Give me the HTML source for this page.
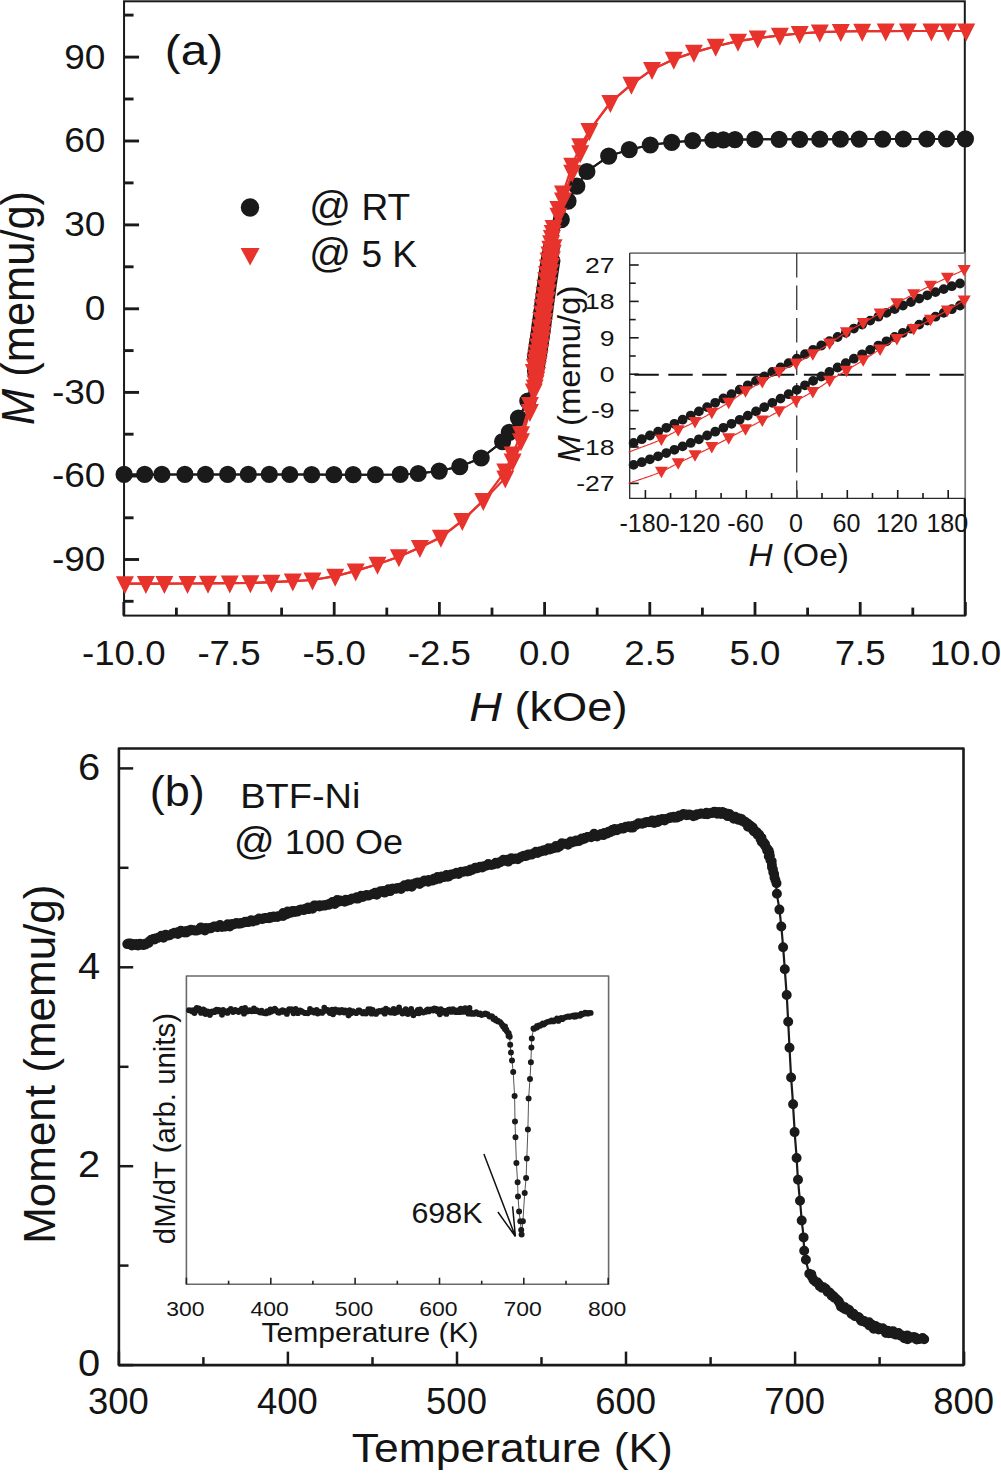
<!DOCTYPE html>
<html><head><meta charset="utf-8"><style>
html,body{margin:0;padding:0;background:#fff;}
svg{display:block;}
text{font-family:'Liberation Sans', sans-serif;fill:#141414;}
</style></head><body>
<svg width="1001" height="1473" viewBox="0 0 1001 1473">
<rect width="1001" height="1473" fill="#fff"/>
<rect x="124.05" y="1.3" width="840.75" height="614.30" fill="none" stroke="#1a1a1a" stroke-width="2"/>
<line x1="124.05" y1="601.3" x2="133.55" y2="601.3" stroke="#1a1a1a" stroke-width="2.9"/>
<line x1="124.05" y1="559.5" x2="139.05" y2="559.5" stroke="#1a1a1a" stroke-width="2.9"/>
<line x1="124.05" y1="517.8" x2="133.55" y2="517.8" stroke="#1a1a1a" stroke-width="2.9"/>
<line x1="124.05" y1="476.0" x2="139.05" y2="476.0" stroke="#1a1a1a" stroke-width="2.9"/>
<line x1="124.05" y1="434.2" x2="133.55" y2="434.2" stroke="#1a1a1a" stroke-width="2.9"/>
<line x1="124.05" y1="392.4" x2="139.05" y2="392.4" stroke="#1a1a1a" stroke-width="2.9"/>
<line x1="124.05" y1="350.6" x2="133.55" y2="350.6" stroke="#1a1a1a" stroke-width="2.9"/>
<line x1="124.05" y1="308.8" x2="139.05" y2="308.8" stroke="#1a1a1a" stroke-width="2.9"/>
<line x1="124.05" y1="266.8" x2="133.55" y2="266.8" stroke="#1a1a1a" stroke-width="2.9"/>
<line x1="124.05" y1="224.9" x2="139.05" y2="224.9" stroke="#1a1a1a" stroke-width="2.9"/>
<line x1="124.05" y1="182.9" x2="133.55" y2="182.9" stroke="#1a1a1a" stroke-width="2.9"/>
<line x1="124.05" y1="141.0" x2="139.05" y2="141.0" stroke="#1a1a1a" stroke-width="2.9"/>
<line x1="124.05" y1="99.0" x2="133.55" y2="99.0" stroke="#1a1a1a" stroke-width="2.9"/>
<line x1="124.05" y1="57.1" x2="139.05" y2="57.1" stroke="#1a1a1a" stroke-width="2.9"/>
<line x1="124.05" y1="15.1" x2="133.55" y2="15.1" stroke="#1a1a1a" stroke-width="2.9"/>
<text x="0" y="0" font-size="35.52" text-anchor="end" transform="translate(105.47 571.05) scale(1.0440 1)">-90</text>
<text x="0" y="0" font-size="35.52" text-anchor="end" transform="translate(105.47 487.47) scale(1.0440 1)">-60</text>
<text x="0" y="0" font-size="35.52" text-anchor="end" transform="translate(105.47 403.89) scale(1.0440 1)">-30</text>
<text x="0" y="0" font-size="35.52" text-anchor="end" transform="translate(105.47 320.31) scale(1.0440 1)">0</text>
<text x="0" y="0" font-size="35.52" text-anchor="end" transform="translate(105.47 236.40) scale(1.0440 1)">30</text>
<text x="0" y="0" font-size="35.52" text-anchor="end" transform="translate(105.47 152.49) scale(1.0440 1)">60</text>
<text x="0" y="0" font-size="35.52" text-anchor="end" transform="translate(105.47 68.58) scale(1.0440 1)">90</text>
<line x1="123.8" y1="615.6" x2="123.8" y2="602.0" stroke="#1a1a1a" stroke-width="2.8"/>
<line x1="176.4" y1="615.6" x2="176.4" y2="607.6" stroke="#1a1a1a" stroke-width="2.8"/>
<line x1="229.0" y1="615.6" x2="229.0" y2="602.0" stroke="#1a1a1a" stroke-width="2.8"/>
<line x1="281.6" y1="615.6" x2="281.6" y2="607.6" stroke="#1a1a1a" stroke-width="2.8"/>
<line x1="334.2" y1="615.6" x2="334.2" y2="602.0" stroke="#1a1a1a" stroke-width="2.8"/>
<line x1="386.8" y1="615.6" x2="386.8" y2="607.6" stroke="#1a1a1a" stroke-width="2.8"/>
<line x1="439.4" y1="615.6" x2="439.4" y2="602.0" stroke="#1a1a1a" stroke-width="2.8"/>
<line x1="492.0" y1="615.6" x2="492.0" y2="607.6" stroke="#1a1a1a" stroke-width="2.8"/>
<line x1="544.6" y1="615.6" x2="544.6" y2="602.0" stroke="#1a1a1a" stroke-width="2.8"/>
<line x1="597.2" y1="615.6" x2="597.2" y2="607.6" stroke="#1a1a1a" stroke-width="2.8"/>
<line x1="649.8" y1="615.6" x2="649.8" y2="602.0" stroke="#1a1a1a" stroke-width="2.8"/>
<line x1="702.4" y1="615.6" x2="702.4" y2="607.6" stroke="#1a1a1a" stroke-width="2.8"/>
<line x1="755.0" y1="615.6" x2="755.0" y2="602.0" stroke="#1a1a1a" stroke-width="2.8"/>
<line x1="807.6" y1="615.6" x2="807.6" y2="607.6" stroke="#1a1a1a" stroke-width="2.8"/>
<line x1="860.2" y1="615.6" x2="860.2" y2="602.0" stroke="#1a1a1a" stroke-width="2.8"/>
<line x1="912.8" y1="615.6" x2="912.8" y2="607.6" stroke="#1a1a1a" stroke-width="2.8"/>
<line x1="965.4" y1="615.6" x2="965.4" y2="602.0" stroke="#1a1a1a" stroke-width="2.8"/>
<text x="0" y="0" font-size="34.97" text-anchor="middle" transform="translate(123.81 665.00) scale(1.0496 1)">-10.0</text>
<text x="0" y="0" font-size="34.97" text-anchor="middle" transform="translate(229.01 665.00) scale(1.0496 1)">-7.5</text>
<text x="0" y="0" font-size="34.97" text-anchor="middle" transform="translate(334.21 665.00) scale(1.0496 1)">-5.0</text>
<text x="0" y="0" font-size="34.97" text-anchor="middle" transform="translate(439.41 665.00) scale(1.0496 1)">-2.5</text>
<text x="0" y="0" font-size="34.97" text-anchor="middle" transform="translate(544.61 665.00) scale(1.0496 1)">0.0</text>
<text x="0" y="0" font-size="34.97" text-anchor="middle" transform="translate(649.81 665.00) scale(1.0496 1)">2.5</text>
<text x="0" y="0" font-size="34.97" text-anchor="middle" transform="translate(755.01 665.00) scale(1.0496 1)">5.0</text>
<text x="0" y="0" font-size="34.97" text-anchor="middle" transform="translate(860.21 665.00) scale(1.0496 1)">7.5</text>
<text x="0" y="0" font-size="34.97" text-anchor="middle" transform="translate(965.41 665.00) scale(1.0496 1)">10.0</text>
<text x="0" y="0" font-size="41.31" text-anchor="start" transform="translate(469.20 720.96) scale(1.0945 1)"><tspan font-style="italic">H</tspan> (kOe)</text>
<text x="0" y="0" font-size="43.42" text-anchor="middle" transform="translate(34.28 307.90) rotate(-90) scale(1 1.0468)"><tspan font-style="italic">M</tspan> (memu/g)</text>
<text x="0" y="0" font-size="42.42" text-anchor="start" transform="translate(164.75 65.11) scale(1.1262 1)">(a)</text>
<circle cx="250" cy="207.5" r="9.2" fill="#1a1a1a"/>
<path d="M240.6 248 L259.6 248 L250.1 265.6 Z" fill="#e8322c"/>
<text x="0" y="0" font-size="36.00" text-anchor="start" transform="translate(308.99 220.11) scale(1.0300 1)"><tspan font-size="1.12em">@</tspan> RT</text>
<text x="0" y="0" font-size="36.00" text-anchor="start" transform="translate(309.01 266.61) scale(1.0300 1)"><tspan font-size="1.12em">@</tspan> 5 K</text>
<g>
<path d="M965.4 138.9 L946.5 138.9 L926.8 139.0 L903.3 139.0 L882.7 139.1 L859.2 139.1 L840.4 139.2 L819.8 139.2 L799.7 139.3 L779.1 139.3 L754.8 139.4 L735.0 139.6 L723.3 139.8 L712.8 140.0 L692.7 140.7 L671.7 142.3 L650.3 145.0 L629.3 149.6 L608.7 156.1 L586.9 171.5 L576.8 186.2 L568.0 201.2 L561.3 219.6 L551.9 246.0 L551.4 248.1 L551.0 250.2 L550.6 252.5 L550.1 254.9 L549.7 257.4 L549.2 259.9 L548.8 262.6 L548.3 265.3 L547.9 268.2 L547.5 271.1 L547.0 274.0 L546.6 277.1 L546.1 280.2 L545.7 283.3 L545.2 286.5 L544.8 289.7 L544.4 293.0 L543.9 296.2 L543.5 299.5 L543.0 302.9 L542.6 306.2 L542.2 309.5 L541.7 312.8 L541.3 316.2 L540.8 319.5 L540.4 322.8 L539.9 326.0 L539.5 329.3 L539.1 332.5 L538.6 335.6 L538.2 338.7 L537.7 341.8 L537.3 344.8 L536.8 347.7 L536.4 350.6 L536.0 353.4 L535.5 356.1 L527.8 401.0 L518.5 418.1 L509.3 432.3 L502.6 441.6 L481.2 458.0 L459.8 466.6 L439.2 471.1 L418.2 473.5 L400.2 474.4 L375.4 474.7 L353.2 474.7 L333.9 474.7 L311.7 474.6 L289.8 474.5 L269.3 474.4 L248.3 474.4 L227.7 474.4 L205.5 474.4 L184.9 474.4 L161.9 474.4 L144.7 474.4 L124.1 474.4" fill="none" stroke="#1a1a1a" stroke-width="2"/>
<path d="M124.1 474.4 L144.7 474.4 L161.9 474.4 L184.9 474.4 L205.5 474.4 L227.7 474.4 L248.3 474.4 L269.3 474.4 L289.8 474.5 L311.7 474.6 L333.9 474.7 L353.2 474.7 L375.4 474.7 L400.2 474.4 L418.2 473.5 L439.2 471.1 L459.8 466.6 L481.2 458.0 L502.6 441.6 L509.3 432.3 L518.5 418.1 L527.8 401.0 L535.5 371.2 L536.0 369.1 L536.4 367.0 L536.8 364.7 L537.3 362.3 L537.7 359.8 L538.2 357.3 L538.6 354.6 L539.1 351.9 L539.5 349.0 L539.9 346.1 L540.4 343.2 L540.8 340.1 L541.3 337.0 L541.7 333.9 L542.2 330.7 L542.6 327.5 L543.0 324.2 L543.5 321.0 L543.9 317.7 L544.4 314.3 L544.8 311.0 L545.2 307.7 L545.7 304.4 L546.1 301.0 L546.6 297.7 L547.0 294.4 L547.5 291.2 L547.9 287.9 L548.3 284.7 L548.8 281.6 L549.2 278.5 L549.7 275.4 L550.1 272.4 L550.6 269.5 L551.0 266.6 L551.4 263.8 L551.9 261.1 L561.3 219.6 L568.0 201.2 L576.8 186.2 L586.9 171.5 L608.7 156.1 L629.3 149.6 L650.3 145.0 L671.7 142.3 L692.7 140.7 L712.8 140.0 L723.3 139.8 L735.0 139.6 L754.8 139.4 L779.1 139.3 L799.7 139.3 L819.8 139.2 L840.4 139.2 L859.2 139.1 L882.7 139.1 L903.3 139.0 L926.8 139.0 L946.5 138.9 L965.4 138.9" fill="none" stroke="#1a1a1a" stroke-width="2"/>
<path d="M956.8 138.9a8.6 8.6 0 1 0 17.2 0a8.6 8.6 0 1 0 -17.2 0zM937.9 138.9a8.6 8.6 0 1 0 17.2 0a8.6 8.6 0 1 0 -17.2 0zM918.2 139.0a8.6 8.6 0 1 0 17.2 0a8.6 8.6 0 1 0 -17.2 0zM894.7 139.0a8.6 8.6 0 1 0 17.2 0a8.6 8.6 0 1 0 -17.2 0zM874.1 139.1a8.6 8.6 0 1 0 17.2 0a8.6 8.6 0 1 0 -17.2 0zM850.6 139.1a8.6 8.6 0 1 0 17.2 0a8.6 8.6 0 1 0 -17.2 0zM831.8 139.2a8.6 8.6 0 1 0 17.2 0a8.6 8.6 0 1 0 -17.2 0zM811.2 139.2a8.6 8.6 0 1 0 17.2 0a8.6 8.6 0 1 0 -17.2 0zM791.1 139.3a8.6 8.6 0 1 0 17.2 0a8.6 8.6 0 1 0 -17.2 0zM770.5 139.3a8.6 8.6 0 1 0 17.2 0a8.6 8.6 0 1 0 -17.2 0zM746.2 139.4a8.6 8.6 0 1 0 17.2 0a8.6 8.6 0 1 0 -17.2 0zM726.4 139.6a8.6 8.6 0 1 0 17.2 0a8.6 8.6 0 1 0 -17.2 0zM714.7 139.8a8.6 8.6 0 1 0 17.2 0a8.6 8.6 0 1 0 -17.2 0zM704.2 140.0a8.6 8.6 0 1 0 17.2 0a8.6 8.6 0 1 0 -17.2 0zM684.1 140.7a8.6 8.6 0 1 0 17.2 0a8.6 8.6 0 1 0 -17.2 0zM663.1 142.3a8.6 8.6 0 1 0 17.2 0a8.6 8.6 0 1 0 -17.2 0zM641.7 145.0a8.6 8.6 0 1 0 17.2 0a8.6 8.6 0 1 0 -17.2 0zM620.7 149.6a8.6 8.6 0 1 0 17.2 0a8.6 8.6 0 1 0 -17.2 0zM600.1 156.1a8.6 8.6 0 1 0 17.2 0a8.6 8.6 0 1 0 -17.2 0zM578.3 171.5a8.6 8.6 0 1 0 17.2 0a8.6 8.6 0 1 0 -17.2 0zM568.2 186.2a8.6 8.6 0 1 0 17.2 0a8.6 8.6 0 1 0 -17.2 0zM559.4 201.2a8.6 8.6 0 1 0 17.2 0a8.6 8.6 0 1 0 -17.2 0zM552.7 219.6a8.6 8.6 0 1 0 17.2 0a8.6 8.6 0 1 0 -17.2 0zM543.3 246.0a8.6 8.6 0 1 0 17.2 0a8.6 8.6 0 1 0 -17.2 0zM542.8 248.1a8.6 8.6 0 1 0 17.2 0a8.6 8.6 0 1 0 -17.2 0zM542.4 250.2a8.6 8.6 0 1 0 17.2 0a8.6 8.6 0 1 0 -17.2 0zM542.0 252.5a8.6 8.6 0 1 0 17.2 0a8.6 8.6 0 1 0 -17.2 0zM541.5 254.9a8.6 8.6 0 1 0 17.2 0a8.6 8.6 0 1 0 -17.2 0zM541.1 257.4a8.6 8.6 0 1 0 17.2 0a8.6 8.6 0 1 0 -17.2 0zM540.6 259.9a8.6 8.6 0 1 0 17.2 0a8.6 8.6 0 1 0 -17.2 0zM540.2 262.6a8.6 8.6 0 1 0 17.2 0a8.6 8.6 0 1 0 -17.2 0zM539.7 265.3a8.6 8.6 0 1 0 17.2 0a8.6 8.6 0 1 0 -17.2 0zM539.3 268.2a8.6 8.6 0 1 0 17.2 0a8.6 8.6 0 1 0 -17.2 0zM538.9 271.1a8.6 8.6 0 1 0 17.2 0a8.6 8.6 0 1 0 -17.2 0zM538.4 274.0a8.6 8.6 0 1 0 17.2 0a8.6 8.6 0 1 0 -17.2 0zM538.0 277.1a8.6 8.6 0 1 0 17.2 0a8.6 8.6 0 1 0 -17.2 0zM537.5 280.2a8.6 8.6 0 1 0 17.2 0a8.6 8.6 0 1 0 -17.2 0zM537.1 283.3a8.6 8.6 0 1 0 17.2 0a8.6 8.6 0 1 0 -17.2 0zM536.6 286.5a8.6 8.6 0 1 0 17.2 0a8.6 8.6 0 1 0 -17.2 0zM536.2 289.7a8.6 8.6 0 1 0 17.2 0a8.6 8.6 0 1 0 -17.2 0zM535.8 293.0a8.6 8.6 0 1 0 17.2 0a8.6 8.6 0 1 0 -17.2 0zM535.3 296.2a8.6 8.6 0 1 0 17.2 0a8.6 8.6 0 1 0 -17.2 0zM534.9 299.5a8.6 8.6 0 1 0 17.2 0a8.6 8.6 0 1 0 -17.2 0zM534.4 302.9a8.6 8.6 0 1 0 17.2 0a8.6 8.6 0 1 0 -17.2 0zM534.0 306.2a8.6 8.6 0 1 0 17.2 0a8.6 8.6 0 1 0 -17.2 0zM533.6 309.5a8.6 8.6 0 1 0 17.2 0a8.6 8.6 0 1 0 -17.2 0zM533.1 312.8a8.6 8.6 0 1 0 17.2 0a8.6 8.6 0 1 0 -17.2 0zM532.7 316.2a8.6 8.6 0 1 0 17.2 0a8.6 8.6 0 1 0 -17.2 0zM532.2 319.5a8.6 8.6 0 1 0 17.2 0a8.6 8.6 0 1 0 -17.2 0zM531.8 322.8a8.6 8.6 0 1 0 17.2 0a8.6 8.6 0 1 0 -17.2 0zM531.3 326.0a8.6 8.6 0 1 0 17.2 0a8.6 8.6 0 1 0 -17.2 0zM530.9 329.3a8.6 8.6 0 1 0 17.2 0a8.6 8.6 0 1 0 -17.2 0zM530.5 332.5a8.6 8.6 0 1 0 17.2 0a8.6 8.6 0 1 0 -17.2 0zM530.0 335.6a8.6 8.6 0 1 0 17.2 0a8.6 8.6 0 1 0 -17.2 0zM529.6 338.7a8.6 8.6 0 1 0 17.2 0a8.6 8.6 0 1 0 -17.2 0zM529.1 341.8a8.6 8.6 0 1 0 17.2 0a8.6 8.6 0 1 0 -17.2 0zM528.7 344.8a8.6 8.6 0 1 0 17.2 0a8.6 8.6 0 1 0 -17.2 0zM528.2 347.7a8.6 8.6 0 1 0 17.2 0a8.6 8.6 0 1 0 -17.2 0zM527.8 350.6a8.6 8.6 0 1 0 17.2 0a8.6 8.6 0 1 0 -17.2 0zM527.4 353.4a8.6 8.6 0 1 0 17.2 0a8.6 8.6 0 1 0 -17.2 0zM526.9 356.1a8.6 8.6 0 1 0 17.2 0a8.6 8.6 0 1 0 -17.2 0zM519.2 401.0a8.6 8.6 0 1 0 17.2 0a8.6 8.6 0 1 0 -17.2 0zM509.9 418.1a8.6 8.6 0 1 0 17.2 0a8.6 8.6 0 1 0 -17.2 0zM500.7 432.3a8.6 8.6 0 1 0 17.2 0a8.6 8.6 0 1 0 -17.2 0zM494.0 441.6a8.6 8.6 0 1 0 17.2 0a8.6 8.6 0 1 0 -17.2 0zM472.6 458.0a8.6 8.6 0 1 0 17.2 0a8.6 8.6 0 1 0 -17.2 0zM451.2 466.6a8.6 8.6 0 1 0 17.2 0a8.6 8.6 0 1 0 -17.2 0zM430.6 471.1a8.6 8.6 0 1 0 17.2 0a8.6 8.6 0 1 0 -17.2 0zM409.6 473.5a8.6 8.6 0 1 0 17.2 0a8.6 8.6 0 1 0 -17.2 0zM391.6 474.4a8.6 8.6 0 1 0 17.2 0a8.6 8.6 0 1 0 -17.2 0zM366.8 474.7a8.6 8.6 0 1 0 17.2 0a8.6 8.6 0 1 0 -17.2 0zM344.6 474.7a8.6 8.6 0 1 0 17.2 0a8.6 8.6 0 1 0 -17.2 0zM325.3 474.7a8.6 8.6 0 1 0 17.2 0a8.6 8.6 0 1 0 -17.2 0zM303.1 474.6a8.6 8.6 0 1 0 17.2 0a8.6 8.6 0 1 0 -17.2 0zM281.2 474.5a8.6 8.6 0 1 0 17.2 0a8.6 8.6 0 1 0 -17.2 0zM260.7 474.4a8.6 8.6 0 1 0 17.2 0a8.6 8.6 0 1 0 -17.2 0zM239.7 474.4a8.6 8.6 0 1 0 17.2 0a8.6 8.6 0 1 0 -17.2 0zM219.1 474.4a8.6 8.6 0 1 0 17.2 0a8.6 8.6 0 1 0 -17.2 0zM196.9 474.4a8.6 8.6 0 1 0 17.2 0a8.6 8.6 0 1 0 -17.2 0zM176.3 474.4a8.6 8.6 0 1 0 17.2 0a8.6 8.6 0 1 0 -17.2 0zM153.3 474.4a8.6 8.6 0 1 0 17.2 0a8.6 8.6 0 1 0 -17.2 0zM136.1 474.4a8.6 8.6 0 1 0 17.2 0a8.6 8.6 0 1 0 -17.2 0zM115.5 474.4a8.6 8.6 0 1 0 17.2 0a8.6 8.6 0 1 0 -17.2 0zM115.5 474.4a8.6 8.6 0 1 0 17.2 0a8.6 8.6 0 1 0 -17.2 0zM136.1 474.4a8.6 8.6 0 1 0 17.2 0a8.6 8.6 0 1 0 -17.2 0zM153.3 474.4a8.6 8.6 0 1 0 17.2 0a8.6 8.6 0 1 0 -17.2 0zM176.3 474.4a8.6 8.6 0 1 0 17.2 0a8.6 8.6 0 1 0 -17.2 0zM196.9 474.4a8.6 8.6 0 1 0 17.2 0a8.6 8.6 0 1 0 -17.2 0zM219.1 474.4a8.6 8.6 0 1 0 17.2 0a8.6 8.6 0 1 0 -17.2 0zM239.7 474.4a8.6 8.6 0 1 0 17.2 0a8.6 8.6 0 1 0 -17.2 0zM260.7 474.4a8.6 8.6 0 1 0 17.2 0a8.6 8.6 0 1 0 -17.2 0zM281.2 474.5a8.6 8.6 0 1 0 17.2 0a8.6 8.6 0 1 0 -17.2 0zM303.1 474.6a8.6 8.6 0 1 0 17.2 0a8.6 8.6 0 1 0 -17.2 0zM325.3 474.7a8.6 8.6 0 1 0 17.2 0a8.6 8.6 0 1 0 -17.2 0zM344.6 474.7a8.6 8.6 0 1 0 17.2 0a8.6 8.6 0 1 0 -17.2 0zM366.8 474.7a8.6 8.6 0 1 0 17.2 0a8.6 8.6 0 1 0 -17.2 0zM391.6 474.4a8.6 8.6 0 1 0 17.2 0a8.6 8.6 0 1 0 -17.2 0zM409.6 473.5a8.6 8.6 0 1 0 17.2 0a8.6 8.6 0 1 0 -17.2 0zM430.6 471.1a8.6 8.6 0 1 0 17.2 0a8.6 8.6 0 1 0 -17.2 0zM451.2 466.6a8.6 8.6 0 1 0 17.2 0a8.6 8.6 0 1 0 -17.2 0zM472.6 458.0a8.6 8.6 0 1 0 17.2 0a8.6 8.6 0 1 0 -17.2 0zM494.0 441.6a8.6 8.6 0 1 0 17.2 0a8.6 8.6 0 1 0 -17.2 0zM500.7 432.3a8.6 8.6 0 1 0 17.2 0a8.6 8.6 0 1 0 -17.2 0zM509.9 418.1a8.6 8.6 0 1 0 17.2 0a8.6 8.6 0 1 0 -17.2 0zM519.2 401.0a8.6 8.6 0 1 0 17.2 0a8.6 8.6 0 1 0 -17.2 0zM526.9 371.2a8.6 8.6 0 1 0 17.2 0a8.6 8.6 0 1 0 -17.2 0zM527.4 369.1a8.6 8.6 0 1 0 17.2 0a8.6 8.6 0 1 0 -17.2 0zM527.8 367.0a8.6 8.6 0 1 0 17.2 0a8.6 8.6 0 1 0 -17.2 0zM528.2 364.7a8.6 8.6 0 1 0 17.2 0a8.6 8.6 0 1 0 -17.2 0zM528.7 362.3a8.6 8.6 0 1 0 17.2 0a8.6 8.6 0 1 0 -17.2 0zM529.1 359.8a8.6 8.6 0 1 0 17.2 0a8.6 8.6 0 1 0 -17.2 0zM529.6 357.3a8.6 8.6 0 1 0 17.2 0a8.6 8.6 0 1 0 -17.2 0zM530.0 354.6a8.6 8.6 0 1 0 17.2 0a8.6 8.6 0 1 0 -17.2 0zM530.5 351.9a8.6 8.6 0 1 0 17.2 0a8.6 8.6 0 1 0 -17.2 0zM530.9 349.0a8.6 8.6 0 1 0 17.2 0a8.6 8.6 0 1 0 -17.2 0zM531.3 346.1a8.6 8.6 0 1 0 17.2 0a8.6 8.6 0 1 0 -17.2 0zM531.8 343.2a8.6 8.6 0 1 0 17.2 0a8.6 8.6 0 1 0 -17.2 0zM532.2 340.1a8.6 8.6 0 1 0 17.2 0a8.6 8.6 0 1 0 -17.2 0zM532.7 337.0a8.6 8.6 0 1 0 17.2 0a8.6 8.6 0 1 0 -17.2 0zM533.1 333.9a8.6 8.6 0 1 0 17.2 0a8.6 8.6 0 1 0 -17.2 0zM533.6 330.7a8.6 8.6 0 1 0 17.2 0a8.6 8.6 0 1 0 -17.2 0zM534.0 327.5a8.6 8.6 0 1 0 17.2 0a8.6 8.6 0 1 0 -17.2 0zM534.4 324.2a8.6 8.6 0 1 0 17.2 0a8.6 8.6 0 1 0 -17.2 0zM534.9 321.0a8.6 8.6 0 1 0 17.2 0a8.6 8.6 0 1 0 -17.2 0zM535.3 317.7a8.6 8.6 0 1 0 17.2 0a8.6 8.6 0 1 0 -17.2 0zM535.8 314.3a8.6 8.6 0 1 0 17.2 0a8.6 8.6 0 1 0 -17.2 0zM536.2 311.0a8.6 8.6 0 1 0 17.2 0a8.6 8.6 0 1 0 -17.2 0zM536.6 307.7a8.6 8.6 0 1 0 17.2 0a8.6 8.6 0 1 0 -17.2 0zM537.1 304.4a8.6 8.6 0 1 0 17.2 0a8.6 8.6 0 1 0 -17.2 0zM537.5 301.0a8.6 8.6 0 1 0 17.2 0a8.6 8.6 0 1 0 -17.2 0zM538.0 297.7a8.6 8.6 0 1 0 17.2 0a8.6 8.6 0 1 0 -17.2 0zM538.4 294.4a8.6 8.6 0 1 0 17.2 0a8.6 8.6 0 1 0 -17.2 0zM538.9 291.2a8.6 8.6 0 1 0 17.2 0a8.6 8.6 0 1 0 -17.2 0zM539.3 287.9a8.6 8.6 0 1 0 17.2 0a8.6 8.6 0 1 0 -17.2 0zM539.7 284.7a8.6 8.6 0 1 0 17.2 0a8.6 8.6 0 1 0 -17.2 0zM540.2 281.6a8.6 8.6 0 1 0 17.2 0a8.6 8.6 0 1 0 -17.2 0zM540.6 278.5a8.6 8.6 0 1 0 17.2 0a8.6 8.6 0 1 0 -17.2 0zM541.1 275.4a8.6 8.6 0 1 0 17.2 0a8.6 8.6 0 1 0 -17.2 0zM541.5 272.4a8.6 8.6 0 1 0 17.2 0a8.6 8.6 0 1 0 -17.2 0zM542.0 269.5a8.6 8.6 0 1 0 17.2 0a8.6 8.6 0 1 0 -17.2 0zM542.4 266.6a8.6 8.6 0 1 0 17.2 0a8.6 8.6 0 1 0 -17.2 0zM542.8 263.8a8.6 8.6 0 1 0 17.2 0a8.6 8.6 0 1 0 -17.2 0zM543.3 261.1a8.6 8.6 0 1 0 17.2 0a8.6 8.6 0 1 0 -17.2 0zM552.7 219.6a8.6 8.6 0 1 0 17.2 0a8.6 8.6 0 1 0 -17.2 0zM559.4 201.2a8.6 8.6 0 1 0 17.2 0a8.6 8.6 0 1 0 -17.2 0zM568.2 186.2a8.6 8.6 0 1 0 17.2 0a8.6 8.6 0 1 0 -17.2 0zM578.3 171.5a8.6 8.6 0 1 0 17.2 0a8.6 8.6 0 1 0 -17.2 0zM600.1 156.1a8.6 8.6 0 1 0 17.2 0a8.6 8.6 0 1 0 -17.2 0zM620.7 149.6a8.6 8.6 0 1 0 17.2 0a8.6 8.6 0 1 0 -17.2 0zM641.7 145.0a8.6 8.6 0 1 0 17.2 0a8.6 8.6 0 1 0 -17.2 0zM663.1 142.3a8.6 8.6 0 1 0 17.2 0a8.6 8.6 0 1 0 -17.2 0zM684.1 140.7a8.6 8.6 0 1 0 17.2 0a8.6 8.6 0 1 0 -17.2 0zM704.2 140.0a8.6 8.6 0 1 0 17.2 0a8.6 8.6 0 1 0 -17.2 0zM714.7 139.8a8.6 8.6 0 1 0 17.2 0a8.6 8.6 0 1 0 -17.2 0zM726.4 139.6a8.6 8.6 0 1 0 17.2 0a8.6 8.6 0 1 0 -17.2 0zM746.2 139.4a8.6 8.6 0 1 0 17.2 0a8.6 8.6 0 1 0 -17.2 0zM770.5 139.3a8.6 8.6 0 1 0 17.2 0a8.6 8.6 0 1 0 -17.2 0zM791.1 139.3a8.6 8.6 0 1 0 17.2 0a8.6 8.6 0 1 0 -17.2 0zM811.2 139.2a8.6 8.6 0 1 0 17.2 0a8.6 8.6 0 1 0 -17.2 0zM831.8 139.2a8.6 8.6 0 1 0 17.2 0a8.6 8.6 0 1 0 -17.2 0zM850.6 139.1a8.6 8.6 0 1 0 17.2 0a8.6 8.6 0 1 0 -17.2 0zM874.1 139.1a8.6 8.6 0 1 0 17.2 0a8.6 8.6 0 1 0 -17.2 0zM894.7 139.0a8.6 8.6 0 1 0 17.2 0a8.6 8.6 0 1 0 -17.2 0zM918.2 139.0a8.6 8.6 0 1 0 17.2 0a8.6 8.6 0 1 0 -17.2 0zM937.9 138.9a8.6 8.6 0 1 0 17.2 0a8.6 8.6 0 1 0 -17.2 0zM956.8 138.9a8.6 8.6 0 1 0 17.2 0a8.6 8.6 0 1 0 -17.2 0z" fill="#1a1a1a"/>
<path d="M966.2 31.0 L948.2 31.0 L931.4 31.0 L907.9 31.0 L885.7 31.1 L862.2 31.2 L840.8 31.5 L819.8 32.1 L799.7 33.5 L779.9 35.4 L757.7 38.2 L738.0 41.2 L715.7 46.3 L693.9 52.4 L673.8 59.3 L652.0 69.6 L631.4 84.4 L610.4 102.5 L589.4 130.6 L580.2 145.9 L572.2 165.3 L563.0 193.1 L558.4 208.4 L553.6 227.4 L552.7 232.4 L551.9 237.7 L551.1 242.9 L550.3 248.4 L549.5 254.1 L548.6 260.2 L547.8 267.0 L547.0 273.5 L546.2 279.8 L545.3 287.4 L544.5 294.6 L543.7 300.8 L542.9 306.5 L542.1 313.2 L541.2 319.5 L540.4 327.1 L539.6 334.0 L538.8 340.3 L537.9 345.9 L537.1 352.1 L536.3 357.1 L535.5 361.3 L534.7 366.3 L533.8 371.7 L529.9 411.5 L521.0 440.7 L512.6 461.1 L505.3 478.0 L483.3 500.6 L462.3 520.6 L440.9 537.3 L419.9 547.6 L398.9 556.8 L377.5 564.3 L355.7 570.9 L335.2 576.2 L312.5 580.0 L292.8 581.2 L271.4 582.2 L250.4 582.9 L229.8 583.1 L208.0 583.3 L187.5 583.5 L164.4 583.6 L145.9 583.7 L124.9 583.7" fill="none" stroke="#e8322c" stroke-width="2.2"/>
<path d="M124.9 583.7 L145.9 583.7 L164.4 583.6 L187.5 583.5 L208.0 583.3 L229.8 583.1 L250.4 582.9 L271.4 582.2 L292.8 581.2 L312.5 580.0 L335.2 576.2 L355.7 570.9 L377.5 564.3 L398.9 556.8 L419.9 547.6 L440.9 537.3 L462.3 520.6 L483.3 500.6 L505.3 471.1 L512.6 454.1 L521.0 433.8 L529.9 404.6 L533.8 391.0 L534.7 386.9 L535.5 382.9 L536.3 379.0 L537.1 374.5 L537.9 368.7 L538.8 363.3 L539.6 357.7 L540.4 351.7 L541.2 345.7 L542.1 339.7 L542.9 333.4 L543.7 326.6 L544.5 320.4 L545.3 313.0 L546.2 306.2 L547.0 299.2 L547.8 291.8 L548.6 284.7 L549.5 278.1 L550.3 271.8 L551.1 265.6 L551.9 258.8 L552.7 252.2 L553.6 246.8 L558.4 215.4 L563.0 200.1 L572.2 172.3 L580.2 152.8 L589.4 130.6 L610.4 102.5 L631.4 84.4 L652.0 69.6 L673.8 59.3 L693.9 52.4 L715.7 46.3 L738.0 41.2 L757.7 38.2 L779.9 35.4 L799.7 33.5 L819.8 32.1 L840.8 31.5 L862.2 31.2 L885.7 31.1 L907.9 31.0 L931.4 31.0 L948.2 31.0 L966.2 31.0" fill="none" stroke="#e8322c" stroke-width="2.2"/>
<path d="M957.2 23.4h18.0l-9.0 18.0zM939.2 23.4h18.0l-9.0 18.0zM922.4 23.4h18.0l-9.0 18.0zM898.9 23.5h18.0l-9.0 18.0zM876.7 23.6h18.0l-9.0 18.0zM853.2 23.7h18.0l-9.0 18.0zM831.8 23.9h18.0l-9.0 18.0zM810.8 24.5h18.0l-9.0 18.0zM790.7 25.9h18.0l-9.0 18.0zM770.9 27.8h18.0l-9.0 18.0zM748.7 30.6h18.0l-9.0 18.0zM729.0 33.7h18.0l-9.0 18.0zM706.7 38.7h18.0l-9.0 18.0zM684.9 44.8h18.0l-9.0 18.0zM664.8 51.8h18.0l-9.0 18.0zM643.0 62.1h18.0l-9.0 18.0zM622.4 76.8h18.0l-9.0 18.0zM601.4 94.9h18.0l-9.0 18.0zM580.4 123.0h18.0l-9.0 18.0zM571.2 138.3h18.0l-9.0 18.0zM563.2 157.8h18.0l-9.0 18.0zM554.0 185.6h18.0l-9.0 18.0zM549.4 200.9h18.0l-9.0 18.0zM544.6 219.9h18.0l-9.0 18.0zM543.7 224.9h18.0l-9.0 18.0zM542.9 230.1h18.0l-9.0 18.0zM542.1 235.3h18.0l-9.0 18.0zM541.3 240.8h18.0l-9.0 18.0zM540.5 246.5h18.0l-9.0 18.0zM539.6 252.6h18.0l-9.0 18.0zM538.8 259.5h18.0l-9.0 18.0zM538.0 266.0h18.0l-9.0 18.0zM537.2 272.2h18.0l-9.0 18.0zM536.3 279.8h18.0l-9.0 18.0zM535.5 287.0h18.0l-9.0 18.0zM534.7 293.2h18.0l-9.0 18.0zM533.9 298.9h18.0l-9.0 18.0zM533.1 305.6h18.0l-9.0 18.0zM532.2 311.9h18.0l-9.0 18.0zM531.4 319.5h18.0l-9.0 18.0zM530.6 326.5h18.0l-9.0 18.0zM529.8 332.8h18.0l-9.0 18.0zM528.9 338.3h18.0l-9.0 18.0zM528.1 344.5h18.0l-9.0 18.0zM527.3 349.5h18.0l-9.0 18.0zM526.5 353.7h18.0l-9.0 18.0zM525.7 358.7h18.0l-9.0 18.0zM524.8 364.1h18.0l-9.0 18.0zM520.9 404.0h18.0l-9.0 18.0zM512.0 433.2h18.0l-9.0 18.0zM503.6 453.5h18.0l-9.0 18.0zM496.3 470.5h18.0l-9.0 18.0zM474.3 493.0h18.0l-9.0 18.0zM453.3 513.0h18.0l-9.0 18.0zM431.9 529.7h18.0l-9.0 18.0zM410.9 540.0h18.0l-9.0 18.0zM389.9 549.2h18.0l-9.0 18.0zM368.5 556.7h18.0l-9.0 18.0zM346.7 563.4h18.0l-9.0 18.0zM326.2 568.7h18.0l-9.0 18.0zM303.5 572.5h18.0l-9.0 18.0zM283.8 573.6h18.0l-9.0 18.0zM262.4 574.7h18.0l-9.0 18.0zM241.4 575.3h18.0l-9.0 18.0zM220.8 575.6h18.0l-9.0 18.0zM199.0 575.8h18.0l-9.0 18.0zM178.5 575.9h18.0l-9.0 18.0zM155.4 576.1h18.0l-9.0 18.0zM136.9 576.1h18.0l-9.0 18.0zM115.9 576.2h18.0l-9.0 18.0zM115.9 576.2h18.0l-9.0 18.0zM136.9 576.1h18.0l-9.0 18.0zM155.4 576.1h18.0l-9.0 18.0zM178.5 575.9h18.0l-9.0 18.0zM199.0 575.8h18.0l-9.0 18.0zM220.8 575.6h18.0l-9.0 18.0zM241.4 575.3h18.0l-9.0 18.0zM262.4 574.7h18.0l-9.0 18.0zM283.8 573.6h18.0l-9.0 18.0zM303.5 572.5h18.0l-9.0 18.0zM326.2 568.7h18.0l-9.0 18.0zM346.7 563.4h18.0l-9.0 18.0zM368.5 556.7h18.0l-9.0 18.0zM389.9 549.2h18.0l-9.0 18.0zM410.9 540.0h18.0l-9.0 18.0zM431.9 529.7h18.0l-9.0 18.0zM453.3 513.0h18.0l-9.0 18.0zM474.3 493.0h18.0l-9.0 18.0zM496.3 463.5h18.0l-9.0 18.0zM503.6 446.5h18.0l-9.0 18.0zM512.0 426.2h18.0l-9.0 18.0zM520.9 397.0h18.0l-9.0 18.0zM524.8 383.5h18.0l-9.0 18.0zM525.7 379.4h18.0l-9.0 18.0zM526.5 375.3h18.0l-9.0 18.0zM527.3 371.5h18.0l-9.0 18.0zM528.1 366.9h18.0l-9.0 18.0zM528.9 361.1h18.0l-9.0 18.0zM529.8 355.7h18.0l-9.0 18.0zM530.6 350.2h18.0l-9.0 18.0zM531.4 344.2h18.0l-9.0 18.0zM532.2 338.2h18.0l-9.0 18.0zM533.1 332.1h18.0l-9.0 18.0zM533.9 325.9h18.0l-9.0 18.0zM534.7 319.1h18.0l-9.0 18.0zM535.5 312.9h18.0l-9.0 18.0zM536.3 305.4h18.0l-9.0 18.0zM537.2 298.6h18.0l-9.0 18.0zM538.0 291.6h18.0l-9.0 18.0zM538.8 284.3h18.0l-9.0 18.0zM539.6 277.2h18.0l-9.0 18.0zM540.5 270.6h18.0l-9.0 18.0zM541.3 264.3h18.0l-9.0 18.0zM542.1 258.0h18.0l-9.0 18.0zM542.9 251.3h18.0l-9.0 18.0zM543.7 244.7h18.0l-9.0 18.0zM544.6 239.3h18.0l-9.0 18.0zM549.4 207.8h18.0l-9.0 18.0zM554.0 192.5h18.0l-9.0 18.0zM563.2 164.7h18.0l-9.0 18.0zM571.2 145.2h18.0l-9.0 18.0zM580.4 123.0h18.0l-9.0 18.0zM601.4 94.9h18.0l-9.0 18.0zM622.4 76.8h18.0l-9.0 18.0zM643.0 62.1h18.0l-9.0 18.0zM664.8 51.8h18.0l-9.0 18.0zM684.9 44.8h18.0l-9.0 18.0zM706.7 38.7h18.0l-9.0 18.0zM729.0 33.7h18.0l-9.0 18.0zM748.7 30.6h18.0l-9.0 18.0zM770.9 27.8h18.0l-9.0 18.0zM790.7 25.9h18.0l-9.0 18.0zM810.8 24.5h18.0l-9.0 18.0zM831.8 23.9h18.0l-9.0 18.0zM853.2 23.7h18.0l-9.0 18.0zM876.7 23.6h18.0l-9.0 18.0zM898.9 23.5h18.0l-9.0 18.0zM922.4 23.4h18.0l-9.0 18.0zM939.2 23.4h18.0l-9.0 18.0zM957.2 23.4h18.0l-9.0 18.0z" fill="#e8322c"/>
</g>
<rect x="629.7" y="253.1" width="335.5" height="245.3" fill="#fff" stroke="none"/>
<path d="M629.7 253.1 H965.2 V498.4" fill="none" stroke="#7a7a7a" stroke-width="1.8" stroke-linejoin="round"/>
<path d="M629.7 253.1 V498.4 H965.2" fill="none" stroke="#2a2a2a" stroke-width="1.3"/>
<line x1="964.8" y1="498.4" x2="964.8" y2="615.6" stroke="#1a1a1a" stroke-width="1.8"/>
<line x1="629.7" y1="483.4" x2="638.7" y2="483.4" stroke="#1a1a1a" stroke-width="1.6"/>
<line x1="629.7" y1="465.2" x2="635.7" y2="465.2" stroke="#1a1a1a" stroke-width="1.6"/>
<line x1="629.7" y1="447.0" x2="638.7" y2="447.0" stroke="#1a1a1a" stroke-width="1.6"/>
<line x1="629.7" y1="428.8" x2="635.7" y2="428.8" stroke="#1a1a1a" stroke-width="1.6"/>
<line x1="629.7" y1="410.6" x2="638.7" y2="410.6" stroke="#1a1a1a" stroke-width="1.6"/>
<line x1="629.7" y1="392.4" x2="635.7" y2="392.4" stroke="#1a1a1a" stroke-width="1.6"/>
<line x1="629.7" y1="374.2" x2="638.7" y2="374.2" stroke="#1a1a1a" stroke-width="1.6"/>
<line x1="629.7" y1="356.0" x2="635.7" y2="356.0" stroke="#1a1a1a" stroke-width="1.6"/>
<line x1="629.7" y1="337.8" x2="638.7" y2="337.8" stroke="#1a1a1a" stroke-width="1.6"/>
<line x1="629.7" y1="319.6" x2="635.7" y2="319.6" stroke="#1a1a1a" stroke-width="1.6"/>
<line x1="629.7" y1="301.4" x2="638.7" y2="301.4" stroke="#1a1a1a" stroke-width="1.6"/>
<line x1="629.7" y1="283.2" x2="635.7" y2="283.2" stroke="#1a1a1a" stroke-width="1.6"/>
<line x1="629.7" y1="265.0" x2="638.7" y2="265.0" stroke="#1a1a1a" stroke-width="1.6"/>
<line x1="645.4" y1="498.4" x2="645.4" y2="490.0" stroke="#1a1a1a" stroke-width="1.6"/>
<line x1="670.6" y1="498.4" x2="670.6" y2="493.0" stroke="#1a1a1a" stroke-width="1.6"/>
<line x1="695.9" y1="498.4" x2="695.9" y2="490.0" stroke="#1a1a1a" stroke-width="1.6"/>
<line x1="721.1" y1="498.4" x2="721.1" y2="493.0" stroke="#1a1a1a" stroke-width="1.6"/>
<line x1="746.3" y1="498.4" x2="746.3" y2="490.0" stroke="#1a1a1a" stroke-width="1.6"/>
<line x1="771.6" y1="498.4" x2="771.6" y2="493.0" stroke="#1a1a1a" stroke-width="1.6"/>
<line x1="796.8" y1="498.4" x2="796.8" y2="490.0" stroke="#1a1a1a" stroke-width="1.6"/>
<line x1="822.0" y1="498.4" x2="822.0" y2="493.0" stroke="#1a1a1a" stroke-width="1.6"/>
<line x1="847.3" y1="498.4" x2="847.3" y2="490.0" stroke="#1a1a1a" stroke-width="1.6"/>
<line x1="872.5" y1="498.4" x2="872.5" y2="493.0" stroke="#1a1a1a" stroke-width="1.6"/>
<line x1="897.7" y1="498.4" x2="897.7" y2="490.0" stroke="#1a1a1a" stroke-width="1.6"/>
<line x1="923.0" y1="498.4" x2="923.0" y2="493.0" stroke="#1a1a1a" stroke-width="1.6"/>
<line x1="948.2" y1="498.4" x2="948.2" y2="490.0" stroke="#1a1a1a" stroke-width="1.6"/>
<text x="0" y="0" font-size="22.82" text-anchor="end" transform="translate(614.63 272.82) scale(1.1644 1)">27</text>
<text x="0" y="0" font-size="22.82" text-anchor="end" transform="translate(614.63 309.22) scale(1.1644 1)">18</text>
<text x="0" y="0" font-size="22.82" text-anchor="end" transform="translate(614.63 345.62) scale(1.1644 1)">9</text>
<text x="0" y="0" font-size="22.82" text-anchor="end" transform="translate(614.63 382.01) scale(1.1644 1)">0</text>
<text x="0" y="0" font-size="22.82" text-anchor="end" transform="translate(614.63 418.41) scale(1.1644 1)">-9</text>
<text x="0" y="0" font-size="22.82" text-anchor="end" transform="translate(614.63 454.80) scale(1.1644 1)">-18</text>
<text x="0" y="0" font-size="22.82" text-anchor="end" transform="translate(614.63 491.20) scale(1.1644 1)">-27</text>
<text x="0" y="0" font-size="25.39" text-anchor="middle" transform="translate(644.52 532.01) scale(0.9883 1)">-180</text>
<text x="0" y="0" font-size="25.39" text-anchor="middle" transform="translate(694.99 532.01) scale(0.9883 1)">-120</text>
<text x="0" y="0" font-size="25.39" text-anchor="middle" transform="translate(745.45 532.01) scale(0.9883 1)">-60</text>
<text x="0" y="0" font-size="25.39" text-anchor="middle" transform="translate(795.92 532.01) scale(0.9883 1)">0</text>
<text x="0" y="0" font-size="25.39" text-anchor="middle" transform="translate(846.38 532.01) scale(0.9883 1)">60</text>
<text x="0" y="0" font-size="25.39" text-anchor="middle" transform="translate(896.85 532.01) scale(0.9883 1)">120</text>
<text x="0" y="0" font-size="25.39" text-anchor="middle" transform="translate(947.32 532.01) scale(0.9883 1)">180</text>
<text x="0" y="0" font-size="31.20" text-anchor="start" transform="translate(748.40 565.62) scale(1.0747 1)"><tspan font-style="italic">H</tspan> (Oe)</text>
<text x="0" y="0" font-size="32.81" text-anchor="middle" transform="translate(579.65 373.99) rotate(-90) scale(1 0.9346)"><tspan font-style="italic">M</tspan> (memu/g)</text>
<line x1="629.7" y1="374.8" x2="965.2" y2="374.8" stroke="#111" stroke-width="2" stroke-dasharray="24.4 9.5" stroke-dashoffset="29.2"/>
<line x1="796.7" y1="253.1" x2="796.7" y2="498.4" stroke="#444" stroke-width="1.4" stroke-dasharray="24.5 8"/>
<path d="M633.6 442.9 L641.8 439.2 L649.9 435.5 L658.1 431.7 L666.3 427.8 L674.4 423.8 L682.6 419.7 L690.7 415.6 L698.9 411.4 L707.1 407.1 L715.2 402.8 L723.4 398.5 L731.5 394.1 L739.7 389.7 L747.8 385.3 L756.0 380.9 L764.2 376.4 L772.3 371.9 L780.5 367.5 L788.6 363.1 L796.8 358.6 L805.0 354.2 L813.1 349.8 L821.3 345.5 L829.4 341.2 L837.6 337.0 L845.8 332.8 L853.9 328.6 L862.1 324.6 L870.2 320.6 L878.4 316.7 L886.5 312.9 L894.7 309.1 L902.9 305.5 L911.0 302.0 L919.2 298.6 L927.3 295.3 L935.5 292.1 L943.7 289.1 L951.8 286.2 L960.0 283.5" fill="none" stroke="#1a1a1a" stroke-width="1.2"/>
<path d="M633.6 464.9 L641.8 462.2 L649.9 459.3 L658.1 456.3 L666.3 453.1 L674.4 449.8 L682.6 446.4 L690.7 442.9 L698.9 439.3 L707.1 435.5 L715.2 431.7 L723.4 427.8 L731.5 423.8 L739.7 419.8 L747.8 415.6 L756.0 411.4 L764.2 407.2 L772.3 402.9 L780.5 398.6 L788.6 394.2 L796.8 389.8 L805.0 385.3 L813.1 380.9 L821.3 376.5 L829.4 372.0 L837.6 367.5 L845.8 363.1 L853.9 358.7 L862.1 354.3 L870.2 349.9 L878.4 345.6 L886.5 341.3 L894.7 337.0 L902.9 332.8 L911.0 328.7 L919.2 324.6 L927.3 320.6 L935.5 316.7 L943.7 312.9 L951.8 309.2 L960.0 305.5" fill="none" stroke="#1a1a1a" stroke-width="1.2"/>
<path d="M628.7 442.9a4.9 4.9 0 1 0 9.8 0a4.9 4.9 0 1 0 -9.8 0zM636.9 439.2a4.9 4.9 0 1 0 9.8 0a4.9 4.9 0 1 0 -9.8 0zM645.0 435.5a4.9 4.9 0 1 0 9.8 0a4.9 4.9 0 1 0 -9.8 0zM653.2 431.7a4.9 4.9 0 1 0 9.8 0a4.9 4.9 0 1 0 -9.8 0zM661.4 427.8a4.9 4.9 0 1 0 9.8 0a4.9 4.9 0 1 0 -9.8 0zM669.5 423.8a4.9 4.9 0 1 0 9.8 0a4.9 4.9 0 1 0 -9.8 0zM677.7 419.7a4.9 4.9 0 1 0 9.8 0a4.9 4.9 0 1 0 -9.8 0zM685.8 415.6a4.9 4.9 0 1 0 9.8 0a4.9 4.9 0 1 0 -9.8 0zM694.0 411.4a4.9 4.9 0 1 0 9.8 0a4.9 4.9 0 1 0 -9.8 0zM702.2 407.1a4.9 4.9 0 1 0 9.8 0a4.9 4.9 0 1 0 -9.8 0zM710.3 402.8a4.9 4.9 0 1 0 9.8 0a4.9 4.9 0 1 0 -9.8 0zM718.5 398.5a4.9 4.9 0 1 0 9.8 0a4.9 4.9 0 1 0 -9.8 0zM726.6 394.1a4.9 4.9 0 1 0 9.8 0a4.9 4.9 0 1 0 -9.8 0zM734.8 389.7a4.9 4.9 0 1 0 9.8 0a4.9 4.9 0 1 0 -9.8 0zM742.9 385.3a4.9 4.9 0 1 0 9.8 0a4.9 4.9 0 1 0 -9.8 0zM751.1 380.9a4.9 4.9 0 1 0 9.8 0a4.9 4.9 0 1 0 -9.8 0zM759.3 376.4a4.9 4.9 0 1 0 9.8 0a4.9 4.9 0 1 0 -9.8 0zM767.4 371.9a4.9 4.9 0 1 0 9.8 0a4.9 4.9 0 1 0 -9.8 0zM775.6 367.5a4.9 4.9 0 1 0 9.8 0a4.9 4.9 0 1 0 -9.8 0zM783.7 363.1a4.9 4.9 0 1 0 9.8 0a4.9 4.9 0 1 0 -9.8 0zM791.9 358.6a4.9 4.9 0 1 0 9.8 0a4.9 4.9 0 1 0 -9.8 0zM800.1 354.2a4.9 4.9 0 1 0 9.8 0a4.9 4.9 0 1 0 -9.8 0zM808.2 349.8a4.9 4.9 0 1 0 9.8 0a4.9 4.9 0 1 0 -9.8 0zM816.4 345.5a4.9 4.9 0 1 0 9.8 0a4.9 4.9 0 1 0 -9.8 0zM824.5 341.2a4.9 4.9 0 1 0 9.8 0a4.9 4.9 0 1 0 -9.8 0zM832.7 337.0a4.9 4.9 0 1 0 9.8 0a4.9 4.9 0 1 0 -9.8 0zM840.9 332.8a4.9 4.9 0 1 0 9.8 0a4.9 4.9 0 1 0 -9.8 0zM849.0 328.6a4.9 4.9 0 1 0 9.8 0a4.9 4.9 0 1 0 -9.8 0zM857.2 324.6a4.9 4.9 0 1 0 9.8 0a4.9 4.9 0 1 0 -9.8 0zM865.3 320.6a4.9 4.9 0 1 0 9.8 0a4.9 4.9 0 1 0 -9.8 0zM873.5 316.7a4.9 4.9 0 1 0 9.8 0a4.9 4.9 0 1 0 -9.8 0zM881.6 312.9a4.9 4.9 0 1 0 9.8 0a4.9 4.9 0 1 0 -9.8 0zM889.8 309.1a4.9 4.9 0 1 0 9.8 0a4.9 4.9 0 1 0 -9.8 0zM898.0 305.5a4.9 4.9 0 1 0 9.8 0a4.9 4.9 0 1 0 -9.8 0zM906.1 302.0a4.9 4.9 0 1 0 9.8 0a4.9 4.9 0 1 0 -9.8 0zM914.3 298.6a4.9 4.9 0 1 0 9.8 0a4.9 4.9 0 1 0 -9.8 0zM922.4 295.3a4.9 4.9 0 1 0 9.8 0a4.9 4.9 0 1 0 -9.8 0zM930.6 292.1a4.9 4.9 0 1 0 9.8 0a4.9 4.9 0 1 0 -9.8 0zM938.8 289.1a4.9 4.9 0 1 0 9.8 0a4.9 4.9 0 1 0 -9.8 0zM946.9 286.2a4.9 4.9 0 1 0 9.8 0a4.9 4.9 0 1 0 -9.8 0zM955.1 283.5a4.9 4.9 0 1 0 9.8 0a4.9 4.9 0 1 0 -9.8 0zM628.7 464.9a4.9 4.9 0 1 0 9.8 0a4.9 4.9 0 1 0 -9.8 0zM636.9 462.2a4.9 4.9 0 1 0 9.8 0a4.9 4.9 0 1 0 -9.8 0zM645.0 459.3a4.9 4.9 0 1 0 9.8 0a4.9 4.9 0 1 0 -9.8 0zM653.2 456.3a4.9 4.9 0 1 0 9.8 0a4.9 4.9 0 1 0 -9.8 0zM661.4 453.1a4.9 4.9 0 1 0 9.8 0a4.9 4.9 0 1 0 -9.8 0zM669.5 449.8a4.9 4.9 0 1 0 9.8 0a4.9 4.9 0 1 0 -9.8 0zM677.7 446.4a4.9 4.9 0 1 0 9.8 0a4.9 4.9 0 1 0 -9.8 0zM685.8 442.9a4.9 4.9 0 1 0 9.8 0a4.9 4.9 0 1 0 -9.8 0zM694.0 439.3a4.9 4.9 0 1 0 9.8 0a4.9 4.9 0 1 0 -9.8 0zM702.2 435.5a4.9 4.9 0 1 0 9.8 0a4.9 4.9 0 1 0 -9.8 0zM710.3 431.7a4.9 4.9 0 1 0 9.8 0a4.9 4.9 0 1 0 -9.8 0zM718.5 427.8a4.9 4.9 0 1 0 9.8 0a4.9 4.9 0 1 0 -9.8 0zM726.6 423.8a4.9 4.9 0 1 0 9.8 0a4.9 4.9 0 1 0 -9.8 0zM734.8 419.8a4.9 4.9 0 1 0 9.8 0a4.9 4.9 0 1 0 -9.8 0zM742.9 415.6a4.9 4.9 0 1 0 9.8 0a4.9 4.9 0 1 0 -9.8 0zM751.1 411.4a4.9 4.9 0 1 0 9.8 0a4.9 4.9 0 1 0 -9.8 0zM759.3 407.2a4.9 4.9 0 1 0 9.8 0a4.9 4.9 0 1 0 -9.8 0zM767.4 402.9a4.9 4.9 0 1 0 9.8 0a4.9 4.9 0 1 0 -9.8 0zM775.6 398.6a4.9 4.9 0 1 0 9.8 0a4.9 4.9 0 1 0 -9.8 0zM783.7 394.2a4.9 4.9 0 1 0 9.8 0a4.9 4.9 0 1 0 -9.8 0zM791.9 389.8a4.9 4.9 0 1 0 9.8 0a4.9 4.9 0 1 0 -9.8 0zM800.1 385.3a4.9 4.9 0 1 0 9.8 0a4.9 4.9 0 1 0 -9.8 0zM808.2 380.9a4.9 4.9 0 1 0 9.8 0a4.9 4.9 0 1 0 -9.8 0zM816.4 376.5a4.9 4.9 0 1 0 9.8 0a4.9 4.9 0 1 0 -9.8 0zM824.5 372.0a4.9 4.9 0 1 0 9.8 0a4.9 4.9 0 1 0 -9.8 0zM832.7 367.5a4.9 4.9 0 1 0 9.8 0a4.9 4.9 0 1 0 -9.8 0zM840.9 363.1a4.9 4.9 0 1 0 9.8 0a4.9 4.9 0 1 0 -9.8 0zM849.0 358.7a4.9 4.9 0 1 0 9.8 0a4.9 4.9 0 1 0 -9.8 0zM857.2 354.3a4.9 4.9 0 1 0 9.8 0a4.9 4.9 0 1 0 -9.8 0zM865.3 349.9a4.9 4.9 0 1 0 9.8 0a4.9 4.9 0 1 0 -9.8 0zM873.5 345.6a4.9 4.9 0 1 0 9.8 0a4.9 4.9 0 1 0 -9.8 0zM881.6 341.3a4.9 4.9 0 1 0 9.8 0a4.9 4.9 0 1 0 -9.8 0zM889.8 337.0a4.9 4.9 0 1 0 9.8 0a4.9 4.9 0 1 0 -9.8 0zM898.0 332.8a4.9 4.9 0 1 0 9.8 0a4.9 4.9 0 1 0 -9.8 0zM906.1 328.7a4.9 4.9 0 1 0 9.8 0a4.9 4.9 0 1 0 -9.8 0zM914.3 324.6a4.9 4.9 0 1 0 9.8 0a4.9 4.9 0 1 0 -9.8 0zM922.4 320.6a4.9 4.9 0 1 0 9.8 0a4.9 4.9 0 1 0 -9.8 0zM930.6 316.7a4.9 4.9 0 1 0 9.8 0a4.9 4.9 0 1 0 -9.8 0zM938.8 312.9a4.9 4.9 0 1 0 9.8 0a4.9 4.9 0 1 0 -9.8 0zM946.9 309.2a4.9 4.9 0 1 0 9.8 0a4.9 4.9 0 1 0 -9.8 0zM955.1 305.5a4.9 4.9 0 1 0 9.8 0a4.9 4.9 0 1 0 -9.8 0z" fill="#1a1a1a"/>
<path d="M628.6 452.2 L629.4 451.9 L630.3 451.5 L631.1 451.2 L632.0 450.9 L632.8 450.5 L633.6 450.2 L634.5 449.9 L635.3 449.5 L636.2 449.2 L637.0 448.9 L637.9 448.6 L638.7 448.3 L639.5 447.9 L640.4 447.6 L641.2 447.3 L642.1 447.0 L642.9 446.7 L643.8 446.4 L644.6 446.1 L645.4 445.8 L646.3 445.5 L647.1 445.2 L648.0 444.8 L648.8 444.5 L649.7 444.2 L650.5 443.9 L651.3 443.6 L652.2 443.2 L653.0 442.9 L653.9 442.6 L654.7 442.2 L655.6 441.9 L656.4 441.5 L657.2 441.2 L658.1 440.8 L658.9 440.4 L659.8 440.0 L660.6 439.7 L661.5 439.3 L662.3 438.9 L663.2 438.4 L664.0 438.0 L664.8 437.5 L665.7 437.1 L666.5 436.6 L667.4 436.1 L668.2 435.6 L669.1 435.1 L669.9 434.6 L670.7 434.1 L671.6 433.6 L672.4 433.2 L673.3 432.7 L674.1 432.2 L675.0 431.7 L675.8 431.2 L676.6 430.8 L677.5 430.3 L678.3 429.9 L679.2 429.5 L680.0 429.1 L680.9 428.7 L681.7 428.3 L682.5 427.9 L683.4 427.5 L684.2 427.1 L685.1 426.7 L685.9 426.3 L686.8 425.9 L687.6 425.5 L688.4 425.1 L689.3 424.7 L690.1 424.3 L691.0 423.9 L691.8 423.5 L692.7 423.1 L693.5 422.7 L694.4 422.2 L695.2 421.8 L696.0 421.4 L696.9 420.9 L697.7 420.5 L698.6 420.0 L699.4 419.6 L700.3 419.1 L701.1 418.7 L701.9 418.2 L702.8 417.7 L703.6 417.3 L704.5 416.8 L705.3 416.4 L706.2 415.9 L707.0 415.4 L707.8 414.9 L708.7 414.5 L709.5 414.0 L710.4 413.5 L711.2 413.0 L712.1 412.5 L712.9 412.1 L713.7 411.6 L714.6 411.1 L715.4 410.6 L716.3 410.1 L717.1 409.6 L718.0 409.1 L718.8 408.6 L719.6 408.1 L720.5 407.6 L721.3 407.0 L722.2 406.5 L723.0 406.0 L723.9 405.5 L724.7 405.0 L725.5 404.5 L726.4 403.9 L727.2 403.4 L728.1 402.9 L728.9 402.3 L729.8 401.8 L730.6 401.2 L731.5 400.7 L732.3 400.1 L733.1 399.5 L734.0 398.9 L734.8 398.3 L735.7 397.7 L736.5 397.1 L737.4 396.5 L738.2 395.9 L739.0 395.3 L739.9 394.7 L740.7 394.1 L741.6 393.6 L742.4 393.0 L743.3 392.5 L744.1 391.9 L744.9 391.4 L745.8 390.9 L746.6 390.4 L747.5 389.9 L748.3 389.4 L749.2 389.0 L750.0 388.5 L750.8 388.0 L751.7 387.6 L752.5 387.1 L753.4 386.7 L754.2 386.2 L755.1 385.8 L755.9 385.3 L756.7 384.9 L757.6 384.4 L758.4 384.0 L759.3 383.5 L760.1 383.1 L761.0 382.6 L761.8 382.1 L762.7 381.6 L763.5 381.1 L764.3 380.6 L765.2 380.1 L766.0 379.6 L766.9 379.1 L767.7 378.6 L768.6 378.0 L769.4 377.5 L770.2 377.0 L771.1 376.5 L771.9 376.0 L772.8 375.5 L773.6 375.0 L774.5 374.5 L775.3 374.0 L776.1 373.5 L777.0 373.0 L777.8 372.5 L778.7 372.0 L779.5 371.6 L780.4 371.1 L781.2 370.7 L782.0 370.2 L782.9 369.8 L783.7 369.4 L784.6 369.0 L785.4 368.5 L786.3 368.1 L787.1 367.7 L787.9 367.3 L788.8 366.9 L789.6 366.5 L790.5 366.1 L791.3 365.6 L792.2 365.2 L793.0 364.8 L793.8 364.4 L794.7 363.9 L795.5 363.5 L796.4 363.1 L797.2 362.6 L798.1 362.2 L798.9 361.7 L799.8 361.3 L800.6 360.8 L801.4 360.4 L802.3 359.9 L803.1 359.5 L804.0 359.0 L804.8 358.6 L805.7 358.1 L806.5 357.6 L807.3 357.2 L808.2 356.7 L809.0 356.2 L809.9 355.7 L810.7 355.3 L811.6 354.8 L812.4 354.3 L813.2 353.8 L814.1 353.3 L814.9 352.8 L815.8 352.3 L816.6 351.8 L817.5 351.3 L818.3 350.7 L819.1 350.2 L820.0 349.7 L820.8 349.1 L821.7 348.6 L822.5 348.1 L823.4 347.5 L824.2 347.0 L825.0 346.4 L825.9 345.9 L826.7 345.3 L827.6 344.8 L828.4 344.2 L829.3 343.7 L830.1 343.1 L830.9 342.6 L831.8 342.0 L832.6 341.4 L833.5 340.9 L834.3 340.3 L835.2 339.7 L836.0 339.1 L836.9 338.5 L837.7 337.9 L838.5 337.3 L839.4 336.8 L840.2 336.2 L841.1 335.6 L841.9 335.0 L842.8 334.5 L843.6 333.9 L844.4 333.4 L845.3 332.8 L846.1 332.3 L847.0 331.8 L847.8 331.3 L848.7 330.8 L849.5 330.3 L850.3 329.9 L851.2 329.4 L852.0 328.9 L852.9 328.5 L853.7 328.0 L854.6 327.6 L855.4 327.1 L856.2 326.7 L857.1 326.2 L857.9 325.8 L858.8 325.3 L859.6 324.9 L860.5 324.4 L861.3 324.0 L862.1 323.5 L863.0 323.0 L863.8 322.6 L864.7 322.1 L865.5 321.6 L866.4 321.2 L867.2 320.7 L868.1 320.2 L868.9 319.7 L869.7 319.2 L870.6 318.7 L871.4 318.3 L872.3 317.8 L873.1 317.3 L874.0 316.8 L874.8 316.3 L875.6 315.8 L876.5 315.3 L877.3 314.8 L878.2 314.3 L879.0 313.8 L879.9 313.4 L880.7 312.9 L881.5 312.4 L882.4 311.9 L883.2 311.3 L884.1 310.8 L884.9 310.3 L885.8 309.8 L886.6 309.3 L887.4 308.8 L888.3 308.3 L889.1 307.7 L890.0 307.2 L890.8 306.7 L891.7 306.2 L892.5 305.7 L893.3 305.2 L894.2 304.7 L895.0 304.2 L895.9 303.7 L896.7 303.2 L897.6 302.7 L898.4 302.2 L899.2 301.8 L900.1 301.3 L900.9 300.8 L901.8 300.4 L902.6 299.9 L903.5 299.5 L904.3 299.0 L905.2 298.6 L906.0 298.2 L906.8 297.7 L907.7 297.3 L908.5 296.8 L909.4 296.4 L910.2 296.0 L911.1 295.5 L911.9 295.1 L912.7 294.7 L913.6 294.2 L914.4 293.8 L915.3 293.4 L916.1 292.9 L917.0 292.5 L917.8 292.1 L918.6 291.6 L919.5 291.2 L920.3 290.8 L921.2 290.3 L922.0 289.9 L922.9 289.5 L923.7 289.1 L924.5 288.6 L925.4 288.2 L926.2 287.8 L927.1 287.4 L927.9 286.9 L928.8 286.5 L929.6 286.1 L930.4 285.7 L931.3 285.3 L932.1 284.9 L933.0 284.4 L933.8 284.0 L934.7 283.6 L935.5 283.2 L936.4 282.8 L937.2 282.4 L938.0 282.0 L938.9 281.6 L939.7 281.2 L940.6 280.8 L941.4 280.4 L942.3 280.0 L943.1 279.6 L943.9 279.2 L944.8 278.8 L945.6 278.4 L946.5 278.0 L947.3 277.6 L948.2 277.2 L949.0 276.8 L949.8 276.4 L950.7 276.0 L951.5 275.6 L952.4 275.2 L953.2 274.8 L954.1 274.5 L954.9 274.1 L955.7 273.7 L956.6 273.3 L957.4 273.0 L958.3 272.6 L959.1 272.2 L960.0 271.8 L960.8 271.4 L961.6 271.0 L962.5 270.7 L963.3 270.3 L964.2 269.9 L965.0 269.5" fill="none" stroke="#e8322c" stroke-width="1.2"/>
<path d="M628.6 483.4 L629.4 483.1 L630.3 482.8 L631.1 482.5 L632.0 482.2 L632.8 481.9 L633.6 481.6 L634.5 481.3 L635.3 481.0 L636.2 480.8 L637.0 480.5 L637.9 480.2 L638.7 479.9 L639.5 479.6 L640.4 479.4 L641.2 479.1 L642.1 478.8 L642.9 478.5 L643.8 478.2 L644.6 477.9 L645.4 477.6 L646.3 477.4 L647.1 477.1 L648.0 476.8 L648.8 476.5 L649.7 476.2 L650.5 475.9 L651.3 475.6 L652.2 475.3 L653.0 475.0 L653.9 474.7 L654.7 474.3 L655.6 474.0 L656.4 473.7 L657.2 473.4 L658.1 473.0 L658.9 472.7 L659.8 472.3 L660.6 472.0 L661.5 471.6 L662.3 471.3 L663.2 470.9 L664.0 470.5 L664.8 470.1 L665.7 469.7 L666.5 469.2 L667.4 468.8 L668.2 468.4 L669.1 467.9 L669.9 467.5 L670.7 467.0 L671.6 466.6 L672.4 466.1 L673.3 465.7 L674.1 465.2 L675.0 464.8 L675.8 464.4 L676.6 463.9 L677.5 463.5 L678.3 463.1 L679.2 462.7 L680.0 462.3 L680.9 461.9 L681.7 461.5 L682.5 461.1 L683.4 460.6 L684.2 460.2 L685.1 459.8 L685.9 459.4 L686.8 459.0 L687.6 458.6 L688.4 458.2 L689.3 457.8 L690.1 457.4 L691.0 457.0 L691.8 456.6 L692.7 456.2 L693.5 455.8 L694.4 455.4 L695.2 455.0 L696.0 454.6 L696.9 454.2 L697.7 453.8 L698.6 453.4 L699.4 453.0 L700.3 452.6 L701.1 452.2 L701.9 451.8 L702.8 451.4 L703.6 451.0 L704.5 450.6 L705.3 450.2 L706.2 449.8 L707.0 449.4 L707.8 449.0 L708.7 448.6 L709.5 448.1 L710.4 447.7 L711.2 447.3 L712.1 446.9 L712.9 446.4 L713.7 446.0 L714.6 445.6 L715.4 445.1 L716.3 444.7 L717.1 444.2 L718.0 443.8 L718.8 443.3 L719.6 442.9 L720.5 442.4 L721.3 442.0 L722.2 441.5 L723.0 441.1 L723.9 440.6 L724.7 440.2 L725.5 439.7 L726.4 439.3 L727.2 438.8 L728.1 438.4 L728.9 437.9 L729.8 437.5 L730.6 437.0 L731.5 436.6 L732.3 436.1 L733.1 435.7 L734.0 435.2 L734.8 434.8 L735.7 434.4 L736.5 433.9 L737.4 433.5 L738.2 433.0 L739.0 432.6 L739.9 432.1 L740.7 431.7 L741.6 431.2 L742.4 430.8 L743.3 430.3 L744.1 429.9 L744.9 429.4 L745.8 429.0 L746.6 428.6 L747.5 428.1 L748.3 427.7 L749.2 427.2 L750.0 426.8 L750.8 426.3 L751.7 425.9 L752.5 425.5 L753.4 425.0 L754.2 424.6 L755.1 424.1 L755.9 423.7 L756.7 423.2 L757.6 422.8 L758.4 422.3 L759.3 421.9 L760.1 421.4 L761.0 421.0 L761.8 420.5 L762.7 420.1 L763.5 419.6 L764.3 419.2 L765.2 418.7 L766.0 418.3 L766.9 417.8 L767.7 417.3 L768.6 416.9 L769.4 416.4 L770.2 416.0 L771.1 415.5 L771.9 415.0 L772.8 414.6 L773.6 414.1 L774.5 413.6 L775.3 413.2 L776.1 412.7 L777.0 412.2 L777.8 411.7 L778.7 411.3 L779.5 410.8 L780.4 410.3 L781.2 409.8 L782.0 409.3 L782.9 408.8 L783.7 408.3 L784.6 407.8 L785.4 407.3 L786.3 406.7 L787.1 406.2 L787.9 405.7 L788.8 405.2 L789.6 404.7 L790.5 404.2 L791.3 403.6 L792.2 403.1 L793.0 402.6 L793.8 402.1 L794.7 401.6 L795.5 401.1 L796.4 400.7 L797.2 400.2 L798.1 399.7 L798.9 399.2 L799.8 398.8 L800.6 398.3 L801.4 397.9 L802.3 397.4 L803.1 397.0 L804.0 396.5 L804.8 396.1 L805.7 395.6 L806.5 395.2 L807.3 394.7 L808.2 394.3 L809.0 393.8 L809.9 393.3 L810.7 392.9 L811.6 392.4 L812.4 391.9 L813.2 391.4 L814.1 390.9 L814.9 390.4 L815.8 389.9 L816.6 389.3 L817.5 388.8 L818.3 388.2 L819.1 387.7 L820.0 387.1 L820.8 386.5 L821.7 385.9 L822.5 385.4 L823.4 384.8 L824.2 384.2 L825.0 383.7 L825.9 383.1 L826.7 382.5 L827.6 382.0 L828.4 381.4 L829.3 380.9 L830.1 380.4 L830.9 379.8 L831.8 379.3 L832.6 378.8 L833.5 378.3 L834.3 377.8 L835.2 377.3 L836.0 376.8 L836.9 376.3 L837.7 375.8 L838.5 375.3 L839.4 374.8 L840.2 374.3 L841.1 373.8 L841.9 373.3 L842.8 372.8 L843.6 372.3 L844.4 371.8 L845.3 371.3 L846.1 370.7 L847.0 370.2 L847.8 369.7 L848.7 369.2 L849.5 368.7 L850.3 368.2 L851.2 367.7 L852.0 367.1 L852.9 366.6 L853.7 366.1 L854.6 365.6 L855.4 365.1 L856.2 364.5 L857.1 364.0 L857.9 363.5 L858.8 363.0 L859.6 362.4 L860.5 361.9 L861.3 361.4 L862.1 360.9 L863.0 360.3 L863.8 359.8 L864.7 359.3 L865.5 358.7 L866.4 358.2 L867.2 357.6 L868.1 357.1 L868.9 356.5 L869.7 356.0 L870.6 355.4 L871.4 354.9 L872.3 354.3 L873.1 353.8 L874.0 353.2 L874.8 352.7 L875.6 352.1 L876.5 351.6 L877.3 351.0 L878.2 350.5 L879.0 349.9 L879.9 349.4 L880.7 348.9 L881.5 348.3 L882.4 347.8 L883.2 347.2 L884.1 346.7 L884.9 346.2 L885.8 345.6 L886.6 345.1 L887.4 344.6 L888.3 344.0 L889.1 343.5 L890.0 343.0 L890.8 342.5 L891.7 341.9 L892.5 341.4 L893.3 340.9 L894.2 340.4 L895.0 339.8 L895.9 339.3 L896.7 338.8 L897.6 338.3 L898.4 337.8 L899.2 337.3 L900.1 336.8 L900.9 336.3 L901.8 335.8 L902.6 335.3 L903.5 334.8 L904.3 334.3 L905.2 333.9 L906.0 333.4 L906.8 332.9 L907.7 332.4 L908.5 331.9 L909.4 331.4 L910.2 331.0 L911.1 330.5 L911.9 330.0 L912.7 329.5 L913.6 329.1 L914.4 328.6 L915.3 328.1 L916.1 327.6 L917.0 327.2 L917.8 326.7 L918.6 326.2 L919.5 325.7 L920.3 325.3 L921.2 324.8 L922.0 324.3 L922.9 323.9 L923.7 323.4 L924.5 323.0 L925.4 322.5 L926.2 322.0 L927.1 321.6 L927.9 321.1 L928.8 320.6 L929.6 320.2 L930.4 319.7 L931.3 319.2 L932.1 318.8 L933.0 318.3 L933.8 317.9 L934.7 317.4 L935.5 316.9 L936.4 316.5 L937.2 316.0 L938.0 315.6 L938.9 315.1 L939.7 314.6 L940.6 314.2 L941.4 313.7 L942.3 313.3 L943.1 312.8 L943.9 312.3 L944.8 311.8 L945.6 311.4 L946.5 310.9 L947.3 310.4 L948.2 309.9 L949.0 309.4 L949.8 308.9 L950.7 308.4 L951.5 307.9 L952.4 307.4 L953.2 306.9 L954.1 306.4 L954.9 305.9 L955.7 305.4 L956.6 304.9 L957.4 304.4 L958.3 303.9 L959.1 303.3 L960.0 302.8 L960.8 302.3 L961.6 301.8 L962.5 301.3 L963.3 300.7 L964.2 300.2 L965.0 299.6" fill="none" stroke="#e8322c" stroke-width="1.2"/>
<path d="M654.9 434.5h13.0l-6.5 11.5zM654.9 466.8h13.0l-6.5 11.5zM671.7 425.2h13.0l-6.5 11.5zM671.7 458.3h13.0l-6.5 11.5zM688.5 417.1h13.0l-6.5 11.5zM688.5 450.3h13.0l-6.5 11.5zM705.3 407.8h13.0l-6.5 11.5zM705.3 442.1h13.0l-6.5 11.5zM722.2 397.7h13.0l-6.5 11.5zM722.2 433.2h13.0l-6.5 11.5zM739.0 386.3h13.0l-6.5 11.5zM739.0 424.3h13.0l-6.5 11.5zM755.8 377.0h13.0l-6.5 11.5zM755.8 415.4h13.0l-6.5 11.5zM772.6 366.9h13.0l-6.5 11.5zM772.6 406.2h13.0l-6.5 11.5zM789.5 358.5h13.0l-6.5 11.5zM789.5 396.1h13.0l-6.5 11.5zM806.3 349.2h13.0l-6.5 11.5zM806.3 386.9h13.0l-6.5 11.5zM823.1 338.6h13.0l-6.5 11.5zM823.1 375.8h13.0l-6.5 11.5zM839.9 327.3h13.0l-6.5 11.5zM839.9 365.7h13.0l-6.5 11.5zM856.7 318.1h13.0l-6.5 11.5zM856.7 355.3h13.0l-6.5 11.5zM873.6 308.4h13.0l-6.5 11.5zM873.6 344.4h13.0l-6.5 11.5zM890.4 298.3h13.0l-6.5 11.5zM890.4 333.9h13.0l-6.5 11.5zM907.2 289.3h13.0l-6.5 11.5zM907.2 324.1h13.0l-6.5 11.5zM924.0 280.8h13.0l-6.5 11.5zM924.0 314.8h13.0l-6.5 11.5zM940.9 272.7h13.0l-6.5 11.5zM940.9 305.6h13.0l-6.5 11.5zM957.7 265.0h13.0l-6.5 11.5zM957.7 295.4h13.0l-6.5 11.5z" fill="#e8322c"/>
<rect x="118.9" y="748.5" width="844.60" height="616.60" fill="none" stroke="#1a1a1a" stroke-width="2.6" stroke-linejoin="round"/>
<line x1="118.9" y1="1365.1" x2="133.20000000000002" y2="1365.1" stroke="#1a1a1a" stroke-width="2.5"/>
<line x1="118.9" y1="1265.6" x2="128.5" y2="1265.6" stroke="#1a1a1a" stroke-width="2.5"/>
<line x1="118.9" y1="1166.2" x2="133.20000000000002" y2="1166.2" stroke="#1a1a1a" stroke-width="2.5"/>
<line x1="118.9" y1="1066.8" x2="128.5" y2="1066.8" stroke="#1a1a1a" stroke-width="2.5"/>
<line x1="118.9" y1="967.3" x2="133.20000000000002" y2="967.3" stroke="#1a1a1a" stroke-width="2.5"/>
<line x1="118.9" y1="867.8" x2="128.5" y2="867.8" stroke="#1a1a1a" stroke-width="2.5"/>
<line x1="118.9" y1="768.4" x2="133.20000000000002" y2="768.4" stroke="#1a1a1a" stroke-width="2.5"/>
<text x="0" y="0" font-size="37.87" text-anchor="end" transform="translate(100.17 1376.32) scale(1.0526 1)">0</text>
<text x="0" y="0" font-size="37.87" text-anchor="end" transform="translate(100.17 1177.42) scale(1.0526 1)">2</text>
<text x="0" y="0" font-size="37.87" text-anchor="end" transform="translate(100.17 978.52) scale(1.0526 1)">4</text>
<text x="0" y="0" font-size="37.87" text-anchor="end" transform="translate(100.17 779.62) scale(1.0526 1)">6</text>
<line x1="118.9" y1="1365.1" x2="118.9" y2="1351.6" stroke="#1a1a1a" stroke-width="2.5"/>
<line x1="203.4" y1="1365.1" x2="203.4" y2="1357.1" stroke="#1a1a1a" stroke-width="2.5"/>
<line x1="287.9" y1="1365.1" x2="287.9" y2="1351.6" stroke="#1a1a1a" stroke-width="2.5"/>
<line x1="372.5" y1="1365.1" x2="372.5" y2="1357.1" stroke="#1a1a1a" stroke-width="2.5"/>
<line x1="457.0" y1="1365.1" x2="457.0" y2="1351.6" stroke="#1a1a1a" stroke-width="2.5"/>
<line x1="541.5" y1="1365.1" x2="541.5" y2="1357.1" stroke="#1a1a1a" stroke-width="2.5"/>
<line x1="626.0" y1="1365.1" x2="626.0" y2="1351.6" stroke="#1a1a1a" stroke-width="2.5"/>
<line x1="710.6" y1="1365.1" x2="710.6" y2="1357.1" stroke="#1a1a1a" stroke-width="2.5"/>
<line x1="795.1" y1="1365.1" x2="795.1" y2="1351.6" stroke="#1a1a1a" stroke-width="2.5"/>
<line x1="879.6" y1="1365.1" x2="879.6" y2="1357.1" stroke="#1a1a1a" stroke-width="2.5"/>
<line x1="964.1" y1="1365.1" x2="964.1" y2="1351.6" stroke="#1a1a1a" stroke-width="2.5"/>
<text x="0" y="0" font-size="37.69" text-anchor="middle" transform="translate(118.40 1413.70) scale(0.9668 1)">300</text>
<text x="0" y="0" font-size="37.69" text-anchor="middle" transform="translate(287.45 1413.70) scale(0.9668 1)">400</text>
<text x="0" y="0" font-size="37.69" text-anchor="middle" transform="translate(456.50 1413.70) scale(0.9668 1)">500</text>
<text x="0" y="0" font-size="37.69" text-anchor="middle" transform="translate(625.55 1413.70) scale(0.9668 1)">600</text>
<text x="0" y="0" font-size="37.69" text-anchor="middle" transform="translate(794.60 1413.70) scale(0.9668 1)">700</text>
<text x="0" y="0" font-size="37.69" text-anchor="middle" transform="translate(963.65 1413.70) scale(0.9668 1)">800</text>
<text x="0" y="0" font-size="41.29" text-anchor="start" transform="translate(351.80 1462.45) scale(1.0768 1)">Temperature (K)</text>
<text x="0" y="0" font-size="44.00" text-anchor="middle" transform="translate(55.01 1064.21) rotate(-90) scale(1 1.0231)">Moment (memu/g)</text>
<text x="0" y="0" font-size="43.38" text-anchor="start" transform="translate(149.65 805.73) scale(1.0389 1)">(b)</text>
<text x="0" y="0" font-size="35.58" text-anchor="start" transform="translate(240.14 808.02) scale(1.0680 1)">BTF-Ni</text>
<text x="0" y="0" font-size="34.90" text-anchor="start" transform="translate(233.86 854.07) scale(1.0329 1)"><tspan font-size="1.12em">@</tspan> 100 Oe</text>
<path d="M127.3 943.9 L128.7 944.1 L130.0 944.3 L131.3 944.4 L132.7 944.5 L134.0 944.6 L135.3 944.7 L136.7 944.8 L138.0 944.8 L139.3 944.8 L140.6 944.8 L142.0 944.8 L143.3 944.8 L144.6 944.8 L146.0 944.5 L147.3 943.7 L148.6 942.8 L150.0 941.7 L151.3 940.7 L152.6 939.7 L153.9 939.0 L155.3 938.6 L156.6 938.2 L157.9 937.8 L159.3 937.4 L160.6 937.0 L161.9 936.6 L163.3 936.3 L164.6 935.9 L165.9 935.6 L167.2 935.3 L168.6 934.9 L169.9 934.6 L171.2 934.3 L172.6 934.0 L173.9 933.7 L175.2 933.4 L176.6 933.2 L177.9 932.9 L179.2 932.7 L180.5 932.4 L181.9 932.2 L183.2 931.9 L184.5 931.7 L185.9 931.4 L187.2 931.2 L188.5 931.0 L189.9 930.8 L191.2 930.6 L192.5 930.4 L193.8 930.2 L195.2 930.0 L196.5 929.8 L197.8 929.6 L199.2 929.4 L200.5 929.2 L201.8 929.0 L203.2 928.9 L204.5 928.7 L205.8 928.5 L207.1 928.3 L208.5 928.1 L209.8 928.0 L211.1 927.8 L212.5 927.6 L213.8 927.4 L215.1 927.3 L216.5 927.1 L217.8 926.9 L219.1 926.7 L220.4 926.5 L221.8 926.4 L223.1 926.2 L224.4 926.0 L225.8 925.8 L227.1 925.6 L228.4 925.4 L229.8 925.2 L231.1 925.0 L232.4 924.8 L233.7 924.6 L235.1 924.4 L236.4 924.2 L237.7 923.9 L239.1 923.7 L240.4 923.5 L241.7 923.2 L243.1 923.0 L244.4 922.7 L245.7 922.4 L247.0 922.2 L248.4 921.9 L249.7 921.6 L251.0 921.4 L252.4 921.1 L253.7 920.8 L255.0 920.6 L256.4 920.3 L257.7 920.0 L259.0 919.7 L260.4 919.4 L261.7 919.2 L263.0 918.9 L264.3 918.6 L265.7 918.3 L267.0 918.0 L268.3 917.7 L269.7 917.5 L271.0 917.2 L272.3 916.9 L273.7 916.6 L275.0 916.3 L276.3 916.0 L277.6 915.7 L279.0 915.4 L280.3 915.1 L281.6 914.8 L283.0 914.5 L284.3 914.2 L285.6 913.9 L287.0 913.6 L288.3 913.3 L289.6 913.0 L290.9 912.7 L292.3 912.4 L293.6 912.1 L294.9 911.8 L296.3 911.5 L297.6 911.2 L298.9 910.9 L300.3 910.6 L301.6 910.3 L302.9 910.0 L304.2 909.7 L305.6 909.4 L306.9 909.1 L308.2 908.8 L309.6 908.5 L310.9 908.1 L312.2 907.8 L313.6 907.5 L314.9 907.2 L316.2 906.9 L317.5 906.6 L318.9 906.3 L320.2 906.0 L321.5 905.7 L322.9 905.4 L324.2 905.1 L325.5 904.8 L326.9 904.5 L328.2 904.2 L329.5 903.9 L330.8 903.6 L332.2 903.3 L333.5 903.0 L334.8 902.7 L336.2 902.3 L337.5 902.0 L338.8 901.7 L340.2 901.4 L341.5 901.1 L342.8 900.8 L344.1 900.5 L345.5 900.2 L346.8 899.9 L348.1 899.6 L349.5 899.3 L350.8 899.0 L352.1 898.7 L353.5 898.4 L354.8 898.1 L356.1 897.8 L357.4 897.5 L358.8 897.2 L360.1 896.9 L361.4 896.6 L362.8 896.3 L364.1 896.0 L365.4 895.7 L366.8 895.4 L368.1 895.0 L369.4 894.7 L370.8 894.4 L372.1 894.1 L373.4 893.8 L374.7 893.5 L376.1 893.2 L377.4 892.9 L378.7 892.6 L380.1 892.3 L381.4 892.0 L382.7 891.7 L384.1 891.3 L385.4 891.0 L386.7 890.7 L388.0 890.4 L389.4 890.1 L390.7 889.8 L392.0 889.5 L393.4 889.2 L394.7 888.9 L396.0 888.5 L397.4 888.2 L398.7 887.9 L400.0 887.6 L401.3 887.3 L402.7 887.0 L404.0 886.7 L405.3 886.3 L406.7 886.0 L408.0 885.7 L409.3 885.4 L410.7 885.1 L412.0 884.8 L413.3 884.4 L414.6 884.1 L416.0 883.8 L417.3 883.5 L418.6 883.2 L420.0 882.8 L421.3 882.5 L422.6 882.2 L424.0 881.9 L425.3 881.6 L426.6 881.2 L427.9 880.9 L429.3 880.6 L430.6 880.3 L431.9 879.9 L433.3 879.6 L434.6 879.3 L435.9 878.9 L437.3 878.6 L438.6 878.3 L439.9 878.0 L441.2 877.6 L442.6 877.3 L443.9 877.0 L445.2 876.6 L446.6 876.3 L447.9 876.0 L449.2 875.7 L450.6 875.3 L451.9 875.0 L453.2 874.7 L454.5 874.3 L455.9 874.0 L457.2 873.7 L458.5 873.3 L459.9 873.0 L461.2 872.7 L462.5 872.3 L463.9 872.0 L465.2 871.6 L466.5 871.3 L467.8 871.0 L469.2 870.6 L470.5 870.3 L471.8 870.0 L473.2 869.6 L474.5 869.3 L475.8 868.9 L477.2 868.6 L478.5 868.3 L479.8 867.9 L481.1 867.6 L482.5 867.2 L483.8 866.9 L485.1 866.6 L486.5 866.2 L487.8 865.9 L489.1 865.5 L490.5 865.2 L491.8 864.9 L493.1 864.5 L494.5 864.2 L495.8 863.8 L497.1 863.5 L498.4 863.1 L499.8 862.8 L501.1 862.4 L502.4 862.1 L503.8 861.8 L505.1 861.4 L506.4 861.1 L507.8 860.7 L509.1 860.4 L510.4 860.0 L511.7 859.7 L513.1 859.3 L514.4 859.0 L515.7 858.6 L517.1 858.3 L518.4 858.0 L519.7 857.6 L521.1 857.3 L522.4 856.9 L523.7 856.6 L525.0 856.3 L526.4 855.9 L527.7 855.6 L529.0 855.2 L530.4 854.9 L531.7 854.5 L533.0 854.2 L534.4 853.8 L535.7 853.4 L537.0 853.1 L538.3 852.7 L539.7 852.3 L541.0 851.9 L542.3 851.5 L543.7 851.1 L545.0 850.7 L546.3 850.3 L547.7 849.8 L549.0 849.4 L550.3 849.0 L551.6 848.5 L553.0 848.1 L554.3 847.6 L555.6 847.2 L557.0 846.8 L558.3 846.4 L559.6 845.9 L561.0 845.5 L562.3 845.1 L563.6 844.7 L564.9 844.3 L566.3 843.9 L567.6 843.5 L568.9 843.1 L570.3 842.7 L571.6 842.3 L572.9 841.9 L574.3 841.5 L575.6 841.1 L576.9 840.8 L578.2 840.4 L579.6 840.0 L580.9 839.6 L582.2 839.2 L583.6 838.9 L584.9 838.5 L586.2 838.1 L587.6 837.7 L588.9 837.4 L590.2 837.0 L591.5 836.6 L592.9 836.3 L594.2 835.9 L595.5 835.5 L596.9 835.2 L598.2 834.8 L599.5 834.4 L600.9 834.0 L602.2 833.7 L603.5 833.3 L604.8 832.9 L606.2 832.6 L607.5 832.2 L608.8 831.9 L610.2 831.5 L611.5 831.1 L612.8 830.8 L614.2 830.4 L615.5 830.1 L616.8 829.7 L618.2 829.4 L619.5 829.0 L620.8 828.7 L622.1 828.4 L623.5 828.0 L624.8 827.7 L626.1 827.4 L627.5 827.0 L628.8 826.7 L630.1 826.4 L631.5 826.1 L632.8 825.8 L634.1 825.5 L635.4 825.2 L636.8 824.9 L638.1 824.6 L639.4 824.3 L640.8 824.0 L642.1 823.7 L643.4 823.4 L644.8 823.1 L646.1 822.9 L647.4 822.6 L648.7 822.3 L650.1 822.0 L651.4 821.7 L652.7 821.4 L654.1 821.1 L655.4 820.8 L656.7 820.5 L658.1 820.3 L659.4 820.0 L660.7 819.7 L662.0 819.4 L663.4 819.2 L664.7 818.9 L666.0 818.6 L667.4 818.4 L668.7 818.1 L670.0 817.9 L671.4 817.6 L672.7 817.4 L674.0 817.1 L675.3 816.9 L676.7 816.7 L678.0 816.5 L679.3 816.3 L680.7 816.1 L682.0 815.9 L683.3 815.7 L684.7 815.5 L686.0 815.3 L687.3 815.2 L688.6 815.0 L690.0 814.9 L691.3 814.8 L692.6 814.7 L694.0 814.6 L695.3 814.4 L696.6 814.3 L698.0 814.2 L699.3 814.1 L700.6 814.0 L701.9 813.9 L703.3 813.8 L704.6 813.7 L705.9 813.6 L707.3 813.5 L708.6 813.5 L709.9 813.4 L711.3 813.3 L712.6 813.3 L713.9 813.3 L715.2 813.2 L716.6 813.2 L717.9 813.2 L719.2 813.3 L720.6 813.4 L721.9 813.6 L723.2 813.8 L724.6 814.1 L725.9 814.4 L727.2 814.8 L728.5 815.2 L729.9 815.7 L731.2 816.1 L732.5 816.6 L733.9 817.2 L735.2 817.7 L736.5 818.3 L737.9 818.9 L739.2 819.5 L740.5 820.1 L741.9 820.7 L743.2 821.4 L744.5 822.2 L745.8 823.1 L747.2 824.0 L748.5 825.1 L749.8 826.2 L751.2 827.3 L752.5 828.5 L753.8 829.8 L755.2 831.1 L756.5 832.6 L757.8 834.2 L759.1 836.0 L760.5 837.9 L761.8 839.9 L763.1 842.1 L764.5 844.4 L765.8 846.9 L767.1 849.6 L768.5 852.7 L769.8 856.4 L771.1 861.5 L772.4 867.6 L773.8 873.2 L775.1 878.5 L776.4 888.7 L777.8 899.7 L779.1 907.3 L780.4 918.2 L781.8 931.5 L783.1 946.8 L784.4 963.8 L785.7 981.6 L787.1 1001.6 L788.4 1025.8 L789.7 1051.5 L791.1 1077.5 L792.4 1094.9 L793.7 1115.9 L795.1 1138.4 L796.4 1154.6 L797.7 1176.0 L799.0 1191.2 L800.4 1204.9 L801.7 1220.6 L803.0 1231.7 L804.4 1252.0 L805.7 1258.7 L807.0 1265.1 L808.4 1271.0 L809.7 1274.4 L811.0 1276.5 L812.3 1278.2 L813.7 1279.6 L815.0 1280.8 L816.3 1281.8 L817.7 1282.8 L819.0 1283.9 L820.3 1285.0 L821.7 1286.3 L823.0 1287.5 L824.3 1288.6 L825.6 1289.8 L827.0 1291.0 L828.3 1292.1 L829.6 1293.3 L831.0 1294.5 L832.3 1295.7 L833.6 1297.1 L835.0 1298.4 L836.3 1299.8 L837.6 1301.2 L838.9 1302.6 L840.3 1304.0 L841.6 1305.3 L842.9 1306.6 L844.3 1307.8 L845.6 1309.0 L846.9 1310.1 L848.3 1311.2 L849.6 1312.2 L850.9 1313.2 L852.3 1314.3 L853.6 1315.2 L854.9 1316.2 L856.2 1317.1 L857.6 1318.0 L858.9 1318.9 L860.2 1319.7 L861.6 1320.5 L862.9 1321.2 L864.2 1321.9 L865.6 1322.6 L866.9 1323.3 L868.2 1324.0 L869.5 1324.6 L870.9 1325.3 L872.2 1325.9 L873.5 1326.5 L874.9 1327.1 L876.2 1327.6 L877.5 1328.2 L878.9 1328.7 L880.2 1329.2 L881.5 1329.7 L882.8 1330.2 L884.2 1330.7 L885.5 1331.1 L886.8 1331.6 L888.2 1332.1 L889.5 1332.5 L890.8 1332.9 L892.2 1333.3 L893.5 1333.8 L894.8 1334.1 L896.1 1334.5 L897.5 1334.9 L898.8 1335.2 L900.1 1335.5 L901.5 1335.8 L902.8 1336.1 L904.1 1336.3 L905.5 1336.6 L906.8 1336.9 L908.1 1337.1 L909.4 1337.3 L910.8 1337.6 L912.1 1337.8 L913.4 1338.0 L914.8 1338.2 L916.1 1338.4 L917.4 1338.6 L918.8 1338.8 L920.1 1338.9 L921.4 1339.0 L922.7 1339.2 L924.1 1339.3" fill="none" stroke="#1a1a1a" stroke-width="2.2"/>
<path d="M122.3 944.1a5.0 5.0 0 1 0 10.0 0a5.0 5.0 0 1 0 -10.0 0zM123.7 943.4a5.0 5.0 0 1 0 10.0 0a5.0 5.0 0 1 0 -10.0 0zM125.2 943.5a5.0 5.0 0 1 0 10.0 0a5.0 5.0 0 1 0 -10.0 0zM126.9 945.5a5.0 5.0 0 1 0 10.0 0a5.0 5.0 0 1 0 -10.0 0zM128.2 944.1a5.0 5.0 0 1 0 10.0 0a5.0 5.0 0 1 0 -10.0 0zM130.2 945.0a5.0 5.0 0 1 0 10.0 0a5.0 5.0 0 1 0 -10.0 0zM131.5 944.0a5.0 5.0 0 1 0 10.0 0a5.0 5.0 0 1 0 -10.0 0zM133.0 945.4a5.0 5.0 0 1 0 10.0 0a5.0 5.0 0 1 0 -10.0 0zM133.8 944.5a5.0 5.0 0 1 0 10.0 0a5.0 5.0 0 1 0 -10.0 0zM135.1 943.8a5.0 5.0 0 1 0 10.0 0a5.0 5.0 0 1 0 -10.0 0zM136.6 944.7a5.0 5.0 0 1 0 10.0 0a5.0 5.0 0 1 0 -10.0 0zM138.4 945.1a5.0 5.0 0 1 0 10.0 0a5.0 5.0 0 1 0 -10.0 0zM140.6 944.5a5.0 5.0 0 1 0 10.0 0a5.0 5.0 0 1 0 -10.0 0zM140.8 943.4a5.0 5.0 0 1 0 10.0 0a5.0 5.0 0 1 0 -10.0 0zM143.6 942.9a5.0 5.0 0 1 0 10.0 0a5.0 5.0 0 1 0 -10.0 0zM144.4 941.2a5.0 5.0 0 1 0 10.0 0a5.0 5.0 0 1 0 -10.0 0zM146.2 939.8a5.0 5.0 0 1 0 10.0 0a5.0 5.0 0 1 0 -10.0 0zM148.7 938.8a5.0 5.0 0 1 0 10.0 0a5.0 5.0 0 1 0 -10.0 0zM149.7 939.5a5.0 5.0 0 1 0 10.0 0a5.0 5.0 0 1 0 -10.0 0zM150.9 938.2a5.0 5.0 0 1 0 10.0 0a5.0 5.0 0 1 0 -10.0 0zM152.8 937.9a5.0 5.0 0 1 0 10.0 0a5.0 5.0 0 1 0 -10.0 0zM153.6 937.5a5.0 5.0 0 1 0 10.0 0a5.0 5.0 0 1 0 -10.0 0zM156.4 935.7a5.0 5.0 0 1 0 10.0 0a5.0 5.0 0 1 0 -10.0 0zM157.7 936.6a5.0 5.0 0 1 0 10.0 0a5.0 5.0 0 1 0 -10.0 0zM158.5 937.7a5.0 5.0 0 1 0 10.0 0a5.0 5.0 0 1 0 -10.0 0zM160.7 934.8a5.0 5.0 0 1 0 10.0 0a5.0 5.0 0 1 0 -10.0 0zM161.9 935.8a5.0 5.0 0 1 0 10.0 0a5.0 5.0 0 1 0 -10.0 0zM163.3 935.5a5.0 5.0 0 1 0 10.0 0a5.0 5.0 0 1 0 -10.0 0zM164.8 935.2a5.0 5.0 0 1 0 10.0 0a5.0 5.0 0 1 0 -10.0 0zM167.1 933.7a5.0 5.0 0 1 0 10.0 0a5.0 5.0 0 1 0 -10.0 0zM168.0 933.6a5.0 5.0 0 1 0 10.0 0a5.0 5.0 0 1 0 -10.0 0zM169.5 932.7a5.0 5.0 0 1 0 10.0 0a5.0 5.0 0 1 0 -10.0 0zM170.7 933.1a5.0 5.0 0 1 0 10.0 0a5.0 5.0 0 1 0 -10.0 0zM172.9 933.9a5.0 5.0 0 1 0 10.0 0a5.0 5.0 0 1 0 -10.0 0zM173.3 932.1a5.0 5.0 0 1 0 10.0 0a5.0 5.0 0 1 0 -10.0 0zM175.8 930.8a5.0 5.0 0 1 0 10.0 0a5.0 5.0 0 1 0 -10.0 0zM176.8 932.0a5.0 5.0 0 1 0 10.0 0a5.0 5.0 0 1 0 -10.0 0zM179.2 932.4a5.0 5.0 0 1 0 10.0 0a5.0 5.0 0 1 0 -10.0 0zM179.9 931.3a5.0 5.0 0 1 0 10.0 0a5.0 5.0 0 1 0 -10.0 0zM181.5 932.5a5.0 5.0 0 1 0 10.0 0a5.0 5.0 0 1 0 -10.0 0zM182.9 930.8a5.0 5.0 0 1 0 10.0 0a5.0 5.0 0 1 0 -10.0 0zM184.8 930.7a5.0 5.0 0 1 0 10.0 0a5.0 5.0 0 1 0 -10.0 0zM186.0 929.7a5.0 5.0 0 1 0 10.0 0a5.0 5.0 0 1 0 -10.0 0zM187.7 930.0a5.0 5.0 0 1 0 10.0 0a5.0 5.0 0 1 0 -10.0 0zM189.8 930.6a5.0 5.0 0 1 0 10.0 0a5.0 5.0 0 1 0 -10.0 0zM190.7 930.4a5.0 5.0 0 1 0 10.0 0a5.0 5.0 0 1 0 -10.0 0zM192.1 930.5a5.0 5.0 0 1 0 10.0 0a5.0 5.0 0 1 0 -10.0 0zM193.7 929.9a5.0 5.0 0 1 0 10.0 0a5.0 5.0 0 1 0 -10.0 0zM194.6 929.5a5.0 5.0 0 1 0 10.0 0a5.0 5.0 0 1 0 -10.0 0zM195.9 927.4a5.0 5.0 0 1 0 10.0 0a5.0 5.0 0 1 0 -10.0 0zM198.1 928.1a5.0 5.0 0 1 0 10.0 0a5.0 5.0 0 1 0 -10.0 0zM199.9 930.4a5.0 5.0 0 1 0 10.0 0a5.0 5.0 0 1 0 -10.0 0zM200.9 927.9a5.0 5.0 0 1 0 10.0 0a5.0 5.0 0 1 0 -10.0 0zM203.0 928.6a5.0 5.0 0 1 0 10.0 0a5.0 5.0 0 1 0 -10.0 0zM204.3 927.9a5.0 5.0 0 1 0 10.0 0a5.0 5.0 0 1 0 -10.0 0zM206.2 928.2a5.0 5.0 0 1 0 10.0 0a5.0 5.0 0 1 0 -10.0 0zM206.9 927.6a5.0 5.0 0 1 0 10.0 0a5.0 5.0 0 1 0 -10.0 0zM209.0 926.6a5.0 5.0 0 1 0 10.0 0a5.0 5.0 0 1 0 -10.0 0zM210.6 926.5a5.0 5.0 0 1 0 10.0 0a5.0 5.0 0 1 0 -10.0 0zM212.5 927.2a5.0 5.0 0 1 0 10.0 0a5.0 5.0 0 1 0 -10.0 0zM213.5 926.3a5.0 5.0 0 1 0 10.0 0a5.0 5.0 0 1 0 -10.0 0zM215.0 925.0a5.0 5.0 0 1 0 10.0 0a5.0 5.0 0 1 0 -10.0 0zM216.0 926.7a5.0 5.0 0 1 0 10.0 0a5.0 5.0 0 1 0 -10.0 0zM217.0 926.9a5.0 5.0 0 1 0 10.0 0a5.0 5.0 0 1 0 -10.0 0zM218.7 926.6a5.0 5.0 0 1 0 10.0 0a5.0 5.0 0 1 0 -10.0 0zM220.7 926.4a5.0 5.0 0 1 0 10.0 0a5.0 5.0 0 1 0 -10.0 0zM222.7 924.3a5.0 5.0 0 1 0 10.0 0a5.0 5.0 0 1 0 -10.0 0zM224.8 926.5a5.0 5.0 0 1 0 10.0 0a5.0 5.0 0 1 0 -10.0 0zM225.6 924.9a5.0 5.0 0 1 0 10.0 0a5.0 5.0 0 1 0 -10.0 0zM227.1 924.1a5.0 5.0 0 1 0 10.0 0a5.0 5.0 0 1 0 -10.0 0zM229.2 924.2a5.0 5.0 0 1 0 10.0 0a5.0 5.0 0 1 0 -10.0 0zM230.2 923.7a5.0 5.0 0 1 0 10.0 0a5.0 5.0 0 1 0 -10.0 0zM231.4 923.1a5.0 5.0 0 1 0 10.0 0a5.0 5.0 0 1 0 -10.0 0zM233.9 923.7a5.0 5.0 0 1 0 10.0 0a5.0 5.0 0 1 0 -10.0 0zM235.2 923.6a5.0 5.0 0 1 0 10.0 0a5.0 5.0 0 1 0 -10.0 0zM235.9 923.0a5.0 5.0 0 1 0 10.0 0a5.0 5.0 0 1 0 -10.0 0zM237.5 923.0a5.0 5.0 0 1 0 10.0 0a5.0 5.0 0 1 0 -10.0 0zM239.1 922.5a5.0 5.0 0 1 0 10.0 0a5.0 5.0 0 1 0 -10.0 0zM240.1 921.8a5.0 5.0 0 1 0 10.0 0a5.0 5.0 0 1 0 -10.0 0zM243.2 921.6a5.0 5.0 0 1 0 10.0 0a5.0 5.0 0 1 0 -10.0 0zM243.3 922.1a5.0 5.0 0 1 0 10.0 0a5.0 5.0 0 1 0 -10.0 0zM246.1 920.3a5.0 5.0 0 1 0 10.0 0a5.0 5.0 0 1 0 -10.0 0zM246.8 920.7a5.0 5.0 0 1 0 10.0 0a5.0 5.0 0 1 0 -10.0 0zM247.6 921.5a5.0 5.0 0 1 0 10.0 0a5.0 5.0 0 1 0 -10.0 0zM249.9 920.6a5.0 5.0 0 1 0 10.0 0a5.0 5.0 0 1 0 -10.0 0zM251.1 920.6a5.0 5.0 0 1 0 10.0 0a5.0 5.0 0 1 0 -10.0 0zM252.7 919.8a5.0 5.0 0 1 0 10.0 0a5.0 5.0 0 1 0 -10.0 0zM254.0 918.6a5.0 5.0 0 1 0 10.0 0a5.0 5.0 0 1 0 -10.0 0zM256.7 918.9a5.0 5.0 0 1 0 10.0 0a5.0 5.0 0 1 0 -10.0 0zM257.7 919.0a5.0 5.0 0 1 0 10.0 0a5.0 5.0 0 1 0 -10.0 0zM258.8 918.3a5.0 5.0 0 1 0 10.0 0a5.0 5.0 0 1 0 -10.0 0zM260.9 918.1a5.0 5.0 0 1 0 10.0 0a5.0 5.0 0 1 0 -10.0 0zM262.0 918.0a5.0 5.0 0 1 0 10.0 0a5.0 5.0 0 1 0 -10.0 0zM264.2 918.2a5.0 5.0 0 1 0 10.0 0a5.0 5.0 0 1 0 -10.0 0zM265.3 916.9a5.0 5.0 0 1 0 10.0 0a5.0 5.0 0 1 0 -10.0 0zM266.0 917.8a5.0 5.0 0 1 0 10.0 0a5.0 5.0 0 1 0 -10.0 0zM268.7 916.6a5.0 5.0 0 1 0 10.0 0a5.0 5.0 0 1 0 -10.0 0zM270.0 917.0a5.0 5.0 0 1 0 10.0 0a5.0 5.0 0 1 0 -10.0 0zM271.6 916.8a5.0 5.0 0 1 0 10.0 0a5.0 5.0 0 1 0 -10.0 0zM272.5 916.9a5.0 5.0 0 1 0 10.0 0a5.0 5.0 0 1 0 -10.0 0zM273.6 916.0a5.0 5.0 0 1 0 10.0 0a5.0 5.0 0 1 0 -10.0 0zM276.0 915.7a5.0 5.0 0 1 0 10.0 0a5.0 5.0 0 1 0 -10.0 0zM278.2 915.9a5.0 5.0 0 1 0 10.0 0a5.0 5.0 0 1 0 -10.0 0zM278.2 913.0a5.0 5.0 0 1 0 10.0 0a5.0 5.0 0 1 0 -10.0 0zM280.7 913.2a5.0 5.0 0 1 0 10.0 0a5.0 5.0 0 1 0 -10.0 0zM281.8 914.3a5.0 5.0 0 1 0 10.0 0a5.0 5.0 0 1 0 -10.0 0zM282.6 911.6a5.0 5.0 0 1 0 10.0 0a5.0 5.0 0 1 0 -10.0 0zM285.0 913.0a5.0 5.0 0 1 0 10.0 0a5.0 5.0 0 1 0 -10.0 0zM286.3 912.6a5.0 5.0 0 1 0 10.0 0a5.0 5.0 0 1 0 -10.0 0zM287.5 911.1a5.0 5.0 0 1 0 10.0 0a5.0 5.0 0 1 0 -10.0 0zM289.4 911.1a5.0 5.0 0 1 0 10.0 0a5.0 5.0 0 1 0 -10.0 0zM290.1 912.0a5.0 5.0 0 1 0 10.0 0a5.0 5.0 0 1 0 -10.0 0zM292.5 911.6a5.0 5.0 0 1 0 10.0 0a5.0 5.0 0 1 0 -10.0 0zM293.5 910.4a5.0 5.0 0 1 0 10.0 0a5.0 5.0 0 1 0 -10.0 0zM295.0 909.8a5.0 5.0 0 1 0 10.0 0a5.0 5.0 0 1 0 -10.0 0zM297.1 909.6a5.0 5.0 0 1 0 10.0 0a5.0 5.0 0 1 0 -10.0 0zM298.7 910.1a5.0 5.0 0 1 0 10.0 0a5.0 5.0 0 1 0 -10.0 0zM301.1 908.4a5.0 5.0 0 1 0 10.0 0a5.0 5.0 0 1 0 -10.0 0zM302.0 909.1a5.0 5.0 0 1 0 10.0 0a5.0 5.0 0 1 0 -10.0 0zM303.1 907.6a5.0 5.0 0 1 0 10.0 0a5.0 5.0 0 1 0 -10.0 0zM304.4 909.0a5.0 5.0 0 1 0 10.0 0a5.0 5.0 0 1 0 -10.0 0zM306.1 908.2a5.0 5.0 0 1 0 10.0 0a5.0 5.0 0 1 0 -10.0 0zM307.5 908.7a5.0 5.0 0 1 0 10.0 0a5.0 5.0 0 1 0 -10.0 0zM309.2 905.6a5.0 5.0 0 1 0 10.0 0a5.0 5.0 0 1 0 -10.0 0zM310.4 905.5a5.0 5.0 0 1 0 10.0 0a5.0 5.0 0 1 0 -10.0 0zM310.6 906.3a5.0 5.0 0 1 0 10.0 0a5.0 5.0 0 1 0 -10.0 0zM314.4 906.4a5.0 5.0 0 1 0 10.0 0a5.0 5.0 0 1 0 -10.0 0zM314.7 905.2a5.0 5.0 0 1 0 10.0 0a5.0 5.0 0 1 0 -10.0 0zM317.4 905.8a5.0 5.0 0 1 0 10.0 0a5.0 5.0 0 1 0 -10.0 0zM318.3 905.2a5.0 5.0 0 1 0 10.0 0a5.0 5.0 0 1 0 -10.0 0zM319.9 905.6a5.0 5.0 0 1 0 10.0 0a5.0 5.0 0 1 0 -10.0 0zM321.6 904.8a5.0 5.0 0 1 0 10.0 0a5.0 5.0 0 1 0 -10.0 0zM322.4 904.7a5.0 5.0 0 1 0 10.0 0a5.0 5.0 0 1 0 -10.0 0zM324.1 904.8a5.0 5.0 0 1 0 10.0 0a5.0 5.0 0 1 0 -10.0 0zM325.3 903.4a5.0 5.0 0 1 0 10.0 0a5.0 5.0 0 1 0 -10.0 0zM327.4 902.1a5.0 5.0 0 1 0 10.0 0a5.0 5.0 0 1 0 -10.0 0zM329.8 904.0a5.0 5.0 0 1 0 10.0 0a5.0 5.0 0 1 0 -10.0 0zM330.2 903.1a5.0 5.0 0 1 0 10.0 0a5.0 5.0 0 1 0 -10.0 0zM332.2 900.1a5.0 5.0 0 1 0 10.0 0a5.0 5.0 0 1 0 -10.0 0zM333.6 901.8a5.0 5.0 0 1 0 10.0 0a5.0 5.0 0 1 0 -10.0 0zM335.1 900.6a5.0 5.0 0 1 0 10.0 0a5.0 5.0 0 1 0 -10.0 0zM336.4 901.0a5.0 5.0 0 1 0 10.0 0a5.0 5.0 0 1 0 -10.0 0zM338.7 901.0a5.0 5.0 0 1 0 10.0 0a5.0 5.0 0 1 0 -10.0 0zM339.6 901.7a5.0 5.0 0 1 0 10.0 0a5.0 5.0 0 1 0 -10.0 0zM340.8 899.8a5.0 5.0 0 1 0 10.0 0a5.0 5.0 0 1 0 -10.0 0zM341.7 901.0a5.0 5.0 0 1 0 10.0 0a5.0 5.0 0 1 0 -10.0 0zM344.6 900.1a5.0 5.0 0 1 0 10.0 0a5.0 5.0 0 1 0 -10.0 0zM346.0 899.1a5.0 5.0 0 1 0 10.0 0a5.0 5.0 0 1 0 -10.0 0zM347.3 898.5a5.0 5.0 0 1 0 10.0 0a5.0 5.0 0 1 0 -10.0 0zM348.6 898.4a5.0 5.0 0 1 0 10.0 0a5.0 5.0 0 1 0 -10.0 0zM351.0 898.4a5.0 5.0 0 1 0 10.0 0a5.0 5.0 0 1 0 -10.0 0zM351.7 897.2a5.0 5.0 0 1 0 10.0 0a5.0 5.0 0 1 0 -10.0 0zM352.9 898.6a5.0 5.0 0 1 0 10.0 0a5.0 5.0 0 1 0 -10.0 0zM355.0 897.0a5.0 5.0 0 1 0 10.0 0a5.0 5.0 0 1 0 -10.0 0zM356.1 895.7a5.0 5.0 0 1 0 10.0 0a5.0 5.0 0 1 0 -10.0 0zM357.8 897.0a5.0 5.0 0 1 0 10.0 0a5.0 5.0 0 1 0 -10.0 0zM359.1 895.7a5.0 5.0 0 1 0 10.0 0a5.0 5.0 0 1 0 -10.0 0zM360.7 895.6a5.0 5.0 0 1 0 10.0 0a5.0 5.0 0 1 0 -10.0 0zM361.6 895.0a5.0 5.0 0 1 0 10.0 0a5.0 5.0 0 1 0 -10.0 0zM363.5 895.6a5.0 5.0 0 1 0 10.0 0a5.0 5.0 0 1 0 -10.0 0zM365.0 895.0a5.0 5.0 0 1 0 10.0 0a5.0 5.0 0 1 0 -10.0 0zM367.7 893.9a5.0 5.0 0 1 0 10.0 0a5.0 5.0 0 1 0 -10.0 0zM368.1 894.0a5.0 5.0 0 1 0 10.0 0a5.0 5.0 0 1 0 -10.0 0zM370.0 892.7a5.0 5.0 0 1 0 10.0 0a5.0 5.0 0 1 0 -10.0 0zM371.7 894.7a5.0 5.0 0 1 0 10.0 0a5.0 5.0 0 1 0 -10.0 0zM372.9 892.6a5.0 5.0 0 1 0 10.0 0a5.0 5.0 0 1 0 -10.0 0zM374.0 892.7a5.0 5.0 0 1 0 10.0 0a5.0 5.0 0 1 0 -10.0 0zM375.4 891.2a5.0 5.0 0 1 0 10.0 0a5.0 5.0 0 1 0 -10.0 0zM378.2 891.0a5.0 5.0 0 1 0 10.0 0a5.0 5.0 0 1 0 -10.0 0zM379.6 892.6a5.0 5.0 0 1 0 10.0 0a5.0 5.0 0 1 0 -10.0 0zM380.7 891.4a5.0 5.0 0 1 0 10.0 0a5.0 5.0 0 1 0 -10.0 0zM383.1 890.5a5.0 5.0 0 1 0 10.0 0a5.0 5.0 0 1 0 -10.0 0zM383.3 889.2a5.0 5.0 0 1 0 10.0 0a5.0 5.0 0 1 0 -10.0 0zM385.2 891.1a5.0 5.0 0 1 0 10.0 0a5.0 5.0 0 1 0 -10.0 0zM387.2 888.8a5.0 5.0 0 1 0 10.0 0a5.0 5.0 0 1 0 -10.0 0zM387.8 888.8a5.0 5.0 0 1 0 10.0 0a5.0 5.0 0 1 0 -10.0 0zM389.9 888.7a5.0 5.0 0 1 0 10.0 0a5.0 5.0 0 1 0 -10.0 0zM391.3 888.7a5.0 5.0 0 1 0 10.0 0a5.0 5.0 0 1 0 -10.0 0zM392.6 888.1a5.0 5.0 0 1 0 10.0 0a5.0 5.0 0 1 0 -10.0 0zM394.4 887.7a5.0 5.0 0 1 0 10.0 0a5.0 5.0 0 1 0 -10.0 0zM396.0 888.9a5.0 5.0 0 1 0 10.0 0a5.0 5.0 0 1 0 -10.0 0zM397.6 887.1a5.0 5.0 0 1 0 10.0 0a5.0 5.0 0 1 0 -10.0 0zM398.0 887.0a5.0 5.0 0 1 0 10.0 0a5.0 5.0 0 1 0 -10.0 0zM399.4 885.2a5.0 5.0 0 1 0 10.0 0a5.0 5.0 0 1 0 -10.0 0zM402.3 886.5a5.0 5.0 0 1 0 10.0 0a5.0 5.0 0 1 0 -10.0 0zM403.3 884.2a5.0 5.0 0 1 0 10.0 0a5.0 5.0 0 1 0 -10.0 0zM404.7 884.7a5.0 5.0 0 1 0 10.0 0a5.0 5.0 0 1 0 -10.0 0zM406.7 886.7a5.0 5.0 0 1 0 10.0 0a5.0 5.0 0 1 0 -10.0 0zM408.1 883.9a5.0 5.0 0 1 0 10.0 0a5.0 5.0 0 1 0 -10.0 0zM408.9 884.1a5.0 5.0 0 1 0 10.0 0a5.0 5.0 0 1 0 -10.0 0zM410.9 882.9a5.0 5.0 0 1 0 10.0 0a5.0 5.0 0 1 0 -10.0 0zM412.6 882.5a5.0 5.0 0 1 0 10.0 0a5.0 5.0 0 1 0 -10.0 0zM414.6 883.9a5.0 5.0 0 1 0 10.0 0a5.0 5.0 0 1 0 -10.0 0zM416.1 882.3a5.0 5.0 0 1 0 10.0 0a5.0 5.0 0 1 0 -10.0 0zM417.3 882.2a5.0 5.0 0 1 0 10.0 0a5.0 5.0 0 1 0 -10.0 0zM418.4 881.7a5.0 5.0 0 1 0 10.0 0a5.0 5.0 0 1 0 -10.0 0zM419.5 880.4a5.0 5.0 0 1 0 10.0 0a5.0 5.0 0 1 0 -10.0 0zM422.0 881.1a5.0 5.0 0 1 0 10.0 0a5.0 5.0 0 1 0 -10.0 0zM423.2 881.7a5.0 5.0 0 1 0 10.0 0a5.0 5.0 0 1 0 -10.0 0zM423.8 879.9a5.0 5.0 0 1 0 10.0 0a5.0 5.0 0 1 0 -10.0 0zM426.3 880.4a5.0 5.0 0 1 0 10.0 0a5.0 5.0 0 1 0 -10.0 0zM427.5 880.6a5.0 5.0 0 1 0 10.0 0a5.0 5.0 0 1 0 -10.0 0zM429.3 878.4a5.0 5.0 0 1 0 10.0 0a5.0 5.0 0 1 0 -10.0 0zM430.3 879.6a5.0 5.0 0 1 0 10.0 0a5.0 5.0 0 1 0 -10.0 0zM432.5 877.1a5.0 5.0 0 1 0 10.0 0a5.0 5.0 0 1 0 -10.0 0zM434.4 878.7a5.0 5.0 0 1 0 10.0 0a5.0 5.0 0 1 0 -10.0 0zM436.0 877.6a5.0 5.0 0 1 0 10.0 0a5.0 5.0 0 1 0 -10.0 0zM436.7 876.6a5.0 5.0 0 1 0 10.0 0a5.0 5.0 0 1 0 -10.0 0zM439.6 877.0a5.0 5.0 0 1 0 10.0 0a5.0 5.0 0 1 0 -10.0 0zM440.6 876.2a5.0 5.0 0 1 0 10.0 0a5.0 5.0 0 1 0 -10.0 0zM441.5 875.0a5.0 5.0 0 1 0 10.0 0a5.0 5.0 0 1 0 -10.0 0zM442.7 876.8a5.0 5.0 0 1 0 10.0 0a5.0 5.0 0 1 0 -10.0 0zM443.8 876.5a5.0 5.0 0 1 0 10.0 0a5.0 5.0 0 1 0 -10.0 0zM446.1 874.4a5.0 5.0 0 1 0 10.0 0a5.0 5.0 0 1 0 -10.0 0zM447.2 874.5a5.0 5.0 0 1 0 10.0 0a5.0 5.0 0 1 0 -10.0 0zM448.9 874.0a5.0 5.0 0 1 0 10.0 0a5.0 5.0 0 1 0 -10.0 0zM450.1 873.8a5.0 5.0 0 1 0 10.0 0a5.0 5.0 0 1 0 -10.0 0zM451.5 872.7a5.0 5.0 0 1 0 10.0 0a5.0 5.0 0 1 0 -10.0 0zM453.5 874.0a5.0 5.0 0 1 0 10.0 0a5.0 5.0 0 1 0 -10.0 0zM454.3 872.9a5.0 5.0 0 1 0 10.0 0a5.0 5.0 0 1 0 -10.0 0zM456.2 871.8a5.0 5.0 0 1 0 10.0 0a5.0 5.0 0 1 0 -10.0 0zM458.5 871.8a5.0 5.0 0 1 0 10.0 0a5.0 5.0 0 1 0 -10.0 0zM460.4 871.2a5.0 5.0 0 1 0 10.0 0a5.0 5.0 0 1 0 -10.0 0zM461.3 871.2a5.0 5.0 0 1 0 10.0 0a5.0 5.0 0 1 0 -10.0 0zM462.3 871.5a5.0 5.0 0 1 0 10.0 0a5.0 5.0 0 1 0 -10.0 0zM464.1 871.1a5.0 5.0 0 1 0 10.0 0a5.0 5.0 0 1 0 -10.0 0zM465.7 869.4a5.0 5.0 0 1 0 10.0 0a5.0 5.0 0 1 0 -10.0 0zM467.1 869.9a5.0 5.0 0 1 0 10.0 0a5.0 5.0 0 1 0 -10.0 0zM469.2 868.8a5.0 5.0 0 1 0 10.0 0a5.0 5.0 0 1 0 -10.0 0zM470.2 867.7a5.0 5.0 0 1 0 10.0 0a5.0 5.0 0 1 0 -10.0 0zM472.1 867.8a5.0 5.0 0 1 0 10.0 0a5.0 5.0 0 1 0 -10.0 0zM472.4 868.3a5.0 5.0 0 1 0 10.0 0a5.0 5.0 0 1 0 -10.0 0zM475.3 866.7a5.0 5.0 0 1 0 10.0 0a5.0 5.0 0 1 0 -10.0 0zM475.8 866.9a5.0 5.0 0 1 0 10.0 0a5.0 5.0 0 1 0 -10.0 0zM477.3 867.5a5.0 5.0 0 1 0 10.0 0a5.0 5.0 0 1 0 -10.0 0zM478.9 866.2a5.0 5.0 0 1 0 10.0 0a5.0 5.0 0 1 0 -10.0 0zM481.2 865.8a5.0 5.0 0 1 0 10.0 0a5.0 5.0 0 1 0 -10.0 0zM482.6 865.2a5.0 5.0 0 1 0 10.0 0a5.0 5.0 0 1 0 -10.0 0zM483.3 864.1a5.0 5.0 0 1 0 10.0 0a5.0 5.0 0 1 0 -10.0 0zM486.4 864.9a5.0 5.0 0 1 0 10.0 0a5.0 5.0 0 1 0 -10.0 0zM487.1 864.8a5.0 5.0 0 1 0 10.0 0a5.0 5.0 0 1 0 -10.0 0zM488.5 864.5a5.0 5.0 0 1 0 10.0 0a5.0 5.0 0 1 0 -10.0 0zM490.9 863.2a5.0 5.0 0 1 0 10.0 0a5.0 5.0 0 1 0 -10.0 0zM490.7 862.8a5.0 5.0 0 1 0 10.0 0a5.0 5.0 0 1 0 -10.0 0zM492.4 863.8a5.0 5.0 0 1 0 10.0 0a5.0 5.0 0 1 0 -10.0 0zM495.0 862.1a5.0 5.0 0 1 0 10.0 0a5.0 5.0 0 1 0 -10.0 0zM495.4 862.2a5.0 5.0 0 1 0 10.0 0a5.0 5.0 0 1 0 -10.0 0zM498.3 859.8a5.0 5.0 0 1 0 10.0 0a5.0 5.0 0 1 0 -10.0 0zM499.4 860.8a5.0 5.0 0 1 0 10.0 0a5.0 5.0 0 1 0 -10.0 0zM501.1 860.4a5.0 5.0 0 1 0 10.0 0a5.0 5.0 0 1 0 -10.0 0zM502.0 859.7a5.0 5.0 0 1 0 10.0 0a5.0 5.0 0 1 0 -10.0 0zM503.2 861.6a5.0 5.0 0 1 0 10.0 0a5.0 5.0 0 1 0 -10.0 0zM505.6 859.8a5.0 5.0 0 1 0 10.0 0a5.0 5.0 0 1 0 -10.0 0zM506.3 858.2a5.0 5.0 0 1 0 10.0 0a5.0 5.0 0 1 0 -10.0 0zM508.0 859.3a5.0 5.0 0 1 0 10.0 0a5.0 5.0 0 1 0 -10.0 0zM509.7 858.8a5.0 5.0 0 1 0 10.0 0a5.0 5.0 0 1 0 -10.0 0zM510.7 858.5a5.0 5.0 0 1 0 10.0 0a5.0 5.0 0 1 0 -10.0 0zM512.8 859.2a5.0 5.0 0 1 0 10.0 0a5.0 5.0 0 1 0 -10.0 0zM515.2 857.6a5.0 5.0 0 1 0 10.0 0a5.0 5.0 0 1 0 -10.0 0zM515.4 857.3a5.0 5.0 0 1 0 10.0 0a5.0 5.0 0 1 0 -10.0 0zM517.0 856.4a5.0 5.0 0 1 0 10.0 0a5.0 5.0 0 1 0 -10.0 0zM518.8 855.7a5.0 5.0 0 1 0 10.0 0a5.0 5.0 0 1 0 -10.0 0zM520.7 856.1a5.0 5.0 0 1 0 10.0 0a5.0 5.0 0 1 0 -10.0 0zM522.0 855.6a5.0 5.0 0 1 0 10.0 0a5.0 5.0 0 1 0 -10.0 0zM523.0 854.6a5.0 5.0 0 1 0 10.0 0a5.0 5.0 0 1 0 -10.0 0zM524.8 854.5a5.0 5.0 0 1 0 10.0 0a5.0 5.0 0 1 0 -10.0 0zM526.6 854.6a5.0 5.0 0 1 0 10.0 0a5.0 5.0 0 1 0 -10.0 0zM527.3 854.2a5.0 5.0 0 1 0 10.0 0a5.0 5.0 0 1 0 -10.0 0zM528.8 853.3a5.0 5.0 0 1 0 10.0 0a5.0 5.0 0 1 0 -10.0 0zM530.9 851.7a5.0 5.0 0 1 0 10.0 0a5.0 5.0 0 1 0 -10.0 0zM532.6 853.0a5.0 5.0 0 1 0 10.0 0a5.0 5.0 0 1 0 -10.0 0zM534.0 852.2a5.0 5.0 0 1 0 10.0 0a5.0 5.0 0 1 0 -10.0 0zM535.4 851.3a5.0 5.0 0 1 0 10.0 0a5.0 5.0 0 1 0 -10.0 0zM536.9 851.2a5.0 5.0 0 1 0 10.0 0a5.0 5.0 0 1 0 -10.0 0zM538.6 850.2a5.0 5.0 0 1 0 10.0 0a5.0 5.0 0 1 0 -10.0 0zM540.2 850.8a5.0 5.0 0 1 0 10.0 0a5.0 5.0 0 1 0 -10.0 0zM541.6 849.8a5.0 5.0 0 1 0 10.0 0a5.0 5.0 0 1 0 -10.0 0zM543.4 848.3a5.0 5.0 0 1 0 10.0 0a5.0 5.0 0 1 0 -10.0 0zM544.9 849.4a5.0 5.0 0 1 0 10.0 0a5.0 5.0 0 1 0 -10.0 0zM546.3 849.0a5.0 5.0 0 1 0 10.0 0a5.0 5.0 0 1 0 -10.0 0zM547.4 848.0a5.0 5.0 0 1 0 10.0 0a5.0 5.0 0 1 0 -10.0 0zM549.6 848.0a5.0 5.0 0 1 0 10.0 0a5.0 5.0 0 1 0 -10.0 0zM550.9 846.0a5.0 5.0 0 1 0 10.0 0a5.0 5.0 0 1 0 -10.0 0zM552.5 847.6a5.0 5.0 0 1 0 10.0 0a5.0 5.0 0 1 0 -10.0 0zM554.3 846.4a5.0 5.0 0 1 0 10.0 0a5.0 5.0 0 1 0 -10.0 0zM554.5 846.5a5.0 5.0 0 1 0 10.0 0a5.0 5.0 0 1 0 -10.0 0zM556.8 843.2a5.0 5.0 0 1 0 10.0 0a5.0 5.0 0 1 0 -10.0 0zM558.5 843.6a5.0 5.0 0 1 0 10.0 0a5.0 5.0 0 1 0 -10.0 0zM559.2 843.8a5.0 5.0 0 1 0 10.0 0a5.0 5.0 0 1 0 -10.0 0zM562.0 843.6a5.0 5.0 0 1 0 10.0 0a5.0 5.0 0 1 0 -10.0 0zM563.0 844.8a5.0 5.0 0 1 0 10.0 0a5.0 5.0 0 1 0 -10.0 0zM565.2 842.9a5.0 5.0 0 1 0 10.0 0a5.0 5.0 0 1 0 -10.0 0zM565.8 841.5a5.0 5.0 0 1 0 10.0 0a5.0 5.0 0 1 0 -10.0 0zM567.1 842.4a5.0 5.0 0 1 0 10.0 0a5.0 5.0 0 1 0 -10.0 0zM569.2 841.7a5.0 5.0 0 1 0 10.0 0a5.0 5.0 0 1 0 -10.0 0zM571.0 840.6a5.0 5.0 0 1 0 10.0 0a5.0 5.0 0 1 0 -10.0 0zM572.0 841.3a5.0 5.0 0 1 0 10.0 0a5.0 5.0 0 1 0 -10.0 0zM573.8 841.1a5.0 5.0 0 1 0 10.0 0a5.0 5.0 0 1 0 -10.0 0zM575.3 839.6a5.0 5.0 0 1 0 10.0 0a5.0 5.0 0 1 0 -10.0 0zM576.8 838.6a5.0 5.0 0 1 0 10.0 0a5.0 5.0 0 1 0 -10.0 0zM577.3 839.5a5.0 5.0 0 1 0 10.0 0a5.0 5.0 0 1 0 -10.0 0zM579.6 838.8a5.0 5.0 0 1 0 10.0 0a5.0 5.0 0 1 0 -10.0 0zM580.3 837.8a5.0 5.0 0 1 0 10.0 0a5.0 5.0 0 1 0 -10.0 0zM582.4 837.0a5.0 5.0 0 1 0 10.0 0a5.0 5.0 0 1 0 -10.0 0zM583.0 837.0a5.0 5.0 0 1 0 10.0 0a5.0 5.0 0 1 0 -10.0 0zM586.1 837.2a5.0 5.0 0 1 0 10.0 0a5.0 5.0 0 1 0 -10.0 0zM586.9 836.4a5.0 5.0 0 1 0 10.0 0a5.0 5.0 0 1 0 -10.0 0zM589.1 833.8a5.0 5.0 0 1 0 10.0 0a5.0 5.0 0 1 0 -10.0 0zM590.2 836.0a5.0 5.0 0 1 0 10.0 0a5.0 5.0 0 1 0 -10.0 0zM592.1 836.5a5.0 5.0 0 1 0 10.0 0a5.0 5.0 0 1 0 -10.0 0zM593.9 835.0a5.0 5.0 0 1 0 10.0 0a5.0 5.0 0 1 0 -10.0 0zM595.0 835.0a5.0 5.0 0 1 0 10.0 0a5.0 5.0 0 1 0 -10.0 0zM596.1 833.9a5.0 5.0 0 1 0 10.0 0a5.0 5.0 0 1 0 -10.0 0zM598.3 835.1a5.0 5.0 0 1 0 10.0 0a5.0 5.0 0 1 0 -10.0 0zM599.3 833.0a5.0 5.0 0 1 0 10.0 0a5.0 5.0 0 1 0 -10.0 0zM601.0 833.7a5.0 5.0 0 1 0 10.0 0a5.0 5.0 0 1 0 -10.0 0zM602.4 833.4a5.0 5.0 0 1 0 10.0 0a5.0 5.0 0 1 0 -10.0 0zM603.4 831.7a5.0 5.0 0 1 0 10.0 0a5.0 5.0 0 1 0 -10.0 0zM605.3 832.1a5.0 5.0 0 1 0 10.0 0a5.0 5.0 0 1 0 -10.0 0zM607.5 829.8a5.0 5.0 0 1 0 10.0 0a5.0 5.0 0 1 0 -10.0 0zM608.0 830.9a5.0 5.0 0 1 0 10.0 0a5.0 5.0 0 1 0 -10.0 0zM609.7 829.0a5.0 5.0 0 1 0 10.0 0a5.0 5.0 0 1 0 -10.0 0zM612.0 830.2a5.0 5.0 0 1 0 10.0 0a5.0 5.0 0 1 0 -10.0 0zM613.3 829.0a5.0 5.0 0 1 0 10.0 0a5.0 5.0 0 1 0 -10.0 0zM615.1 828.8a5.0 5.0 0 1 0 10.0 0a5.0 5.0 0 1 0 -10.0 0zM616.6 827.9a5.0 5.0 0 1 0 10.0 0a5.0 5.0 0 1 0 -10.0 0zM617.2 828.4a5.0 5.0 0 1 0 10.0 0a5.0 5.0 0 1 0 -10.0 0zM618.8 828.4a5.0 5.0 0 1 0 10.0 0a5.0 5.0 0 1 0 -10.0 0zM620.8 826.7a5.0 5.0 0 1 0 10.0 0a5.0 5.0 0 1 0 -10.0 0zM622.2 826.8a5.0 5.0 0 1 0 10.0 0a5.0 5.0 0 1 0 -10.0 0zM624.1 826.2a5.0 5.0 0 1 0 10.0 0a5.0 5.0 0 1 0 -10.0 0zM625.0 827.4a5.0 5.0 0 1 0 10.0 0a5.0 5.0 0 1 0 -10.0 0zM627.8 827.6a5.0 5.0 0 1 0 10.0 0a5.0 5.0 0 1 0 -10.0 0zM628.3 825.8a5.0 5.0 0 1 0 10.0 0a5.0 5.0 0 1 0 -10.0 0zM630.5 825.2a5.0 5.0 0 1 0 10.0 0a5.0 5.0 0 1 0 -10.0 0zM630.8 825.1a5.0 5.0 0 1 0 10.0 0a5.0 5.0 0 1 0 -10.0 0zM633.0 824.0a5.0 5.0 0 1 0 10.0 0a5.0 5.0 0 1 0 -10.0 0zM633.5 823.2a5.0 5.0 0 1 0 10.0 0a5.0 5.0 0 1 0 -10.0 0zM636.2 823.4a5.0 5.0 0 1 0 10.0 0a5.0 5.0 0 1 0 -10.0 0zM637.3 823.8a5.0 5.0 0 1 0 10.0 0a5.0 5.0 0 1 0 -10.0 0zM639.2 823.1a5.0 5.0 0 1 0 10.0 0a5.0 5.0 0 1 0 -10.0 0zM640.6 822.3a5.0 5.0 0 1 0 10.0 0a5.0 5.0 0 1 0 -10.0 0zM641.7 821.9a5.0 5.0 0 1 0 10.0 0a5.0 5.0 0 1 0 -10.0 0zM644.0 822.3a5.0 5.0 0 1 0 10.0 0a5.0 5.0 0 1 0 -10.0 0zM644.6 821.7a5.0 5.0 0 1 0 10.0 0a5.0 5.0 0 1 0 -10.0 0zM646.4 822.2a5.0 5.0 0 1 0 10.0 0a5.0 5.0 0 1 0 -10.0 0zM647.2 820.5a5.0 5.0 0 1 0 10.0 0a5.0 5.0 0 1 0 -10.0 0zM649.3 823.0a5.0 5.0 0 1 0 10.0 0a5.0 5.0 0 1 0 -10.0 0zM651.5 820.6a5.0 5.0 0 1 0 10.0 0a5.0 5.0 0 1 0 -10.0 0zM652.9 822.0a5.0 5.0 0 1 0 10.0 0a5.0 5.0 0 1 0 -10.0 0zM653.9 819.8a5.0 5.0 0 1 0 10.0 0a5.0 5.0 0 1 0 -10.0 0zM656.2 820.1a5.0 5.0 0 1 0 10.0 0a5.0 5.0 0 1 0 -10.0 0zM657.4 819.0a5.0 5.0 0 1 0 10.0 0a5.0 5.0 0 1 0 -10.0 0zM659.6 820.5a5.0 5.0 0 1 0 10.0 0a5.0 5.0 0 1 0 -10.0 0zM660.4 819.3a5.0 5.0 0 1 0 10.0 0a5.0 5.0 0 1 0 -10.0 0zM660.6 819.0a5.0 5.0 0 1 0 10.0 0a5.0 5.0 0 1 0 -10.0 0zM663.1 818.5a5.0 5.0 0 1 0 10.0 0a5.0 5.0 0 1 0 -10.0 0zM665.0 817.6a5.0 5.0 0 1 0 10.0 0a5.0 5.0 0 1 0 -10.0 0zM665.4 817.9a5.0 5.0 0 1 0 10.0 0a5.0 5.0 0 1 0 -10.0 0zM667.4 817.1a5.0 5.0 0 1 0 10.0 0a5.0 5.0 0 1 0 -10.0 0zM668.9 816.8a5.0 5.0 0 1 0 10.0 0a5.0 5.0 0 1 0 -10.0 0zM669.6 817.8a5.0 5.0 0 1 0 10.0 0a5.0 5.0 0 1 0 -10.0 0zM672.4 817.5a5.0 5.0 0 1 0 10.0 0a5.0 5.0 0 1 0 -10.0 0zM674.8 816.4a5.0 5.0 0 1 0 10.0 0a5.0 5.0 0 1 0 -10.0 0zM674.4 815.4a5.0 5.0 0 1 0 10.0 0a5.0 5.0 0 1 0 -10.0 0zM676.2 815.5a5.0 5.0 0 1 0 10.0 0a5.0 5.0 0 1 0 -10.0 0zM678.4 814.1a5.0 5.0 0 1 0 10.0 0a5.0 5.0 0 1 0 -10.0 0zM680.1 814.3a5.0 5.0 0 1 0 10.0 0a5.0 5.0 0 1 0 -10.0 0zM681.6 815.2a5.0 5.0 0 1 0 10.0 0a5.0 5.0 0 1 0 -10.0 0zM682.8 815.1a5.0 5.0 0 1 0 10.0 0a5.0 5.0 0 1 0 -10.0 0zM684.2 814.5a5.0 5.0 0 1 0 10.0 0a5.0 5.0 0 1 0 -10.0 0zM685.1 814.8a5.0 5.0 0 1 0 10.0 0a5.0 5.0 0 1 0 -10.0 0zM688.4 816.3a5.0 5.0 0 1 0 10.0 0a5.0 5.0 0 1 0 -10.0 0zM689.7 815.1a5.0 5.0 0 1 0 10.0 0a5.0 5.0 0 1 0 -10.0 0zM690.2 815.6a5.0 5.0 0 1 0 10.0 0a5.0 5.0 0 1 0 -10.0 0zM692.0 814.2a5.0 5.0 0 1 0 10.0 0a5.0 5.0 0 1 0 -10.0 0zM693.4 814.2a5.0 5.0 0 1 0 10.0 0a5.0 5.0 0 1 0 -10.0 0zM694.9 814.0a5.0 5.0 0 1 0 10.0 0a5.0 5.0 0 1 0 -10.0 0zM696.1 813.6a5.0 5.0 0 1 0 10.0 0a5.0 5.0 0 1 0 -10.0 0zM699.3 813.8a5.0 5.0 0 1 0 10.0 0a5.0 5.0 0 1 0 -10.0 0zM699.5 814.1a5.0 5.0 0 1 0 10.0 0a5.0 5.0 0 1 0 -10.0 0zM701.5 812.7a5.0 5.0 0 1 0 10.0 0a5.0 5.0 0 1 0 -10.0 0zM702.6 814.2a5.0 5.0 0 1 0 10.0 0a5.0 5.0 0 1 0 -10.0 0zM704.3 813.5a5.0 5.0 0 1 0 10.0 0a5.0 5.0 0 1 0 -10.0 0zM706.5 812.8a5.0 5.0 0 1 0 10.0 0a5.0 5.0 0 1 0 -10.0 0zM707.3 812.9a5.0 5.0 0 1 0 10.0 0a5.0 5.0 0 1 0 -10.0 0zM709.5 811.7a5.0 5.0 0 1 0 10.0 0a5.0 5.0 0 1 0 -10.0 0zM709.9 812.8a5.0 5.0 0 1 0 10.0 0a5.0 5.0 0 1 0 -10.0 0zM712.1 813.7a5.0 5.0 0 1 0 10.0 0a5.0 5.0 0 1 0 -10.0 0zM714.0 812.0a5.0 5.0 0 1 0 10.0 0a5.0 5.0 0 1 0 -10.0 0zM715.2 813.1a5.0 5.0 0 1 0 10.0 0a5.0 5.0 0 1 0 -10.0 0zM716.0 813.9a5.0 5.0 0 1 0 10.0 0a5.0 5.0 0 1 0 -10.0 0zM717.4 812.1a5.0 5.0 0 1 0 10.0 0a5.0 5.0 0 1 0 -10.0 0zM719.2 812.8a5.0 5.0 0 1 0 10.0 0a5.0 5.0 0 1 0 -10.0 0zM720.6 814.7a5.0 5.0 0 1 0 10.0 0a5.0 5.0 0 1 0 -10.0 0zM722.6 816.1a5.0 5.0 0 1 0 10.0 0a5.0 5.0 0 1 0 -10.0 0zM722.9 813.8a5.0 5.0 0 1 0 10.0 0a5.0 5.0 0 1 0 -10.0 0zM723.2 814.5a5.0 5.0 0 1 0 10.0 0a5.0 5.0 0 1 0 -10.0 0zM723.6 815.8a5.0 5.0 0 1 0 10.0 0a5.0 5.0 0 1 0 -10.0 0zM724.5 814.0a5.0 5.0 0 1 0 10.0 0a5.0 5.0 0 1 0 -10.0 0zM725.7 815.7a5.0 5.0 0 1 0 10.0 0a5.0 5.0 0 1 0 -10.0 0zM726.1 816.1a5.0 5.0 0 1 0 10.0 0a5.0 5.0 0 1 0 -10.0 0zM726.9 816.3a5.0 5.0 0 1 0 10.0 0a5.0 5.0 0 1 0 -10.0 0zM727.8 816.8a5.0 5.0 0 1 0 10.0 0a5.0 5.0 0 1 0 -10.0 0zM727.9 817.1a5.0 5.0 0 1 0 10.0 0a5.0 5.0 0 1 0 -10.0 0zM727.6 816.8a5.0 5.0 0 1 0 10.0 0a5.0 5.0 0 1 0 -10.0 0zM728.8 817.4a5.0 5.0 0 1 0 10.0 0a5.0 5.0 0 1 0 -10.0 0zM728.8 818.8a5.0 5.0 0 1 0 10.0 0a5.0 5.0 0 1 0 -10.0 0zM730.2 816.7a5.0 5.0 0 1 0 10.0 0a5.0 5.0 0 1 0 -10.0 0zM729.8 817.7a5.0 5.0 0 1 0 10.0 0a5.0 5.0 0 1 0 -10.0 0zM731.2 817.6a5.0 5.0 0 1 0 10.0 0a5.0 5.0 0 1 0 -10.0 0zM731.9 817.9a5.0 5.0 0 1 0 10.0 0a5.0 5.0 0 1 0 -10.0 0zM732.7 818.1a5.0 5.0 0 1 0 10.0 0a5.0 5.0 0 1 0 -10.0 0zM733.0 819.7a5.0 5.0 0 1 0 10.0 0a5.0 5.0 0 1 0 -10.0 0zM734.9 818.4a5.0 5.0 0 1 0 10.0 0a5.0 5.0 0 1 0 -10.0 0zM734.0 818.8a5.0 5.0 0 1 0 10.0 0a5.0 5.0 0 1 0 -10.0 0zM735.2 818.8a5.0 5.0 0 1 0 10.0 0a5.0 5.0 0 1 0 -10.0 0zM735.2 820.0a5.0 5.0 0 1 0 10.0 0a5.0 5.0 0 1 0 -10.0 0zM735.5 819.5a5.0 5.0 0 1 0 10.0 0a5.0 5.0 0 1 0 -10.0 0zM736.4 818.9a5.0 5.0 0 1 0 10.0 0a5.0 5.0 0 1 0 -10.0 0zM736.5 820.5a5.0 5.0 0 1 0 10.0 0a5.0 5.0 0 1 0 -10.0 0zM737.9 821.0a5.0 5.0 0 1 0 10.0 0a5.0 5.0 0 1 0 -10.0 0zM737.5 821.1a5.0 5.0 0 1 0 10.0 0a5.0 5.0 0 1 0 -10.0 0zM739.4 822.3a5.0 5.0 0 1 0 10.0 0a5.0 5.0 0 1 0 -10.0 0zM739.5 821.5a5.0 5.0 0 1 0 10.0 0a5.0 5.0 0 1 0 -10.0 0zM740.5 822.1a5.0 5.0 0 1 0 10.0 0a5.0 5.0 0 1 0 -10.0 0zM740.2 822.4a5.0 5.0 0 1 0 10.0 0a5.0 5.0 0 1 0 -10.0 0zM742.1 823.6a5.0 5.0 0 1 0 10.0 0a5.0 5.0 0 1 0 -10.0 0zM742.5 823.5a5.0 5.0 0 1 0 10.0 0a5.0 5.0 0 1 0 -10.0 0zM743.0 823.8a5.0 5.0 0 1 0 10.0 0a5.0 5.0 0 1 0 -10.0 0zM743.0 826.7a5.0 5.0 0 1 0 10.0 0a5.0 5.0 0 1 0 -10.0 0zM744.1 824.8a5.0 5.0 0 1 0 10.0 0a5.0 5.0 0 1 0 -10.0 0zM744.2 826.0a5.0 5.0 0 1 0 10.0 0a5.0 5.0 0 1 0 -10.0 0zM745.5 825.8a5.0 5.0 0 1 0 10.0 0a5.0 5.0 0 1 0 -10.0 0zM744.6 826.5a5.0 5.0 0 1 0 10.0 0a5.0 5.0 0 1 0 -10.0 0zM746.1 827.3a5.0 5.0 0 1 0 10.0 0a5.0 5.0 0 1 0 -10.0 0zM747.3 828.0a5.0 5.0 0 1 0 10.0 0a5.0 5.0 0 1 0 -10.0 0zM747.6 827.4a5.0 5.0 0 1 0 10.0 0a5.0 5.0 0 1 0 -10.0 0zM748.3 830.5a5.0 5.0 0 1 0 10.0 0a5.0 5.0 0 1 0 -10.0 0zM748.8 829.6a5.0 5.0 0 1 0 10.0 0a5.0 5.0 0 1 0 -10.0 0zM749.1 831.4a5.0 5.0 0 1 0 10.0 0a5.0 5.0 0 1 0 -10.0 0zM749.1 830.5a5.0 5.0 0 1 0 10.0 0a5.0 5.0 0 1 0 -10.0 0zM750.4 831.8a5.0 5.0 0 1 0 10.0 0a5.0 5.0 0 1 0 -10.0 0zM750.6 832.0a5.0 5.0 0 1 0 10.0 0a5.0 5.0 0 1 0 -10.0 0zM751.2 832.6a5.0 5.0 0 1 0 10.0 0a5.0 5.0 0 1 0 -10.0 0zM751.9 832.2a5.0 5.0 0 1 0 10.0 0a5.0 5.0 0 1 0 -10.0 0zM752.5 834.6a5.0 5.0 0 1 0 10.0 0a5.0 5.0 0 1 0 -10.0 0zM752.7 834.4a5.0 5.0 0 1 0 10.0 0a5.0 5.0 0 1 0 -10.0 0zM754.1 834.5a5.0 5.0 0 1 0 10.0 0a5.0 5.0 0 1 0 -10.0 0zM754.4 835.4a5.0 5.0 0 1 0 10.0 0a5.0 5.0 0 1 0 -10.0 0zM755.5 838.9a5.0 5.0 0 1 0 10.0 0a5.0 5.0 0 1 0 -10.0 0zM756.5 837.8a5.0 5.0 0 1 0 10.0 0a5.0 5.0 0 1 0 -10.0 0zM756.5 838.9a5.0 5.0 0 1 0 10.0 0a5.0 5.0 0 1 0 -10.0 0zM756.7 841.0a5.0 5.0 0 1 0 10.0 0a5.0 5.0 0 1 0 -10.0 0zM756.6 841.6a5.0 5.0 0 1 0 10.0 0a5.0 5.0 0 1 0 -10.0 0zM757.8 842.8a5.0 5.0 0 1 0 10.0 0a5.0 5.0 0 1 0 -10.0 0zM758.6 842.2a5.0 5.0 0 1 0 10.0 0a5.0 5.0 0 1 0 -10.0 0zM759.2 844.3a5.0 5.0 0 1 0 10.0 0a5.0 5.0 0 1 0 -10.0 0zM759.7 845.1a5.0 5.0 0 1 0 10.0 0a5.0 5.0 0 1 0 -10.0 0zM760.0 844.1a5.0 5.0 0 1 0 10.0 0a5.0 5.0 0 1 0 -10.0 0zM761.3 847.5a5.0 5.0 0 1 0 10.0 0a5.0 5.0 0 1 0 -10.0 0zM761.5 848.2a5.0 5.0 0 1 0 10.0 0a5.0 5.0 0 1 0 -10.0 0zM762.5 849.0a5.0 5.0 0 1 0 10.0 0a5.0 5.0 0 1 0 -10.0 0zM762.2 850.5a5.0 5.0 0 1 0 10.0 0a5.0 5.0 0 1 0 -10.0 0zM763.8 850.9a5.0 5.0 0 1 0 10.0 0a5.0 5.0 0 1 0 -10.0 0zM764.4 853.1a5.0 5.0 0 1 0 10.0 0a5.0 5.0 0 1 0 -10.0 0zM763.8 856.2a5.0 5.0 0 1 0 10.0 0a5.0 5.0 0 1 0 -10.0 0zM764.9 856.0a5.0 5.0 0 1 0 10.0 0a5.0 5.0 0 1 0 -10.0 0zM765.4 859.9a5.0 5.0 0 1 0 10.0 0a5.0 5.0 0 1 0 -10.0 0zM766.7 861.3a5.0 5.0 0 1 0 10.0 0a5.0 5.0 0 1 0 -10.0 0zM766.9 864.9a5.0 5.0 0 1 0 10.0 0a5.0 5.0 0 1 0 -10.0 0zM767.0 867.3a5.0 5.0 0 1 0 10.0 0a5.0 5.0 0 1 0 -10.0 0zM767.9 869.3a5.0 5.0 0 1 0 10.0 0a5.0 5.0 0 1 0 -10.0 0zM768.3 872.3a5.0 5.0 0 1 0 10.0 0a5.0 5.0 0 1 0 -10.0 0zM769.1 874.0a5.0 5.0 0 1 0 10.0 0a5.0 5.0 0 1 0 -10.0 0zM769.5 877.5a5.0 5.0 0 1 0 10.0 0a5.0 5.0 0 1 0 -10.0 0zM770.4 880.0a5.0 5.0 0 1 0 10.0 0a5.0 5.0 0 1 0 -10.0 0zM771.5 883.2a5.0 5.0 0 1 0 10.0 0a5.0 5.0 0 1 0 -10.0 0zM771.9 893.7a5.0 5.0 0 1 0 10.0 0a5.0 5.0 0 1 0 -10.0 0zM774.4 909.6a5.0 5.0 0 1 0 10.0 0a5.0 5.0 0 1 0 -10.0 0zM776.3 926.5a5.0 5.0 0 1 0 10.0 0a5.0 5.0 0 1 0 -10.0 0zM778.1 947.3a5.0 5.0 0 1 0 10.0 0a5.0 5.0 0 1 0 -10.0 0zM779.8 969.2a5.0 5.0 0 1 0 10.0 0a5.0 5.0 0 1 0 -10.0 0zM781.7 995.0a5.0 5.0 0 1 0 10.0 0a5.0 5.0 0 1 0 -10.0 0zM783.2 1021.8a5.0 5.0 0 1 0 10.0 0a5.0 5.0 0 1 0 -10.0 0zM784.5 1047.7a5.0 5.0 0 1 0 10.0 0a5.0 5.0 0 1 0 -10.0 0zM786.1 1077.5a5.0 5.0 0 1 0 10.0 0a5.0 5.0 0 1 0 -10.0 0zM788.1 1104.3a5.0 5.0 0 1 0 10.0 0a5.0 5.0 0 1 0 -10.0 0zM789.6 1132.1a5.0 5.0 0 1 0 10.0 0a5.0 5.0 0 1 0 -10.0 0zM791.6 1158.0a5.0 5.0 0 1 0 10.0 0a5.0 5.0 0 1 0 -10.0 0zM793.0 1179.8a5.0 5.0 0 1 0 10.0 0a5.0 5.0 0 1 0 -10.0 0zM795.0 1200.7a5.0 5.0 0 1 0 10.0 0a5.0 5.0 0 1 0 -10.0 0zM796.7 1220.5a5.0 5.0 0 1 0 10.0 0a5.0 5.0 0 1 0 -10.0 0zM798.6 1237.4a5.0 5.0 0 1 0 10.0 0a5.0 5.0 0 1 0 -10.0 0zM799.2 1250.8a5.0 5.0 0 1 0 10.0 0a5.0 5.0 0 1 0 -10.0 0zM800.9 1259.7a5.0 5.0 0 1 0 10.0 0a5.0 5.0 0 1 0 -10.0 0zM804.3 1273.7a5.0 5.0 0 1 0 10.0 0a5.0 5.0 0 1 0 -10.0 0zM806.3 1274.4a5.0 5.0 0 1 0 10.0 0a5.0 5.0 0 1 0 -10.0 0zM806.9 1276.8a5.0 5.0 0 1 0 10.0 0a5.0 5.0 0 1 0 -10.0 0zM808.8 1280.3a5.0 5.0 0 1 0 10.0 0a5.0 5.0 0 1 0 -10.0 0zM808.2 1279.2a5.0 5.0 0 1 0 10.0 0a5.0 5.0 0 1 0 -10.0 0zM810.9 1281.9a5.0 5.0 0 1 0 10.0 0a5.0 5.0 0 1 0 -10.0 0zM812.3 1282.2a5.0 5.0 0 1 0 10.0 0a5.0 5.0 0 1 0 -10.0 0zM813.5 1283.8a5.0 5.0 0 1 0 10.0 0a5.0 5.0 0 1 0 -10.0 0zM814.5 1285.3a5.0 5.0 0 1 0 10.0 0a5.0 5.0 0 1 0 -10.0 0zM814.8 1286.2a5.0 5.0 0 1 0 10.0 0a5.0 5.0 0 1 0 -10.0 0zM816.8 1287.7a5.0 5.0 0 1 0 10.0 0a5.0 5.0 0 1 0 -10.0 0zM818.5 1287.3a5.0 5.0 0 1 0 10.0 0a5.0 5.0 0 1 0 -10.0 0zM820.2 1288.4a5.0 5.0 0 1 0 10.0 0a5.0 5.0 0 1 0 -10.0 0zM820.9 1289.0a5.0 5.0 0 1 0 10.0 0a5.0 5.0 0 1 0 -10.0 0zM822.7 1292.0a5.0 5.0 0 1 0 10.0 0a5.0 5.0 0 1 0 -10.0 0zM824.6 1292.6a5.0 5.0 0 1 0 10.0 0a5.0 5.0 0 1 0 -10.0 0zM825.9 1294.0a5.0 5.0 0 1 0 10.0 0a5.0 5.0 0 1 0 -10.0 0zM826.7 1295.7a5.0 5.0 0 1 0 10.0 0a5.0 5.0 0 1 0 -10.0 0zM828.6 1296.2a5.0 5.0 0 1 0 10.0 0a5.0 5.0 0 1 0 -10.0 0zM829.3 1297.7a5.0 5.0 0 1 0 10.0 0a5.0 5.0 0 1 0 -10.0 0zM830.8 1298.5a5.0 5.0 0 1 0 10.0 0a5.0 5.0 0 1 0 -10.0 0zM832.7 1300.3a5.0 5.0 0 1 0 10.0 0a5.0 5.0 0 1 0 -10.0 0zM833.7 1301.4a5.0 5.0 0 1 0 10.0 0a5.0 5.0 0 1 0 -10.0 0zM835.0 1303.9a5.0 5.0 0 1 0 10.0 0a5.0 5.0 0 1 0 -10.0 0zM836.0 1306.7a5.0 5.0 0 1 0 10.0 0a5.0 5.0 0 1 0 -10.0 0zM837.7 1307.8a5.0 5.0 0 1 0 10.0 0a5.0 5.0 0 1 0 -10.0 0zM839.4 1306.9a5.0 5.0 0 1 0 10.0 0a5.0 5.0 0 1 0 -10.0 0zM840.1 1309.1a5.0 5.0 0 1 0 10.0 0a5.0 5.0 0 1 0 -10.0 0zM841.6 1309.8a5.0 5.0 0 1 0 10.0 0a5.0 5.0 0 1 0 -10.0 0zM842.8 1309.3a5.0 5.0 0 1 0 10.0 0a5.0 5.0 0 1 0 -10.0 0zM844.2 1310.0a5.0 5.0 0 1 0 10.0 0a5.0 5.0 0 1 0 -10.0 0zM845.8 1312.4a5.0 5.0 0 1 0 10.0 0a5.0 5.0 0 1 0 -10.0 0zM846.6 1313.9a5.0 5.0 0 1 0 10.0 0a5.0 5.0 0 1 0 -10.0 0zM848.5 1313.8a5.0 5.0 0 1 0 10.0 0a5.0 5.0 0 1 0 -10.0 0zM848.8 1315.1a5.0 5.0 0 1 0 10.0 0a5.0 5.0 0 1 0 -10.0 0zM850.0 1316.1a5.0 5.0 0 1 0 10.0 0a5.0 5.0 0 1 0 -10.0 0zM853.2 1316.9a5.0 5.0 0 1 0 10.0 0a5.0 5.0 0 1 0 -10.0 0zM854.1 1317.5a5.0 5.0 0 1 0 10.0 0a5.0 5.0 0 1 0 -10.0 0zM855.3 1319.3a5.0 5.0 0 1 0 10.0 0a5.0 5.0 0 1 0 -10.0 0zM856.4 1320.9a5.0 5.0 0 1 0 10.0 0a5.0 5.0 0 1 0 -10.0 0zM858.7 1321.3a5.0 5.0 0 1 0 10.0 0a5.0 5.0 0 1 0 -10.0 0zM859.2 1321.0a5.0 5.0 0 1 0 10.0 0a5.0 5.0 0 1 0 -10.0 0zM860.8 1322.4a5.0 5.0 0 1 0 10.0 0a5.0 5.0 0 1 0 -10.0 0zM862.3 1323.3a5.0 5.0 0 1 0 10.0 0a5.0 5.0 0 1 0 -10.0 0zM864.1 1322.2a5.0 5.0 0 1 0 10.0 0a5.0 5.0 0 1 0 -10.0 0zM864.4 1325.4a5.0 5.0 0 1 0 10.0 0a5.0 5.0 0 1 0 -10.0 0zM865.7 1324.6a5.0 5.0 0 1 0 10.0 0a5.0 5.0 0 1 0 -10.0 0zM867.1 1324.7a5.0 5.0 0 1 0 10.0 0a5.0 5.0 0 1 0 -10.0 0zM868.7 1328.7a5.0 5.0 0 1 0 10.0 0a5.0 5.0 0 1 0 -10.0 0zM870.5 1326.1a5.0 5.0 0 1 0 10.0 0a5.0 5.0 0 1 0 -10.0 0zM870.9 1327.3a5.0 5.0 0 1 0 10.0 0a5.0 5.0 0 1 0 -10.0 0zM873.2 1327.5a5.0 5.0 0 1 0 10.0 0a5.0 5.0 0 1 0 -10.0 0zM873.7 1329.5a5.0 5.0 0 1 0 10.0 0a5.0 5.0 0 1 0 -10.0 0zM875.8 1328.9a5.0 5.0 0 1 0 10.0 0a5.0 5.0 0 1 0 -10.0 0zM876.1 1328.4a5.0 5.0 0 1 0 10.0 0a5.0 5.0 0 1 0 -10.0 0zM877.7 1328.2a5.0 5.0 0 1 0 10.0 0a5.0 5.0 0 1 0 -10.0 0zM879.8 1330.2a5.0 5.0 0 1 0 10.0 0a5.0 5.0 0 1 0 -10.0 0zM881.0 1332.9a5.0 5.0 0 1 0 10.0 0a5.0 5.0 0 1 0 -10.0 0zM882.7 1330.7a5.0 5.0 0 1 0 10.0 0a5.0 5.0 0 1 0 -10.0 0zM883.9 1333.2a5.0 5.0 0 1 0 10.0 0a5.0 5.0 0 1 0 -10.0 0zM884.4 1331.7a5.0 5.0 0 1 0 10.0 0a5.0 5.0 0 1 0 -10.0 0zM886.1 1331.6a5.0 5.0 0 1 0 10.0 0a5.0 5.0 0 1 0 -10.0 0zM888.2 1331.3a5.0 5.0 0 1 0 10.0 0a5.0 5.0 0 1 0 -10.0 0zM888.3 1333.6a5.0 5.0 0 1 0 10.0 0a5.0 5.0 0 1 0 -10.0 0zM890.1 1334.4a5.0 5.0 0 1 0 10.0 0a5.0 5.0 0 1 0 -10.0 0zM891.7 1334.4a5.0 5.0 0 1 0 10.0 0a5.0 5.0 0 1 0 -10.0 0zM893.5 1333.0a5.0 5.0 0 1 0 10.0 0a5.0 5.0 0 1 0 -10.0 0zM894.3 1334.7a5.0 5.0 0 1 0 10.0 0a5.0 5.0 0 1 0 -10.0 0zM895.7 1335.8a5.0 5.0 0 1 0 10.0 0a5.0 5.0 0 1 0 -10.0 0zM896.5 1335.3a5.0 5.0 0 1 0 10.0 0a5.0 5.0 0 1 0 -10.0 0zM898.7 1336.5a5.0 5.0 0 1 0 10.0 0a5.0 5.0 0 1 0 -10.0 0zM899.3 1338.3a5.0 5.0 0 1 0 10.0 0a5.0 5.0 0 1 0 -10.0 0zM902.2 1335.4a5.0 5.0 0 1 0 10.0 0a5.0 5.0 0 1 0 -10.0 0zM902.5 1339.2a5.0 5.0 0 1 0 10.0 0a5.0 5.0 0 1 0 -10.0 0zM904.1 1337.4a5.0 5.0 0 1 0 10.0 0a5.0 5.0 0 1 0 -10.0 0zM905.0 1337.0a5.0 5.0 0 1 0 10.0 0a5.0 5.0 0 1 0 -10.0 0zM906.3 1337.2a5.0 5.0 0 1 0 10.0 0a5.0 5.0 0 1 0 -10.0 0zM908.1 1337.6a5.0 5.0 0 1 0 10.0 0a5.0 5.0 0 1 0 -10.0 0zM908.9 1337.0a5.0 5.0 0 1 0 10.0 0a5.0 5.0 0 1 0 -10.0 0zM910.4 1337.5a5.0 5.0 0 1 0 10.0 0a5.0 5.0 0 1 0 -10.0 0zM911.7 1339.5a5.0 5.0 0 1 0 10.0 0a5.0 5.0 0 1 0 -10.0 0zM913.4 1339.1a5.0 5.0 0 1 0 10.0 0a5.0 5.0 0 1 0 -10.0 0zM914.7 1338.9a5.0 5.0 0 1 0 10.0 0a5.0 5.0 0 1 0 -10.0 0zM915.8 1338.7a5.0 5.0 0 1 0 10.0 0a5.0 5.0 0 1 0 -10.0 0zM917.6 1338.1a5.0 5.0 0 1 0 10.0 0a5.0 5.0 0 1 0 -10.0 0zM919.2 1339.3a5.0 5.0 0 1 0 10.0 0a5.0 5.0 0 1 0 -10.0 0z" fill="#1a1a1a"/>
<rect x="186.4" y="976.0" width="422.2" height="308.2" fill="#fff" stroke="#6a6a6a" stroke-width="1.6" stroke-linejoin="round"/>
<line x1="186.4" y1="1284.2" x2="186.4" y2="1277.7" stroke="#222" stroke-width="1.6"/>
<line x1="228.6" y1="1284.2" x2="228.6" y2="1280.7" stroke="#222" stroke-width="1.6"/>
<line x1="270.8" y1="1284.2" x2="270.8" y2="1277.7" stroke="#222" stroke-width="1.6"/>
<line x1="312.9" y1="1284.2" x2="312.9" y2="1280.7" stroke="#222" stroke-width="1.6"/>
<line x1="355.1" y1="1284.2" x2="355.1" y2="1277.7" stroke="#222" stroke-width="1.6"/>
<line x1="397.3" y1="1284.2" x2="397.3" y2="1280.7" stroke="#222" stroke-width="1.6"/>
<line x1="439.5" y1="1284.2" x2="439.5" y2="1277.7" stroke="#222" stroke-width="1.6"/>
<line x1="481.7" y1="1284.2" x2="481.7" y2="1280.7" stroke="#222" stroke-width="1.6"/>
<line x1="523.8" y1="1284.2" x2="523.8" y2="1277.7" stroke="#222" stroke-width="1.6"/>
<line x1="566.0" y1="1284.2" x2="566.0" y2="1280.7" stroke="#222" stroke-width="1.6"/>
<line x1="608.2" y1="1284.2" x2="608.2" y2="1277.7" stroke="#222" stroke-width="1.6"/>
<text x="0" y="0" font-size="21.01" text-anchor="middle" transform="translate(185.30 1316.33) scale(1.0937 1)">300</text>
<text x="0" y="0" font-size="21.01" text-anchor="middle" transform="translate(269.66 1316.33) scale(1.0937 1)">400</text>
<text x="0" y="0" font-size="21.01" text-anchor="middle" transform="translate(354.02 1316.33) scale(1.0937 1)">500</text>
<text x="0" y="0" font-size="21.01" text-anchor="middle" transform="translate(438.38 1316.33) scale(1.0937 1)">600</text>
<text x="0" y="0" font-size="21.01" text-anchor="middle" transform="translate(522.74 1316.33) scale(1.0937 1)">700</text>
<text x="0" y="0" font-size="21.01" text-anchor="middle" transform="translate(607.10 1316.33) scale(1.0937 1)">800</text>
<text x="0" y="0" font-size="27.88" text-anchor="start" transform="translate(261.51 1341.73) scale(1.0781 1)">Temperature (K)</text>
<text x="0" y="0" font-size="29.37" text-anchor="middle" transform="translate(174.56 1128.60) rotate(-90) scale(1 0.9770)">dM/dT (arb. units)</text>
<text x="0" y="0" font-size="30.18" text-anchor="start" transform="translate(411.43 1223.45) scale(1.0087 1)">698K</text>
<path d="M470.0 1013.0 L487.6 1014.7 L498.2 1020.9 L505.3 1028.0 L509.7 1036.8 L510.2 1044.7 L510.9 1052.6 L512.0 1060.6 L513.2 1072.0 L514.6 1095.9 L515.0 1121.5 L515.5 1137.3 L516.4 1162.9 L517.6 1182.3 L518.0 1196.5 L519.1 1211.5 L520.3 1221.2 L521.2 1230.0 L521.6 1234.4 L522.9 1221.2 L524.7 1193.0 L526.1 1178.0 L526.8 1158.5 L527.9 1129.4 L528.6 1098.5 L530.0 1079.1 L530.9 1062.3 L531.4 1047.4 L531.8 1038.5 L533.5 1028.8 L540.6 1024.4 L558.2 1019.1 L575.9 1015.6 L590.0 1012.5" fill="none" stroke="#555" stroke-width="1"/>
<path d="M186.1 1010.2a2.9 2.9 0 1 0 5.8 0a2.9 2.9 0 1 0 -5.8 0zM187.2 1010.6a2.9 2.9 0 1 0 5.8 0a2.9 2.9 0 1 0 -5.8 0zM188.3 1010.3a2.9 2.9 0 1 0 5.8 0a2.9 2.9 0 1 0 -5.8 0zM189.4 1011.5a2.9 2.9 0 1 0 5.8 0a2.9 2.9 0 1 0 -5.8 0zM190.5 1010.2a2.9 2.9 0 1 0 5.8 0a2.9 2.9 0 1 0 -5.8 0zM191.6 1013.0a2.9 2.9 0 1 0 5.8 0a2.9 2.9 0 1 0 -5.8 0zM192.7 1010.1a2.9 2.9 0 1 0 5.8 0a2.9 2.9 0 1 0 -5.8 0zM193.8 1007.9a2.9 2.9 0 1 0 5.8 0a2.9 2.9 0 1 0 -5.8 0zM194.9 1010.2a2.9 2.9 0 1 0 5.8 0a2.9 2.9 0 1 0 -5.8 0zM196.0 1008.3a2.9 2.9 0 1 0 5.8 0a2.9 2.9 0 1 0 -5.8 0zM197.1 1011.2a2.9 2.9 0 1 0 5.8 0a2.9 2.9 0 1 0 -5.8 0zM198.2 1012.9a2.9 2.9 0 1 0 5.8 0a2.9 2.9 0 1 0 -5.8 0zM199.3 1012.3a2.9 2.9 0 1 0 5.8 0a2.9 2.9 0 1 0 -5.8 0zM200.4 1009.3a2.9 2.9 0 1 0 5.8 0a2.9 2.9 0 1 0 -5.8 0zM201.5 1010.2a2.9 2.9 0 1 0 5.8 0a2.9 2.9 0 1 0 -5.8 0zM202.6 1014.0a2.9 2.9 0 1 0 5.8 0a2.9 2.9 0 1 0 -5.8 0zM203.7 1011.8a2.9 2.9 0 1 0 5.8 0a2.9 2.9 0 1 0 -5.8 0zM204.8 1011.3a2.9 2.9 0 1 0 5.8 0a2.9 2.9 0 1 0 -5.8 0zM205.9 1012.9a2.9 2.9 0 1 0 5.8 0a2.9 2.9 0 1 0 -5.8 0zM207.0 1015.0a2.9 2.9 0 1 0 5.8 0a2.9 2.9 0 1 0 -5.8 0zM208.1 1013.2a2.9 2.9 0 1 0 5.8 0a2.9 2.9 0 1 0 -5.8 0zM209.2 1011.5a2.9 2.9 0 1 0 5.8 0a2.9 2.9 0 1 0 -5.8 0zM210.3 1011.8a2.9 2.9 0 1 0 5.8 0a2.9 2.9 0 1 0 -5.8 0zM211.4 1012.2a2.9 2.9 0 1 0 5.8 0a2.9 2.9 0 1 0 -5.8 0zM212.5 1010.4a2.9 2.9 0 1 0 5.8 0a2.9 2.9 0 1 0 -5.8 0zM213.6 1009.7a2.9 2.9 0 1 0 5.8 0a2.9 2.9 0 1 0 -5.8 0zM214.7 1011.4a2.9 2.9 0 1 0 5.8 0a2.9 2.9 0 1 0 -5.8 0zM215.8 1009.9a2.9 2.9 0 1 0 5.8 0a2.9 2.9 0 1 0 -5.8 0zM216.9 1011.2a2.9 2.9 0 1 0 5.8 0a2.9 2.9 0 1 0 -5.8 0zM218.0 1011.4a2.9 2.9 0 1 0 5.8 0a2.9 2.9 0 1 0 -5.8 0zM219.1 1014.8a2.9 2.9 0 1 0 5.8 0a2.9 2.9 0 1 0 -5.8 0zM220.2 1010.0a2.9 2.9 0 1 0 5.8 0a2.9 2.9 0 1 0 -5.8 0zM221.3 1011.1a2.9 2.9 0 1 0 5.8 0a2.9 2.9 0 1 0 -5.8 0zM222.4 1011.1a2.9 2.9 0 1 0 5.8 0a2.9 2.9 0 1 0 -5.8 0zM223.5 1012.0a2.9 2.9 0 1 0 5.8 0a2.9 2.9 0 1 0 -5.8 0zM224.6 1012.9a2.9 2.9 0 1 0 5.8 0a2.9 2.9 0 1 0 -5.8 0zM225.7 1010.6a2.9 2.9 0 1 0 5.8 0a2.9 2.9 0 1 0 -5.8 0zM226.8 1010.1a2.9 2.9 0 1 0 5.8 0a2.9 2.9 0 1 0 -5.8 0zM227.9 1008.8a2.9 2.9 0 1 0 5.8 0a2.9 2.9 0 1 0 -5.8 0zM229.0 1009.9a2.9 2.9 0 1 0 5.8 0a2.9 2.9 0 1 0 -5.8 0zM230.1 1012.1a2.9 2.9 0 1 0 5.8 0a2.9 2.9 0 1 0 -5.8 0zM231.2 1011.4a2.9 2.9 0 1 0 5.8 0a2.9 2.9 0 1 0 -5.8 0zM232.3 1009.8a2.9 2.9 0 1 0 5.8 0a2.9 2.9 0 1 0 -5.8 0zM233.4 1010.7a2.9 2.9 0 1 0 5.8 0a2.9 2.9 0 1 0 -5.8 0zM234.5 1011.3a2.9 2.9 0 1 0 5.8 0a2.9 2.9 0 1 0 -5.8 0zM235.6 1012.1a2.9 2.9 0 1 0 5.8 0a2.9 2.9 0 1 0 -5.8 0zM236.7 1010.4a2.9 2.9 0 1 0 5.8 0a2.9 2.9 0 1 0 -5.8 0zM237.8 1010.9a2.9 2.9 0 1 0 5.8 0a2.9 2.9 0 1 0 -5.8 0zM238.9 1008.6a2.9 2.9 0 1 0 5.8 0a2.9 2.9 0 1 0 -5.8 0zM240.0 1009.6a2.9 2.9 0 1 0 5.8 0a2.9 2.9 0 1 0 -5.8 0zM241.1 1013.7a2.9 2.9 0 1 0 5.8 0a2.9 2.9 0 1 0 -5.8 0zM242.2 1008.0a2.9 2.9 0 1 0 5.8 0a2.9 2.9 0 1 0 -5.8 0zM243.3 1010.8a2.9 2.9 0 1 0 5.8 0a2.9 2.9 0 1 0 -5.8 0zM244.4 1011.6a2.9 2.9 0 1 0 5.8 0a2.9 2.9 0 1 0 -5.8 0zM245.5 1010.7a2.9 2.9 0 1 0 5.8 0a2.9 2.9 0 1 0 -5.8 0zM246.6 1010.1a2.9 2.9 0 1 0 5.8 0a2.9 2.9 0 1 0 -5.8 0zM247.7 1011.2a2.9 2.9 0 1 0 5.8 0a2.9 2.9 0 1 0 -5.8 0zM248.8 1011.3a2.9 2.9 0 1 0 5.8 0a2.9 2.9 0 1 0 -5.8 0zM249.9 1011.2a2.9 2.9 0 1 0 5.8 0a2.9 2.9 0 1 0 -5.8 0zM251.0 1008.5a2.9 2.9 0 1 0 5.8 0a2.9 2.9 0 1 0 -5.8 0zM252.1 1011.1a2.9 2.9 0 1 0 5.8 0a2.9 2.9 0 1 0 -5.8 0zM253.2 1010.0a2.9 2.9 0 1 0 5.8 0a2.9 2.9 0 1 0 -5.8 0zM254.3 1010.5a2.9 2.9 0 1 0 5.8 0a2.9 2.9 0 1 0 -5.8 0zM255.4 1011.6a2.9 2.9 0 1 0 5.8 0a2.9 2.9 0 1 0 -5.8 0zM256.5 1012.3a2.9 2.9 0 1 0 5.8 0a2.9 2.9 0 1 0 -5.8 0zM257.6 1012.6a2.9 2.9 0 1 0 5.8 0a2.9 2.9 0 1 0 -5.8 0zM258.7 1010.6a2.9 2.9 0 1 0 5.8 0a2.9 2.9 0 1 0 -5.8 0zM259.8 1012.7a2.9 2.9 0 1 0 5.8 0a2.9 2.9 0 1 0 -5.8 0zM260.9 1013.1a2.9 2.9 0 1 0 5.8 0a2.9 2.9 0 1 0 -5.8 0zM262.0 1013.0a2.9 2.9 0 1 0 5.8 0a2.9 2.9 0 1 0 -5.8 0zM263.1 1013.4a2.9 2.9 0 1 0 5.8 0a2.9 2.9 0 1 0 -5.8 0zM264.2 1011.1a2.9 2.9 0 1 0 5.8 0a2.9 2.9 0 1 0 -5.8 0zM265.3 1011.0a2.9 2.9 0 1 0 5.8 0a2.9 2.9 0 1 0 -5.8 0zM266.4 1012.5a2.9 2.9 0 1 0 5.8 0a2.9 2.9 0 1 0 -5.8 0zM267.5 1009.3a2.9 2.9 0 1 0 5.8 0a2.9 2.9 0 1 0 -5.8 0zM268.6 1011.6a2.9 2.9 0 1 0 5.8 0a2.9 2.9 0 1 0 -5.8 0zM269.7 1010.5a2.9 2.9 0 1 0 5.8 0a2.9 2.9 0 1 0 -5.8 0zM270.8 1010.7a2.9 2.9 0 1 0 5.8 0a2.9 2.9 0 1 0 -5.8 0zM271.9 1008.7a2.9 2.9 0 1 0 5.8 0a2.9 2.9 0 1 0 -5.8 0zM273.0 1010.0a2.9 2.9 0 1 0 5.8 0a2.9 2.9 0 1 0 -5.8 0zM274.1 1011.3a2.9 2.9 0 1 0 5.8 0a2.9 2.9 0 1 0 -5.8 0zM275.2 1012.6a2.9 2.9 0 1 0 5.8 0a2.9 2.9 0 1 0 -5.8 0zM276.3 1012.8a2.9 2.9 0 1 0 5.8 0a2.9 2.9 0 1 0 -5.8 0zM277.4 1011.2a2.9 2.9 0 1 0 5.8 0a2.9 2.9 0 1 0 -5.8 0zM278.5 1011.0a2.9 2.9 0 1 0 5.8 0a2.9 2.9 0 1 0 -5.8 0zM279.6 1010.1a2.9 2.9 0 1 0 5.8 0a2.9 2.9 0 1 0 -5.8 0zM280.7 1011.9a2.9 2.9 0 1 0 5.8 0a2.9 2.9 0 1 0 -5.8 0zM281.8 1010.9a2.9 2.9 0 1 0 5.8 0a2.9 2.9 0 1 0 -5.8 0zM282.9 1012.2a2.9 2.9 0 1 0 5.8 0a2.9 2.9 0 1 0 -5.8 0zM284.0 1013.9a2.9 2.9 0 1 0 5.8 0a2.9 2.9 0 1 0 -5.8 0zM285.1 1011.3a2.9 2.9 0 1 0 5.8 0a2.9 2.9 0 1 0 -5.8 0zM286.2 1009.1a2.9 2.9 0 1 0 5.8 0a2.9 2.9 0 1 0 -5.8 0zM287.3 1010.0a2.9 2.9 0 1 0 5.8 0a2.9 2.9 0 1 0 -5.8 0zM288.4 1009.1a2.9 2.9 0 1 0 5.8 0a2.9 2.9 0 1 0 -5.8 0zM289.5 1009.5a2.9 2.9 0 1 0 5.8 0a2.9 2.9 0 1 0 -5.8 0zM290.6 1013.3a2.9 2.9 0 1 0 5.8 0a2.9 2.9 0 1 0 -5.8 0zM291.7 1011.6a2.9 2.9 0 1 0 5.8 0a2.9 2.9 0 1 0 -5.8 0zM292.8 1009.0a2.9 2.9 0 1 0 5.8 0a2.9 2.9 0 1 0 -5.8 0zM293.9 1012.3a2.9 2.9 0 1 0 5.8 0a2.9 2.9 0 1 0 -5.8 0zM295.0 1013.2a2.9 2.9 0 1 0 5.8 0a2.9 2.9 0 1 0 -5.8 0zM296.1 1010.8a2.9 2.9 0 1 0 5.8 0a2.9 2.9 0 1 0 -5.8 0zM297.2 1010.3a2.9 2.9 0 1 0 5.8 0a2.9 2.9 0 1 0 -5.8 0zM298.3 1010.8a2.9 2.9 0 1 0 5.8 0a2.9 2.9 0 1 0 -5.8 0zM299.4 1011.7a2.9 2.9 0 1 0 5.8 0a2.9 2.9 0 1 0 -5.8 0zM300.5 1012.3a2.9 2.9 0 1 0 5.8 0a2.9 2.9 0 1 0 -5.8 0zM301.6 1013.1a2.9 2.9 0 1 0 5.8 0a2.9 2.9 0 1 0 -5.8 0zM302.7 1013.1a2.9 2.9 0 1 0 5.8 0a2.9 2.9 0 1 0 -5.8 0zM303.8 1013.1a2.9 2.9 0 1 0 5.8 0a2.9 2.9 0 1 0 -5.8 0zM304.9 1013.3a2.9 2.9 0 1 0 5.8 0a2.9 2.9 0 1 0 -5.8 0zM306.0 1012.3a2.9 2.9 0 1 0 5.8 0a2.9 2.9 0 1 0 -5.8 0zM307.1 1009.0a2.9 2.9 0 1 0 5.8 0a2.9 2.9 0 1 0 -5.8 0zM308.2 1011.1a2.9 2.9 0 1 0 5.8 0a2.9 2.9 0 1 0 -5.8 0zM309.3 1011.8a2.9 2.9 0 1 0 5.8 0a2.9 2.9 0 1 0 -5.8 0zM310.4 1010.7a2.9 2.9 0 1 0 5.8 0a2.9 2.9 0 1 0 -5.8 0zM311.5 1012.7a2.9 2.9 0 1 0 5.8 0a2.9 2.9 0 1 0 -5.8 0zM312.6 1010.8a2.9 2.9 0 1 0 5.8 0a2.9 2.9 0 1 0 -5.8 0zM313.7 1009.9a2.9 2.9 0 1 0 5.8 0a2.9 2.9 0 1 0 -5.8 0zM314.8 1013.5a2.9 2.9 0 1 0 5.8 0a2.9 2.9 0 1 0 -5.8 0zM315.9 1012.3a2.9 2.9 0 1 0 5.8 0a2.9 2.9 0 1 0 -5.8 0zM317.0 1011.6a2.9 2.9 0 1 0 5.8 0a2.9 2.9 0 1 0 -5.8 0zM318.1 1012.7a2.9 2.9 0 1 0 5.8 0a2.9 2.9 0 1 0 -5.8 0zM319.2 1012.9a2.9 2.9 0 1 0 5.8 0a2.9 2.9 0 1 0 -5.8 0zM320.3 1011.8a2.9 2.9 0 1 0 5.8 0a2.9 2.9 0 1 0 -5.8 0zM321.4 1007.6a2.9 2.9 0 1 0 5.8 0a2.9 2.9 0 1 0 -5.8 0zM322.5 1010.3a2.9 2.9 0 1 0 5.8 0a2.9 2.9 0 1 0 -5.8 0zM323.6 1010.6a2.9 2.9 0 1 0 5.8 0a2.9 2.9 0 1 0 -5.8 0zM324.7 1009.8a2.9 2.9 0 1 0 5.8 0a2.9 2.9 0 1 0 -5.8 0zM325.8 1011.6a2.9 2.9 0 1 0 5.8 0a2.9 2.9 0 1 0 -5.8 0zM326.9 1013.1a2.9 2.9 0 1 0 5.8 0a2.9 2.9 0 1 0 -5.8 0zM328.0 1010.6a2.9 2.9 0 1 0 5.8 0a2.9 2.9 0 1 0 -5.8 0zM329.1 1009.6a2.9 2.9 0 1 0 5.8 0a2.9 2.9 0 1 0 -5.8 0zM330.2 1014.3a2.9 2.9 0 1 0 5.8 0a2.9 2.9 0 1 0 -5.8 0zM331.3 1010.6a2.9 2.9 0 1 0 5.8 0a2.9 2.9 0 1 0 -5.8 0zM332.4 1009.5a2.9 2.9 0 1 0 5.8 0a2.9 2.9 0 1 0 -5.8 0zM333.5 1011.7a2.9 2.9 0 1 0 5.8 0a2.9 2.9 0 1 0 -5.8 0zM334.6 1011.9a2.9 2.9 0 1 0 5.8 0a2.9 2.9 0 1 0 -5.8 0zM335.7 1010.2a2.9 2.9 0 1 0 5.8 0a2.9 2.9 0 1 0 -5.8 0zM336.8 1012.5a2.9 2.9 0 1 0 5.8 0a2.9 2.9 0 1 0 -5.8 0zM337.9 1010.6a2.9 2.9 0 1 0 5.8 0a2.9 2.9 0 1 0 -5.8 0zM339.0 1009.9a2.9 2.9 0 1 0 5.8 0a2.9 2.9 0 1 0 -5.8 0zM340.1 1011.6a2.9 2.9 0 1 0 5.8 0a2.9 2.9 0 1 0 -5.8 0zM341.2 1012.5a2.9 2.9 0 1 0 5.8 0a2.9 2.9 0 1 0 -5.8 0zM342.3 1010.3a2.9 2.9 0 1 0 5.8 0a2.9 2.9 0 1 0 -5.8 0zM343.4 1011.8a2.9 2.9 0 1 0 5.8 0a2.9 2.9 0 1 0 -5.8 0zM344.5 1011.2a2.9 2.9 0 1 0 5.8 0a2.9 2.9 0 1 0 -5.8 0zM345.6 1015.5a2.9 2.9 0 1 0 5.8 0a2.9 2.9 0 1 0 -5.8 0zM346.7 1010.2a2.9 2.9 0 1 0 5.8 0a2.9 2.9 0 1 0 -5.8 0zM347.8 1013.4a2.9 2.9 0 1 0 5.8 0a2.9 2.9 0 1 0 -5.8 0zM348.9 1011.2a2.9 2.9 0 1 0 5.8 0a2.9 2.9 0 1 0 -5.8 0zM350.0 1011.1a2.9 2.9 0 1 0 5.8 0a2.9 2.9 0 1 0 -5.8 0zM351.1 1012.4a2.9 2.9 0 1 0 5.8 0a2.9 2.9 0 1 0 -5.8 0zM352.2 1012.6a2.9 2.9 0 1 0 5.8 0a2.9 2.9 0 1 0 -5.8 0zM353.3 1013.2a2.9 2.9 0 1 0 5.8 0a2.9 2.9 0 1 0 -5.8 0zM354.4 1011.8a2.9 2.9 0 1 0 5.8 0a2.9 2.9 0 1 0 -5.8 0zM355.5 1010.4a2.9 2.9 0 1 0 5.8 0a2.9 2.9 0 1 0 -5.8 0zM356.6 1010.5a2.9 2.9 0 1 0 5.8 0a2.9 2.9 0 1 0 -5.8 0zM357.7 1012.1a2.9 2.9 0 1 0 5.8 0a2.9 2.9 0 1 0 -5.8 0zM358.8 1012.2a2.9 2.9 0 1 0 5.8 0a2.9 2.9 0 1 0 -5.8 0zM359.9 1013.4a2.9 2.9 0 1 0 5.8 0a2.9 2.9 0 1 0 -5.8 0zM361.0 1011.9a2.9 2.9 0 1 0 5.8 0a2.9 2.9 0 1 0 -5.8 0zM362.1 1012.9a2.9 2.9 0 1 0 5.8 0a2.9 2.9 0 1 0 -5.8 0zM363.2 1013.6a2.9 2.9 0 1 0 5.8 0a2.9 2.9 0 1 0 -5.8 0zM364.3 1011.5a2.9 2.9 0 1 0 5.8 0a2.9 2.9 0 1 0 -5.8 0zM365.4 1009.1a2.9 2.9 0 1 0 5.8 0a2.9 2.9 0 1 0 -5.8 0zM366.5 1009.5a2.9 2.9 0 1 0 5.8 0a2.9 2.9 0 1 0 -5.8 0zM367.6 1009.1a2.9 2.9 0 1 0 5.8 0a2.9 2.9 0 1 0 -5.8 0zM368.7 1013.7a2.9 2.9 0 1 0 5.8 0a2.9 2.9 0 1 0 -5.8 0zM369.8 1010.0a2.9 2.9 0 1 0 5.8 0a2.9 2.9 0 1 0 -5.8 0zM370.9 1013.1a2.9 2.9 0 1 0 5.8 0a2.9 2.9 0 1 0 -5.8 0zM372.0 1012.2a2.9 2.9 0 1 0 5.8 0a2.9 2.9 0 1 0 -5.8 0zM373.1 1013.9a2.9 2.9 0 1 0 5.8 0a2.9 2.9 0 1 0 -5.8 0zM374.2 1012.8a2.9 2.9 0 1 0 5.8 0a2.9 2.9 0 1 0 -5.8 0zM375.3 1011.1a2.9 2.9 0 1 0 5.8 0a2.9 2.9 0 1 0 -5.8 0zM376.4 1011.0a2.9 2.9 0 1 0 5.8 0a2.9 2.9 0 1 0 -5.8 0zM377.5 1011.4a2.9 2.9 0 1 0 5.8 0a2.9 2.9 0 1 0 -5.8 0zM378.6 1011.6a2.9 2.9 0 1 0 5.8 0a2.9 2.9 0 1 0 -5.8 0zM379.7 1010.5a2.9 2.9 0 1 0 5.8 0a2.9 2.9 0 1 0 -5.8 0zM380.8 1011.3a2.9 2.9 0 1 0 5.8 0a2.9 2.9 0 1 0 -5.8 0zM381.9 1013.7a2.9 2.9 0 1 0 5.8 0a2.9 2.9 0 1 0 -5.8 0zM383.0 1008.7a2.9 2.9 0 1 0 5.8 0a2.9 2.9 0 1 0 -5.8 0zM384.1 1011.7a2.9 2.9 0 1 0 5.8 0a2.9 2.9 0 1 0 -5.8 0zM385.2 1009.9a2.9 2.9 0 1 0 5.8 0a2.9 2.9 0 1 0 -5.8 0zM386.3 1011.6a2.9 2.9 0 1 0 5.8 0a2.9 2.9 0 1 0 -5.8 0zM387.4 1012.6a2.9 2.9 0 1 0 5.8 0a2.9 2.9 0 1 0 -5.8 0zM388.5 1011.2a2.9 2.9 0 1 0 5.8 0a2.9 2.9 0 1 0 -5.8 0zM389.6 1012.5a2.9 2.9 0 1 0 5.8 0a2.9 2.9 0 1 0 -5.8 0zM390.7 1008.9a2.9 2.9 0 1 0 5.8 0a2.9 2.9 0 1 0 -5.8 0zM391.8 1013.0a2.9 2.9 0 1 0 5.8 0a2.9 2.9 0 1 0 -5.8 0zM392.9 1010.4a2.9 2.9 0 1 0 5.8 0a2.9 2.9 0 1 0 -5.8 0zM394.0 1012.2a2.9 2.9 0 1 0 5.8 0a2.9 2.9 0 1 0 -5.8 0zM395.1 1011.6a2.9 2.9 0 1 0 5.8 0a2.9 2.9 0 1 0 -5.8 0zM396.2 1007.4a2.9 2.9 0 1 0 5.8 0a2.9 2.9 0 1 0 -5.8 0zM397.3 1010.2a2.9 2.9 0 1 0 5.8 0a2.9 2.9 0 1 0 -5.8 0zM398.4 1011.6a2.9 2.9 0 1 0 5.8 0a2.9 2.9 0 1 0 -5.8 0zM399.5 1013.6a2.9 2.9 0 1 0 5.8 0a2.9 2.9 0 1 0 -5.8 0zM400.6 1011.7a2.9 2.9 0 1 0 5.8 0a2.9 2.9 0 1 0 -5.8 0zM401.7 1011.7a2.9 2.9 0 1 0 5.8 0a2.9 2.9 0 1 0 -5.8 0zM402.8 1009.2a2.9 2.9 0 1 0 5.8 0a2.9 2.9 0 1 0 -5.8 0zM403.9 1013.4a2.9 2.9 0 1 0 5.8 0a2.9 2.9 0 1 0 -5.8 0zM405.0 1014.0a2.9 2.9 0 1 0 5.8 0a2.9 2.9 0 1 0 -5.8 0zM406.1 1011.3a2.9 2.9 0 1 0 5.8 0a2.9 2.9 0 1 0 -5.8 0zM407.2 1011.0a2.9 2.9 0 1 0 5.8 0a2.9 2.9 0 1 0 -5.8 0zM408.3 1008.9a2.9 2.9 0 1 0 5.8 0a2.9 2.9 0 1 0 -5.8 0zM409.4 1012.6a2.9 2.9 0 1 0 5.8 0a2.9 2.9 0 1 0 -5.8 0zM410.5 1015.4a2.9 2.9 0 1 0 5.8 0a2.9 2.9 0 1 0 -5.8 0zM411.6 1012.4a2.9 2.9 0 1 0 5.8 0a2.9 2.9 0 1 0 -5.8 0zM412.7 1013.2a2.9 2.9 0 1 0 5.8 0a2.9 2.9 0 1 0 -5.8 0zM413.8 1012.1a2.9 2.9 0 1 0 5.8 0a2.9 2.9 0 1 0 -5.8 0zM414.9 1009.8a2.9 2.9 0 1 0 5.8 0a2.9 2.9 0 1 0 -5.8 0zM416.0 1013.3a2.9 2.9 0 1 0 5.8 0a2.9 2.9 0 1 0 -5.8 0zM417.1 1009.4a2.9 2.9 0 1 0 5.8 0a2.9 2.9 0 1 0 -5.8 0zM418.2 1011.0a2.9 2.9 0 1 0 5.8 0a2.9 2.9 0 1 0 -5.8 0zM419.3 1011.7a2.9 2.9 0 1 0 5.8 0a2.9 2.9 0 1 0 -5.8 0zM420.4 1012.6a2.9 2.9 0 1 0 5.8 0a2.9 2.9 0 1 0 -5.8 0zM421.5 1011.9a2.9 2.9 0 1 0 5.8 0a2.9 2.9 0 1 0 -5.8 0zM422.6 1011.9a2.9 2.9 0 1 0 5.8 0a2.9 2.9 0 1 0 -5.8 0zM423.7 1010.2a2.9 2.9 0 1 0 5.8 0a2.9 2.9 0 1 0 -5.8 0zM424.8 1009.4a2.9 2.9 0 1 0 5.8 0a2.9 2.9 0 1 0 -5.8 0zM425.9 1011.4a2.9 2.9 0 1 0 5.8 0a2.9 2.9 0 1 0 -5.8 0zM427.0 1010.2a2.9 2.9 0 1 0 5.8 0a2.9 2.9 0 1 0 -5.8 0zM428.1 1009.3a2.9 2.9 0 1 0 5.8 0a2.9 2.9 0 1 0 -5.8 0zM429.2 1009.4a2.9 2.9 0 1 0 5.8 0a2.9 2.9 0 1 0 -5.8 0zM430.3 1010.6a2.9 2.9 0 1 0 5.8 0a2.9 2.9 0 1 0 -5.8 0zM431.4 1008.5a2.9 2.9 0 1 0 5.8 0a2.9 2.9 0 1 0 -5.8 0zM432.5 1009.3a2.9 2.9 0 1 0 5.8 0a2.9 2.9 0 1 0 -5.8 0zM433.6 1008.8a2.9 2.9 0 1 0 5.8 0a2.9 2.9 0 1 0 -5.8 0zM434.7 1011.6a2.9 2.9 0 1 0 5.8 0a2.9 2.9 0 1 0 -5.8 0zM435.8 1011.9a2.9 2.9 0 1 0 5.8 0a2.9 2.9 0 1 0 -5.8 0zM436.9 1014.3a2.9 2.9 0 1 0 5.8 0a2.9 2.9 0 1 0 -5.8 0zM438.0 1009.1a2.9 2.9 0 1 0 5.8 0a2.9 2.9 0 1 0 -5.8 0zM439.1 1010.3a2.9 2.9 0 1 0 5.8 0a2.9 2.9 0 1 0 -5.8 0zM440.2 1012.7a2.9 2.9 0 1 0 5.8 0a2.9 2.9 0 1 0 -5.8 0zM441.3 1011.0a2.9 2.9 0 1 0 5.8 0a2.9 2.9 0 1 0 -5.8 0zM442.4 1010.8a2.9 2.9 0 1 0 5.8 0a2.9 2.9 0 1 0 -5.8 0zM443.5 1013.9a2.9 2.9 0 1 0 5.8 0a2.9 2.9 0 1 0 -5.8 0zM444.6 1010.8a2.9 2.9 0 1 0 5.8 0a2.9 2.9 0 1 0 -5.8 0zM445.7 1009.6a2.9 2.9 0 1 0 5.8 0a2.9 2.9 0 1 0 -5.8 0zM446.8 1009.3a2.9 2.9 0 1 0 5.8 0a2.9 2.9 0 1 0 -5.8 0zM447.9 1011.8a2.9 2.9 0 1 0 5.8 0a2.9 2.9 0 1 0 -5.8 0zM449.0 1011.8a2.9 2.9 0 1 0 5.8 0a2.9 2.9 0 1 0 -5.8 0zM450.1 1009.2a2.9 2.9 0 1 0 5.8 0a2.9 2.9 0 1 0 -5.8 0zM451.2 1009.8a2.9 2.9 0 1 0 5.8 0a2.9 2.9 0 1 0 -5.8 0zM452.3 1012.1a2.9 2.9 0 1 0 5.8 0a2.9 2.9 0 1 0 -5.8 0zM453.4 1012.2a2.9 2.9 0 1 0 5.8 0a2.9 2.9 0 1 0 -5.8 0zM454.5 1010.3a2.9 2.9 0 1 0 5.8 0a2.9 2.9 0 1 0 -5.8 0zM455.6 1012.2a2.9 2.9 0 1 0 5.8 0a2.9 2.9 0 1 0 -5.8 0zM456.7 1012.2a2.9 2.9 0 1 0 5.8 0a2.9 2.9 0 1 0 -5.8 0zM457.8 1008.6a2.9 2.9 0 1 0 5.8 0a2.9 2.9 0 1 0 -5.8 0zM458.9 1010.8a2.9 2.9 0 1 0 5.8 0a2.9 2.9 0 1 0 -5.8 0zM460.0 1011.9a2.9 2.9 0 1 0 5.8 0a2.9 2.9 0 1 0 -5.8 0zM461.1 1010.4a2.9 2.9 0 1 0 5.8 0a2.9 2.9 0 1 0 -5.8 0zM462.2 1008.1a2.9 2.9 0 1 0 5.8 0a2.9 2.9 0 1 0 -5.8 0zM463.3 1010.9a2.9 2.9 0 1 0 5.8 0a2.9 2.9 0 1 0 -5.8 0zM464.4 1012.4a2.9 2.9 0 1 0 5.8 0a2.9 2.9 0 1 0 -5.8 0zM465.5 1013.7a2.9 2.9 0 1 0 5.8 0a2.9 2.9 0 1 0 -5.8 0zM466.6 1008.0a2.9 2.9 0 1 0 5.8 0a2.9 2.9 0 1 0 -5.8 0zM467.9 1012.3a2.9 2.9 0 1 0 5.8 0a2.9 2.9 0 1 0 -5.8 0zM469.0 1013.9a2.9 2.9 0 1 0 5.8 0a2.9 2.9 0 1 0 -5.8 0zM470.6 1013.4a2.9 2.9 0 1 0 5.8 0a2.9 2.9 0 1 0 -5.8 0zM471.6 1013.8a2.9 2.9 0 1 0 5.8 0a2.9 2.9 0 1 0 -5.8 0zM473.3 1012.1a2.9 2.9 0 1 0 5.8 0a2.9 2.9 0 1 0 -5.8 0zM475.9 1014.2a2.9 2.9 0 1 0 5.8 0a2.9 2.9 0 1 0 -5.8 0zM477.2 1013.4a2.9 2.9 0 1 0 5.8 0a2.9 2.9 0 1 0 -5.8 0zM478.7 1015.0a2.9 2.9 0 1 0 5.8 0a2.9 2.9 0 1 0 -5.8 0zM480.4 1014.2a2.9 2.9 0 1 0 5.8 0a2.9 2.9 0 1 0 -5.8 0zM481.1 1014.3a2.9 2.9 0 1 0 5.8 0a2.9 2.9 0 1 0 -5.8 0zM482.4 1013.5a2.9 2.9 0 1 0 5.8 0a2.9 2.9 0 1 0 -5.8 0zM484.7 1014.1a2.9 2.9 0 1 0 5.8 0a2.9 2.9 0 1 0 -5.8 0zM484.7 1014.6a2.9 2.9 0 1 0 5.8 0a2.9 2.9 0 1 0 -5.8 0zM486.2 1016.0a2.9 2.9 0 1 0 5.8 0a2.9 2.9 0 1 0 -5.8 0zM486.6 1016.6a2.9 2.9 0 1 0 5.8 0a2.9 2.9 0 1 0 -5.8 0zM487.4 1016.2a2.9 2.9 0 1 0 5.8 0a2.9 2.9 0 1 0 -5.8 0zM488.8 1016.2a2.9 2.9 0 1 0 5.8 0a2.9 2.9 0 1 0 -5.8 0zM489.4 1016.7a2.9 2.9 0 1 0 5.8 0a2.9 2.9 0 1 0 -5.8 0zM490.5 1019.1a2.9 2.9 0 1 0 5.8 0a2.9 2.9 0 1 0 -5.8 0zM491.2 1018.8a2.9 2.9 0 1 0 5.8 0a2.9 2.9 0 1 0 -5.8 0zM492.1 1018.5a2.9 2.9 0 1 0 5.8 0a2.9 2.9 0 1 0 -5.8 0zM493.0 1020.6a2.9 2.9 0 1 0 5.8 0a2.9 2.9 0 1 0 -5.8 0zM495.0 1020.6a2.9 2.9 0 1 0 5.8 0a2.9 2.9 0 1 0 -5.8 0zM495.1 1021.3a2.9 2.9 0 1 0 5.8 0a2.9 2.9 0 1 0 -5.8 0zM495.2 1021.4a2.9 2.9 0 1 0 5.8 0a2.9 2.9 0 1 0 -5.8 0zM496.0 1021.7a2.9 2.9 0 1 0 5.8 0a2.9 2.9 0 1 0 -5.8 0zM496.8 1021.8a2.9 2.9 0 1 0 5.8 0a2.9 2.9 0 1 0 -5.8 0zM497.1 1021.8a2.9 2.9 0 1 0 5.8 0a2.9 2.9 0 1 0 -5.8 0zM497.7 1022.6a2.9 2.9 0 1 0 5.8 0a2.9 2.9 0 1 0 -5.8 0zM498.5 1023.6a2.9 2.9 0 1 0 5.8 0a2.9 2.9 0 1 0 -5.8 0zM499.2 1025.0a2.9 2.9 0 1 0 5.8 0a2.9 2.9 0 1 0 -5.8 0zM499.4 1024.9a2.9 2.9 0 1 0 5.8 0a2.9 2.9 0 1 0 -5.8 0zM500.2 1026.5a2.9 2.9 0 1 0 5.8 0a2.9 2.9 0 1 0 -5.8 0zM501.6 1027.2a2.9 2.9 0 1 0 5.8 0a2.9 2.9 0 1 0 -5.8 0zM501.6 1028.2a2.9 2.9 0 1 0 5.8 0a2.9 2.9 0 1 0 -5.8 0zM501.9 1028.9a2.9 2.9 0 1 0 5.8 0a2.9 2.9 0 1 0 -5.8 0zM502.2 1026.3a2.9 2.9 0 1 0 5.8 0a2.9 2.9 0 1 0 -5.8 0zM503.6 1029.7a2.9 2.9 0 1 0 5.8 0a2.9 2.9 0 1 0 -5.8 0zM502.9 1029.7a2.9 2.9 0 1 0 5.8 0a2.9 2.9 0 1 0 -5.8 0zM503.5 1030.5a2.9 2.9 0 1 0 5.8 0a2.9 2.9 0 1 0 -5.8 0zM503.6 1030.8a2.9 2.9 0 1 0 5.8 0a2.9 2.9 0 1 0 -5.8 0zM504.5 1032.1a2.9 2.9 0 1 0 5.8 0a2.9 2.9 0 1 0 -5.8 0zM505.2 1032.8a2.9 2.9 0 1 0 5.8 0a2.9 2.9 0 1 0 -5.8 0zM505.9 1033.2a2.9 2.9 0 1 0 5.8 0a2.9 2.9 0 1 0 -5.8 0zM505.7 1033.3a2.9 2.9 0 1 0 5.8 0a2.9 2.9 0 1 0 -5.8 0zM505.6 1036.0a2.9 2.9 0 1 0 5.8 0a2.9 2.9 0 1 0 -5.8 0zM506.1 1036.3a2.9 2.9 0 1 0 5.8 0a2.9 2.9 0 1 0 -5.8 0zM506.8 1036.2a2.9 2.9 0 1 0 5.8 0a2.9 2.9 0 1 0 -5.8 0zM530.5 1028.5a2.9 2.9 0 1 0 5.8 0a2.9 2.9 0 1 0 -5.8 0zM531.0 1028.9a2.9 2.9 0 1 0 5.8 0a2.9 2.9 0 1 0 -5.8 0zM531.9 1027.8a2.9 2.9 0 1 0 5.8 0a2.9 2.9 0 1 0 -5.8 0zM532.0 1028.0a2.9 2.9 0 1 0 5.8 0a2.9 2.9 0 1 0 -5.8 0zM532.8 1028.1a2.9 2.9 0 1 0 5.8 0a2.9 2.9 0 1 0 -5.8 0zM534.1 1027.6a2.9 2.9 0 1 0 5.8 0a2.9 2.9 0 1 0 -5.8 0zM533.9 1026.7a2.9 2.9 0 1 0 5.8 0a2.9 2.9 0 1 0 -5.8 0zM534.2 1025.9a2.9 2.9 0 1 0 5.8 0a2.9 2.9 0 1 0 -5.8 0zM534.7 1025.9a2.9 2.9 0 1 0 5.8 0a2.9 2.9 0 1 0 -5.8 0zM535.4 1026.2a2.9 2.9 0 1 0 5.8 0a2.9 2.9 0 1 0 -5.8 0zM535.9 1025.3a2.9 2.9 0 1 0 5.8 0a2.9 2.9 0 1 0 -5.8 0zM536.2 1026.1a2.9 2.9 0 1 0 5.8 0a2.9 2.9 0 1 0 -5.8 0zM537.3 1025.8a2.9 2.9 0 1 0 5.8 0a2.9 2.9 0 1 0 -5.8 0zM537.9 1025.3a2.9 2.9 0 1 0 5.8 0a2.9 2.9 0 1 0 -5.8 0zM537.6 1024.8a2.9 2.9 0 1 0 5.8 0a2.9 2.9 0 1 0 -5.8 0zM539.9 1023.3a2.9 2.9 0 1 0 5.8 0a2.9 2.9 0 1 0 -5.8 0zM540.8 1024.6a2.9 2.9 0 1 0 5.8 0a2.9 2.9 0 1 0 -5.8 0zM541.9 1023.6a2.9 2.9 0 1 0 5.8 0a2.9 2.9 0 1 0 -5.8 0zM543.5 1022.4a2.9 2.9 0 1 0 5.8 0a2.9 2.9 0 1 0 -5.8 0zM544.6 1021.8a2.9 2.9 0 1 0 5.8 0a2.9 2.9 0 1 0 -5.8 0zM545.6 1021.6a2.9 2.9 0 1 0 5.8 0a2.9 2.9 0 1 0 -5.8 0zM547.1 1021.6a2.9 2.9 0 1 0 5.8 0a2.9 2.9 0 1 0 -5.8 0zM548.7 1020.3a2.9 2.9 0 1 0 5.8 0a2.9 2.9 0 1 0 -5.8 0zM550.5 1021.4a2.9 2.9 0 1 0 5.8 0a2.9 2.9 0 1 0 -5.8 0zM551.5 1020.1a2.9 2.9 0 1 0 5.8 0a2.9 2.9 0 1 0 -5.8 0zM552.6 1020.3a2.9 2.9 0 1 0 5.8 0a2.9 2.9 0 1 0 -5.8 0zM554.1 1018.5a2.9 2.9 0 1 0 5.8 0a2.9 2.9 0 1 0 -5.8 0zM555.5 1020.9a2.9 2.9 0 1 0 5.8 0a2.9 2.9 0 1 0 -5.8 0zM554.7 1019.7a2.9 2.9 0 1 0 5.8 0a2.9 2.9 0 1 0 -5.8 0zM556.8 1018.8a2.9 2.9 0 1 0 5.8 0a2.9 2.9 0 1 0 -5.8 0zM558.4 1017.8a2.9 2.9 0 1 0 5.8 0a2.9 2.9 0 1 0 -5.8 0zM559.4 1019.2a2.9 2.9 0 1 0 5.8 0a2.9 2.9 0 1 0 -5.8 0zM560.7 1017.8a2.9 2.9 0 1 0 5.8 0a2.9 2.9 0 1 0 -5.8 0zM562.1 1017.5a2.9 2.9 0 1 0 5.8 0a2.9 2.9 0 1 0 -5.8 0zM563.9 1016.9a2.9 2.9 0 1 0 5.8 0a2.9 2.9 0 1 0 -5.8 0zM565.1 1016.4a2.9 2.9 0 1 0 5.8 0a2.9 2.9 0 1 0 -5.8 0zM566.4 1016.9a2.9 2.9 0 1 0 5.8 0a2.9 2.9 0 1 0 -5.8 0zM566.8 1016.7a2.9 2.9 0 1 0 5.8 0a2.9 2.9 0 1 0 -5.8 0zM568.6 1016.1a2.9 2.9 0 1 0 5.8 0a2.9 2.9 0 1 0 -5.8 0zM570.8 1015.4a2.9 2.9 0 1 0 5.8 0a2.9 2.9 0 1 0 -5.8 0zM571.3 1016.8a2.9 2.9 0 1 0 5.8 0a2.9 2.9 0 1 0 -5.8 0zM573.0 1016.6a2.9 2.9 0 1 0 5.8 0a2.9 2.9 0 1 0 -5.8 0zM573.1 1015.1a2.9 2.9 0 1 0 5.8 0a2.9 2.9 0 1 0 -5.8 0zM574.1 1016.1a2.9 2.9 0 1 0 5.8 0a2.9 2.9 0 1 0 -5.8 0zM575.5 1015.1a2.9 2.9 0 1 0 5.8 0a2.9 2.9 0 1 0 -5.8 0zM576.3 1014.8a2.9 2.9 0 1 0 5.8 0a2.9 2.9 0 1 0 -5.8 0zM577.2 1015.8a2.9 2.9 0 1 0 5.8 0a2.9 2.9 0 1 0 -5.8 0zM578.4 1013.7a2.9 2.9 0 1 0 5.8 0a2.9 2.9 0 1 0 -5.8 0zM579.4 1014.6a2.9 2.9 0 1 0 5.8 0a2.9 2.9 0 1 0 -5.8 0zM580.8 1013.8a2.9 2.9 0 1 0 5.8 0a2.9 2.9 0 1 0 -5.8 0zM581.5 1013.7a2.9 2.9 0 1 0 5.8 0a2.9 2.9 0 1 0 -5.8 0zM582.2 1012.7a2.9 2.9 0 1 0 5.8 0a2.9 2.9 0 1 0 -5.8 0zM584.1 1012.9a2.9 2.9 0 1 0 5.8 0a2.9 2.9 0 1 0 -5.8 0zM585.0 1013.7a2.9 2.9 0 1 0 5.8 0a2.9 2.9 0 1 0 -5.8 0zM586.2 1012.8a2.9 2.9 0 1 0 5.8 0a2.9 2.9 0 1 0 -5.8 0zM587.8 1012.9a2.9 2.9 0 1 0 5.8 0a2.9 2.9 0 1 0 -5.8 0zM506.7 1036.8a3.0 3.0 0 1 0 6.0 0a3.0 3.0 0 1 0 -6.0 0zM507.2 1044.7a3.0 3.0 0 1 0 6.0 0a3.0 3.0 0 1 0 -6.0 0zM507.9 1052.6a3.0 3.0 0 1 0 6.0 0a3.0 3.0 0 1 0 -6.0 0zM509.0 1060.6a3.0 3.0 0 1 0 6.0 0a3.0 3.0 0 1 0 -6.0 0zM510.2 1072.0a3.0 3.0 0 1 0 6.0 0a3.0 3.0 0 1 0 -6.0 0zM511.6 1095.9a3.0 3.0 0 1 0 6.0 0a3.0 3.0 0 1 0 -6.0 0zM512.0 1121.5a3.0 3.0 0 1 0 6.0 0a3.0 3.0 0 1 0 -6.0 0zM512.5 1137.3a3.0 3.0 0 1 0 6.0 0a3.0 3.0 0 1 0 -6.0 0zM513.4 1162.9a3.0 3.0 0 1 0 6.0 0a3.0 3.0 0 1 0 -6.0 0zM514.6 1182.3a3.0 3.0 0 1 0 6.0 0a3.0 3.0 0 1 0 -6.0 0zM515.0 1196.5a3.0 3.0 0 1 0 6.0 0a3.0 3.0 0 1 0 -6.0 0zM516.1 1211.5a3.0 3.0 0 1 0 6.0 0a3.0 3.0 0 1 0 -6.0 0zM517.3 1221.2a3.0 3.0 0 1 0 6.0 0a3.0 3.0 0 1 0 -6.0 0zM518.2 1230.0a3.0 3.0 0 1 0 6.0 0a3.0 3.0 0 1 0 -6.0 0zM518.6 1234.4a3.0 3.0 0 1 0 6.0 0a3.0 3.0 0 1 0 -6.0 0zM519.9 1221.2a3.0 3.0 0 1 0 6.0 0a3.0 3.0 0 1 0 -6.0 0zM521.7 1193.0a3.0 3.0 0 1 0 6.0 0a3.0 3.0 0 1 0 -6.0 0zM523.1 1178.0a3.0 3.0 0 1 0 6.0 0a3.0 3.0 0 1 0 -6.0 0zM523.8 1158.5a3.0 3.0 0 1 0 6.0 0a3.0 3.0 0 1 0 -6.0 0zM524.9 1129.4a3.0 3.0 0 1 0 6.0 0a3.0 3.0 0 1 0 -6.0 0zM525.6 1098.5a3.0 3.0 0 1 0 6.0 0a3.0 3.0 0 1 0 -6.0 0zM527.0 1079.1a3.0 3.0 0 1 0 6.0 0a3.0 3.0 0 1 0 -6.0 0zM527.9 1062.3a3.0 3.0 0 1 0 6.0 0a3.0 3.0 0 1 0 -6.0 0zM528.4 1047.4a3.0 3.0 0 1 0 6.0 0a3.0 3.0 0 1 0 -6.0 0zM528.8 1038.5a3.0 3.0 0 1 0 6.0 0a3.0 3.0 0 1 0 -6.0 0z" fill="#1a1a1a"/>
<path d="M483.9 1154 L515.4 1236.5 M497.9 1212 L515.4 1236.5 M512.6 1206.4 L515.4 1236.5" fill="none" stroke="#111" stroke-width="1.5"/>
</svg></body></html>
